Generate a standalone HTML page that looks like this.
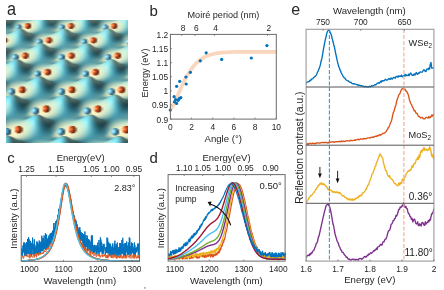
<!DOCTYPE html>
<html><head><meta charset="utf-8"><style>
html,body{margin:0;padding:0;background:#fff;width:444px;height:290px;overflow:hidden}
svg{display:block;position:absolute;left:0;top:0;will-change:transform;font-family:"Liberation Sans",sans-serif}
#ta{position:absolute;left:6px;top:20px;width:122px;height:123px;overflow:hidden}
#ta i{display:block;height:1px;width:122px}
</style></head><body><div id="ta"><i style="background:linear-gradient(90deg,#576f68,#5d746c,#5b726b,#526f6c,#507e81,#548b91,#659d9f,#75aaa8,#80b2ae,#88b8b2,#8cbcb5,#90c0b8,#99c8be,#b1ddce,#c1eddb,#baf1e4,#aaf2f0,#91e8f1,#72c6d1,#5da1a9,#528184,#53706c,#5a726a,#5c736b,#516c68,#4d797c,#4d868d,#5d979c,#6ea5a6,#7cb0ad,#85b7b1,#8bbbb4,#90bfb7,#97c6bc,#abd7c9,#c1ead7,#c0f0df,#b4f2ea,#a1f0f3,#84dae3,#6cb6be,#599197,#547877,#576f69,#5a726a,#516b66,#4b7476,#498189,#539098,#66a0a3,#76acab,#81b4b0,#89bab4,#8ebeb7,#95c4bb,#a5d2c5,#bde6d3,#c4efdc,#bcf1e4,#adf3f0,#95e8ef,#82d2da)"></i><i style="background:linear-gradient(90deg,#4c6662,#526b65,#546d67,#4f6965,#4c7375,#5f8e8e,#78a6a2,#8cb6ad,#9ac1b4,#a3c9b9,#aacfbe,#b3d7c4,#c0e2cc,#cdecd3,#cef1d9,#c3f2e1,#b1f3ed,#95e7ed,#6ec3d1,#579faa,#4c8086,#4b6d6d,#4f6864,#526b66,#4d6763,#476c6d,#528285,#6c9d9c,#83b1aa,#94beb2,#a0c6b8,#a8cdbd,#b0d5c3,#bcdfca,#cbead1,#d1f0d6,#caf2dd,#bcf3e7,#a6f0f0,#82d7e1,#65b3be,#539199,#4d7779,#4c6865,#506964,#4c6662,#446565,#46777c,#5f9396,#79a9a6,#8db9b0,#9cc4b7,#a5cbbc,#aed3c1,#b9dcc8,#c7e7cf,#d1eed4,#cff1d9,#c5f3e1,#b3f3ec,#96e7ec,#7bcfda)"></i><i style="background:linear-gradient(90deg,#416061,#44605e,#47625f,#466462,#4f7676,#709994,#8eb3a8,#a5c5b4,#b4d0bb,#bed8c0,#c6dec4,#cee5ca,#d6ecce,#dbf1d2,#d6f2d6,#c9f3df,#b5f2e9,#96e4e8,#6cc2cf,#519dab,#457f88,#426b6e,#42605f,#45605e,#435f5e,#44696b,#5f8a89,#80a9a1,#9bbeb0,#aecdb9,#bbd6be,#c3ddc3,#cbe3c8,#d4eacd,#daf0d0,#daf2d4,#d1f3da,#c1f3e4,#a8eeeb,#83d5de,#5fb1bf,#4d909b,#45757b,#426465,#425e5c,#405c5b,#3d5f61,#4e7a7d,#709c99,#8eb6ab,#a6c7b6,#b6d3bd,#c0dac2,#c9e1c7,#d1e8cc,#d9eecf,#dbf1d2,#d6f2d7,#caf3df,#b7f2e8,#98e4e7,#79ced8)"></i><i style="background:linear-gradient(90deg,#375e62,#395a5c,#3b5a5b,#3f6265,#5a817f,#81a59c,#a3c1af,#bcd3ba,#ccdec0,#d5e4c4,#ddab82,#ac3e16,#b4a98b,#e2f2d0,#dbf2d4,#ccf2dc,#b6efe5,#95e0e3,#6dc1cd,#4d9cac,#3f7f8b,#3a6971,#385c60,#38585a,#395b5e,#486f71,#6d9591,#92b5a8,#b1ccb6,#c5dabe,#d1e2c3,#d9e7c6,#d77041,#924829,#dfebc8,#dff2d2,#d5f2d8,#c3f1e1,#a9eae6,#83d3db,#5db0bf,#478f9d,#3d747e,#386267,#36585a,#365659,#3a6165,#598484,#80a79f,#a2c2b1,#bcd4bb,#cddfc1,#d6e5c5,#dfc49d,#bf4a1e,#ab9274,#e2f2d0,#dbf3d5,#cef2dc,#b8f0e4,#98e1e3,#7acdd6)"></i><i style="background:linear-gradient(90deg,#305d66,#30595f,#335a5f,#40696d,#658d8a,#8fb1a4,#7bb2c0,#91ada4,#dee7c3,#e5ecc6,#f9753d,#bf471a,#794930,#e6f3ce,#ddf2d3,#cdf1da,#b5ece1,#93dcde,#6cbfcb,#4c9dad,#3b7f8e,#336974,#305c63,#30585d,#355e63,#507a7c,#79a099,#96bdb6,#71a5b5,#bdcdb3,#e3eac5,#edc598,#f26028,#933513,#b0a384,#e3f2d0,#d7f2d6,#c3efdd,#a7e6e1,#82d0d7,#5db0bf,#438f9f,#387582,#31626b,#2f585e,#2f575e,#3e696e,#638e8c,#8db2a6,#90bfc2,#7ba2a7,#d9e3c0,#e6edc6,#f78f59,#d75220,#75341a,#e6f3ce,#def2d3,#cff1d9,#b8ece0,#97dede,#7acbd3)"></i><i style="background:linear-gradient(90deg,#2f636d,#2e5e67,#305f67,#467478,#6d9793,#8ac1c3,#68bde7,#38667e,#dbdfbb,#f1f2c7,#ff9559,#c25024,#5c210c,#e9f2cd,#def1d1,#cceed7,#b2e7dc,#8fd7d9,#6bbdc9,#4c9eaf,#3b8393,#346e7b,#30616b,#305e66,#38666e,#578486,#82a9a0,#83cfe5,#5ba5cc,#5d7b7f,#f0f1c6,#f7ae7b,#f89a62,#923513,#957b5f,#e4f2cf,#d7f0d4,#c1ecda,#a4e2dc,#7fcdd3,#5cb0be,#4391a2,#377987,#316772,#305f68,#336169,#447379,#6b9794,#92bbb3,#74cff7,#4b88a9,#a3b19d,#f1f2c7,#fd955a,#dc6d3c,#6c270e,#d5d8b5,#def1d1,#ceefd6,#b5e8dc,#94dada,#78c8d1)"></i><i style="background:linear-gradient(90deg,#3a707a,#396c75,#3a6d75,#4b7e83,#729f9b,#8ed6dd,#94d7ee,#396881,#afb8a1,#f8f5c8,#f7652d,#ae4119,#57200b,#e9f2cb,#ddf0cf,#c9ebd4,#ade2d8,#8ad2d4,#68bac6,#4d9faf,#428998,#3d7985,#3b7079,#3d6e75,#41747b,#5c8d8f,#8ab1a7,#a0eefd,#69b3d4,#34586a,#f7f4c7,#f8ad79,#e7622d,#832f11,#957b5f,#e4f1cd,#d5eed1,#bee8d6,#9fdcd7,#7bc8cf,#5baebd,#4694a5,#3e818f,#3b747e,#3d6f76,#417279,#4b7f84,#709e9b,#93c9c8,#a7f1fe,#4e8daf,#758983,#f7f5c8,#f8763e,#c84e21,#63240d,#d6d7b3,#def0cf,#ccecd4,#b1e4d7,#90d5d5,#75c5cd)"></i><i style="background:linear-gradient(90deg,#477e86,#477c83,#487e84,#50878e,#7eaaa4,#94dae3,#85cce7,#356178,#aab39d,#f9f6c8,#d96c3b,#903412,#70462e,#e7f0ca,#d9edcd,#c4e7d1,#a6dcd3,#84cccf,#64b5c2,#50a0b0,#49909d,#47848e,#497f86,#4c7f84,#50848a,#609597,#a1c0af,#96e9ff,#61a7c9,#2b4f62,#f9f5c8,#f1cc9d,#c24619,#6d280e,#b1a282,#e2efcc,#d1ebcf,#b8e3d2,#98d6d2,#76c3cb,#59acbb,#4a98a8,#468a96,#47818a,#4b7f85,#528488,#598d91,#7ca9a3,#9ed2d1,#9ae8fc,#4984a4,#687d7b,#f9f6c8,#e08251,#a63c15,#612d17,#e8f0ca,#dbedcd,#c7e8d1,#acdfd3,#8acfd0,#71c0c9)"></i><i style="background:linear-gradient(90deg,#538b91,#558b8f,#578d91,#609699,#9cbeae,#95cdd9,#65aecd,#4d7b85,#b2bba1,#f9f6c8,#dab58a,#68260d,#b7a886,#e3edc9,#d3e9cb,#bce1cd,#9dd5cd,#7cc4c8,#60b1be,#54a2b0,#4f96a1,#518f97,#568c91,#5b8e91,#609496,#7aa8a3,#bad0b6,#74c3e9,#5a9cb8,#4d7881,#d6dbb6,#f9f5c8,#a35d3a,#704129,#e4e8c2,#ddebca,#cae6cc,#b0dcce,#90cfcc,#6fbcc5,#58aab8,#4f9baa,#4e919c,#528d94,#598e91,#629394,#6d9e9d,#9abcad,#b5d6c9,#66b8e3,#4b829a,#769b97,#ced5b3,#e3c79b,#783015,#a48d6f,#e4eec9,#d6e9cb,#c0e2cd,#a3d7ce,#82c8ca,#6ab9c4)"></i><i style="background:linear-gradient(90deg,#5e9699,#619799,#659a9b,#82aea6,#b2cbb4,#aad7cb,#7ecdd4,#70acae,#61817b,#dadbb5,#f7f4c7,#f2f2c6,#e8edc6,#dae8c6,#c8e2c7,#afd8c8,#90cac6,#71bac1,#60adb8,#57a2ae,#559aa4,#5a979d,#60979a,#679a9b,#74a4a1,#9cbeae,#c9d9ba,#9acccb,#85d1d5,#79b6b8,#618682,#caceac,#f5f3c7,#eff0c6,#e2ebc6,#d4e6c7,#bfdec8,#a4d3c8,#84c4c5,#67b4be,#59a8b5,#539daa,#5597a1,#5c969b,#65999a,#6e9f9e,#89b1a8,#b3ccb4,#d7e1be,#6faec3,#89d2d5,#80bfc0,#638c89,#bfc6a6,#f3f2c7,#eaeec6,#dde9c6,#cce3c7,#b5dac8,#98cec7,#78bec3,#62b1bd)"></i><i style="background:linear-gradient(90deg,#659c9f,#699e9f,#74a5a2,#95b9ac,#a6cebe,#82dee9,#82d5dd,#72b3b6,#5b8483,#657b71,#e4e6bd,#eceec5,#dfe8c4,#cbdfc2,#b7d7c2,#9dcbc0,#80bdbd,#68b0b8,#5fa9b3,#59a1ac,#589ca6,#5f9ca1,#679ea0,#6fa2a1,#85afa7,#a7c5b1,#b9d6bf,#88dee6,#8adbe1,#7bbdc0,#628f8e,#617970,#dee1ba,#e8ecc4,#d8e5c3,#c4dcc2,#aed3c1,#92c6bf,#75b8bc,#60abb6,#5aa5b0,#559da9,#599ba4,#619ca0,#6ba0a0,#77a6a3,#97bbad,#b8cfb6,#c9ddc0,#90dfe2,#91dfe3,#84c7c8,#699a99,#5d7770,#d7dcb7,#e3eac4,#d1e2c3,#bdd9c2,#a4cec1,#88c1be,#6bb2ba,#5ba9b5)"></i><i style="background:linear-gradient(90deg,#679fa2,#6ba1a2,#73a5a3,#88b3aa,#8adce1,#84e6f3,#82d8e2,#70b4ba,#5c8a8b,#58726c,#7f9282,#d7e2c0,#c7dabe,#b3d0bb,#9ec6b9,#86bab6,#6daeb3,#61a7b0,#5da4ae,#589faa,#599da6,#609ea4,#68a0a2,#70a3a3,#7eaca6,#95bbae,#91dbdc,#8ae7f2,#8bdfe6,#7abfc3,#639596,#5a7570,#7b8e7f,#d3e0c0,#c0d7bd,#accdbb,#96c2b8,#7db6b5,#65aab1,#5ba4af,#58a1ac,#559da8,#599ca5,#629ea3,#6ba2a3,#75a6a4,#8ab3a9,#a2c2b0,#96dad9,#90e8ef,#93e4e8,#84c9cc,#6ba0a0,#5b7a75,#768a7d,#cadabc,#b9d3bc,#a5caba,#8dbeb7,#74b2b4,#5da6b0,#56a2ae)"></i><i style="background:linear-gradient(90deg,#64a0a4,#67a0a2,#699fa0,#86c4c4,#97eaee,#8cebf7,#81dae5,#6db4bb,#5a8d90,#57746f,#5e756d,#829b8e,#99bcae,#8db7ad,#7dafab,#6ba6a9,#5c9fa8,#5ba0a9,#5da1aa,#60a2aa,#62a2a8,#62a0a6,#65a0a4,#6aa1a3,#6da1a1,#89c5c2,#9beaec,#91edf6,#8be1ea,#77bfc5,#61979a,#597975,#5e756d,#819b8e,#96bbad,#89b4ac,#77acaa,#64a3a9,#579da7,#589ea9,#5ba0a9,#5fa1a9,#61a1a8,#62a0a6,#66a1a4,#6da2a3,#71a3a1,#8cc5c1,#9ee9e9,#96edf4,#93e6ed,#81c9ce,#69a2a5,#5b7f7c,#5d746c,#7d978b,#92b9ad,#83b2ab,#71a9aa,#5ea0a8,#529aa7,#539ca8)"></i><i style="background:linear-gradient(90deg,#75adad,#74acac,#8ac1bd,#aeeae1,#a5efed,#96eff7,#7ed9e6,#68b3bc,#568d93,#537472,#59716a,#5f756d,#5c7974,#5d8887,#5a9094,#53919a,#5697a0,#62a0a6,#6ba7aa,#71abad,#75aeae,#76aeae,#75adad,#76adac,#8cc2bd,#b0e9df,#a9efeb,#9bf0f6,#88e1ec,#72bec6,#5e989d,#557b79,#59716a,#5e756c,#5c7a75,#5b8889,#578f94,#4f909a,#5396a0,#5f9fa6,#69a6aa,#70abac,#74adae,#76aead,#76adad,#77aead,#8fc4be,#b2e9dd,#adefe8,#a0f1f4,#91e7ef,#7cc8cf,#66a3a8,#588181,#58716b,#5d746c,#5b7c78,#59898a,#548e95,#4c8f9a,#5095a0,#599ba4)"></i><i style="background:linear-gradient(90deg,#9ac8be,#a7d5c8,#bde9d7,#bdefe0,#b0f2eb,#9ef0f5,#7dd8e5,#62b1bc,#518d95,#4d7475,#516b66,#587069,#576f68,#4e6b67,#4c797c,#4f868d,#61999c,#72a7a7,#7fb1ad,#88b8b2,#8ebdb5,#92c1b8,#99c7bd,#a9d6c8,#bee8d6,#c0efdf,#b4f2e9,#a4f2f4,#87e0eb,#6cbcc6,#58979f,#507b7c,#516c68,#576f68,#556d67,#4b6967,#49787c,#4b858d,#5c979c,#6ea6a6,#7cb0ad,#87b8b2,#8dbdb5,#93c1b9,#9ac8be,#aad6c8,#bfe8d5,#c2efdd,#b9f2e6,#aaf3f2,#90e7ef,#76c6d0,#60a2a9,#538284,#516e6a,#556d67,#526b65,#476766,#45767c,#47838d,#58959c,#66a1a4)"></i><i style="background:linear-gradient(90deg,#bee0cb,#c8e9d1,#ceefd7,#c7f1de,#b8f3e9,#a3f0f2,#7ed6e2,#5daebd,#4c8c96,#467377,#476563,#4d6662,#4f6863,#496461,#466d6f,#578789,#71a19e,#87b3ab,#97bfb3,#a2c7b9,#a9cebd,#b1d5c2,#bbdec9,#c9e9d1,#cfefd6,#caf1dc,#bdf3e6,#aaf2f1,#89dfe8,#66b9c7,#5396a1,#497a7f,#486867,#4b6561,#4c6662,#45615f,#416a6d,#518387,#6c9e9d,#83b1aa,#94beb3,#a0c7b9,#a9cebd,#b1d5c3,#bcdeca,#c9e8d0,#d0efd5,#cdf1db,#c1f3e4,#b0f3ef,#93e5ec,#70c4d0,#5aa1ab,#4c8187,#486b6b,#496360,#496360,#415d5c,#3d676c,#4b8086,#669a9c,#78aaa7)"></i><i style="background:linear-gradient(90deg,#d5ebce,#d9efd1,#d8f2d5,#cef2dc,#bdf3e6,#a5eeed,#80d4de,#5aadbc,#468b98,#3f7279,#3d6163,#405c5b,#425e5c,#405e5d,#476e6f,#66908d,#85ada4,#9ec0b1,#afcdb9,#bbd6be,#c3dcc3,#cae3c8,#d2e9cd,#d9efd0,#d9f1d4,#d1f2da,#c2f3e4,#adf0ec,#8adde4,#63b8c6,#4d95a2,#427981,#3f6568,#3e5c5b,#3f5b5b,#3c5a5b,#41686c,#5e8b8a,#7ea8a2,#99beb0,#adccb9,#bad5be,#c2dcc3,#cae3c8,#d2e9cc,#d9efd0,#daf1d3,#d4f2d8,#c7f3e1,#b4f2eb,#95e3e8,#6dc2cf,#549fac,#468089,#40696d,#3d5b5c,#3c5959,#385658,#3b6468,#578587,#77a4a0,#8db6ac)"></i><i style="background:linear-gradient(90deg,#cfd5b5,#e2f1cf,#ddf2d3,#d2f2d9,#bff2e3,#a5eae8,#7fd2db,#59adbc,#428b9a,#39717c,#355f65,#355659,#365557,#395c5f,#507778,#759c95,#98b9aa,#b3cdb7,#c6dabe,#d1e1c2,#d7e6c6,#d0855b,#a17657,#e2f1cf,#dff2d2,#d5f3d8,#c5f2e1,#aeede8,#8adae0,#63b8c6,#4894a4,#3d7884,#37646a,#34575b,#345356,#34585b,#477073,#6c9591,#90b4a8,#aecab6,#c2d8be,#cfe1c2,#d7e6c6,#d9af88,#ae6b48,#d1d7b6,#e0f2d1,#d8f3d6,#caf3de,#b5f0e6,#95e1e3,#6ec2ce,#4f9eae,#40808c,#386870,#33585d,#315155,#305458,#406a6e,#628e8d,#87afa5,#a0c2b1)"></i><i style="background:linear-gradient(90deg,#5c2b17,#e3ecc7,#e1f2d1,#d4f2d7,#c0efe0,#a3e6e3,#7ecfd7,#5aadbc,#408c9c,#35727f,#2f6069,#2d565d,#2f555b,#396166,#598282,#82a79d,#9fc0b3,#98b7af,#d8e4c2,#e2eac5,#ecc498,#e85620,#893111,#beb796,#e3f3d0,#d8f2d6,#c6f0dd,#aceae3,#89d6dc,#64b7c5,#4795a6,#387987,#31646e,#2d575f,#2d545a,#335c62,#507b7c,#779f99,#9fbfae,#92b8b5,#cadabc,#e0e9c5,#e6e8c1,#f56027,#b14017,#94765a,#e4f3cf,#dbf2d4,#ccf1db,#b5ece2,#94dddf,#6ec1cc,#4e9faf,#3c8190,#336974,#2d5961,#2b5259,#2e575e,#477377,#6d9894,#96b9ab,#abc9b8)"></i><i style="background:linear-gradient(90deg,#541e0b,#c9c4a2,#e2f2d0,#d4f0d5,#beecdc,#a0e1de,#7bcbd3,#59adbc,#418e9f,#347584,#2d636f,#2a5a63,#2c5962,#3e6b71,#618c8b,#8cb0a4,#77c5e6,#4b87a8,#a0af9d,#eef0c6,#f8a772,#f38a53,#8c3312,#998265,#e4f2cf,#d8f1d4,#c5eeda,#a9e5de,#86d2d7,#63b6c4,#4797a8,#377c8b,#2f6774,#2b5b66,#2b5962,#37656c,#578485,#81a8a0,#8dc6d0,#5eaad3,#608087,#edf0c6,#f3d1a3,#ff9256,#b7441a,#71412a,#e6f2ce,#dcf1d2,#cbefd8,#b2e9de,#91d9da,#6dbfcb,#4ea0b1,#3a8394,#306c7a,#2b5d68,#2b5861,#326069,#4d7c80,#76a09b,#9bc1b6,#73caf3)"></i><i style="background:linear-gradient(90deg,#521e0b,#c4bd9b,#e2f1ce,#d2eed3,#bae8d8,#9bdcd9,#78c7cf,#58abbb,#4391a2,#3a7d8b,#346d79,#32656f,#33656f,#43757c,#679594,#8bbcb9,#8be5fe,#5091b4,#62797a,#f6f4c7,#fb9d67,#ec7743,#822f11,#907459,#e5f1cd,#d7efd2,#c2ead7,#a5e0d9,#83ced3,#61b4c2,#4798aa,#3b8291,#35717e,#336772,#35666f,#3d7078,#5c8c8e,#88afa6,#8de1f0,#6fbee1,#345e74,#e2e3bd,#f8ce9e,#fd8147,#ab3f18,#6a3a23,#e7f2cc,#dbf0d0,#c9ecd6,#afe4d9,#8dd5d6,#6bbdc8,#4ea1b2,#3d8898,#367583,#336974,#35676f,#3b6d75,#528488,#7ba7a1,#93d0d3,#96efff)"></i><i style="background:linear-gradient(90deg,#521e0b,#cdc9a6,#e0efcd,#ceebd1,#b4e3d4,#95d6d4,#73c1ca,#56a9b9,#4795a5,#418592,#3e7984,#3e747d,#40757d,#487f86,#6b9c9b,#93c9c8,#b7f6ff,#4f8eb0,#425e68,#f9f5c8,#f1aa78,#ca4a1b,#71290e,#a38e70,#e3f0cc,#d4ecd0,#bde6d4,#9fdbd5,#7dc9ce,#5eb1c0,#499aab,#418997,#3f7c88,#3f757e,#42767e,#477d84,#5f9395,#99bcad,#a4edfa,#80c5e0,#335c72,#c4c9ab,#f4d7a8,#de511d,#933513,#79533a,#e6f0cb,#d9eecf,#c5e8d3,#a9dfd5,#88cfd1,#68b9c5,#4ea1b2,#428d9d,#3e7e8b,#3e7680,#42767e,#497d83,#568c91,#88b1a7,#97dadf,#d7ffff)"></i><i style="background:linear-gradient(90deg,#8c6d51,#e8efc9,#dbeccb,#c8e6ce,#adddd0,#8dcece,#6dbbc5,#56a8b7,#4c98a7,#498c98,#49858e,#4b8289,#4d848a,#518b91,#7eaba4,#a8d0c8,#74ccf3,#467e9d,#4e676c,#f9f6c8,#f0daac,#a5401a,#612812,#d2cfab,#e0edca,#cfe8cd,#b6e0d0,#98d4cf,#77c2c9,#5baebc,#4d9cac,#488f9d,#498791,#4c838a,#51868b,#568c91,#6ea09e,#b2cbb4,#83d6f4,#5da6cc,#2e5468,#d2d5b2,#f9f6c8,#be6238,#71290e,#a89475,#e3eeca,#d5eacc,#bfe4cf,#a2d9d0,#82c9cc,#63b5c1,#4ea1b2,#4792a1,#468894,#4a838c,#50858b,#588d90,#669a9b,#a1c1af,#a0d6dc,#7cd7fb)"></i><i style="background:linear-gradient(90deg,#eaefc7,#e2ecc7,#d3e7c9,#bee0ca,#a2d5ca,#82c6c7,#66b4bf,#59a7b4,#519ba8,#51939e,#548f96,#578f94,#5b9195,#689c9d,#9abdad,#cadbbe,#66b0d2,#64a0ac,#6f928d,#e4e4bb,#f8f5c7,#ceba93,#c3b592,#e5edc7,#d9e9c8,#c6e2ca,#acd9cb,#8dcbc9,#6fbac3,#59aab8,#519eac,#4f95a1,#529098,#588f95,#5e9396,#679b9b,#8eb5aa,#c3d6b8,#8ec4d2,#5899b6,#61979d,#96b09f,#eeedc1,#e6dbb0,#ae9675,#e9eec7,#ddeac8,#cde5c9,#b6dccb,#98d0ca,#79c1c6,#5eafbc,#51a1b0,#4c96a4,#4f909a,#558f95,#5d9295,#679a9a,#85afa7,#b5cdb5,#bbd7c8,#60aed7)"></i><i style="background:linear-gradient(90deg,#e4ebc5,#d8e6c5,#c7dfc5,#afd6c5,#93c9c3,#76bbbf,#62aeb9,#5aa5b1,#549ca8,#5798a1,#5c979d,#61989b,#679c9d,#83afa7,#abc7b2,#cbddbf,#88d5d9,#7ec7cc,#6a9e9f,#688178,#e2e3bb,#f3f2c6,#eceec5,#dee8c5,#cde2c5,#b8d9c5,#9ecec4,#80c0c1,#65b1bb,#5aa7b4,#539eab,#5499a3,#59979e,#61989c,#689c9d,#7ca9a4,#a3c2b0,#c9d9b9,#bad6c1,#84d1d8,#83c8cb,#6c9e9e,#738a7e,#ebebc1,#eff0c6,#e3ebc5,#d3e4c5,#c1ddc5,#a8d3c4,#8bc6c3,#6eb7be,#59a9b7,#53a0ae,#5099a6,#55969f,#5d979c,#679c9d,#75a5a2,#9bbdae,#c0d4b7,#e0e6bf,#95b7b4)"></i><i style="background:linear-gradient(90deg,#d6e3c2,#c7dcc0,#b3d3bf,#9bc8bd,#81bbba,#69afb6,#60a9b2,#5aa3ad,#569ca8,#5a9ba3,#619ca1,#679ea0,#6fa2a2,#8bb3a9,#a7c5b1,#8cd8dc,#85e0ea,#7fcdd3,#6ca6a8,#577977,#798c7d,#e6e9c1,#e0e8c3,#cfe0c1,#bbd6bf,#a5cdbe,#8bc0bb,#70b3b8,#5fa9b3,#5aa4af,#549eaa,#569ba5,#5d9ba2,#659ea0,#6da1a1,#83afa7,#a2c2b0,#b8d1b8,#8cdce0,#8de1e7,#85ced2,#6fa7a8,#597a76,#879886,#e5eac3,#d7e3c2,#c2dac0,#aed1be,#95c5bc,#7ab8b9,#62abb5,#57a4b1,#549fac,#529aa6,#599aa2,#619ca0,#6ba0a1,#7ba9a5,#9bbdae,#b7ceb5,#c1dabf,#92dcdd)"></i><i style="background:linear-gradient(90deg,#b6d0ba,#a9cab8,#97c1b6,#82b7b3,#6cabb0,#60a5ae,#5da3ad,#59a0aa,#589da7,#5b9da5,#619ea3,#67a0a2,#6ca1a2,#76a7a4,#87c6c5,#86e6f1,#87e5f1,#7ecfd6,#6aa8ac,#58807f,#59716a,#90a390,#c1d6bb,#b1ceb9,#9fc5b7,#8bbbb4,#75b0b1,#60a5ae,#5aa2ad,#58a0ab,#569da8,#589ca6,#5e9da4,#659fa3,#6da2a2,#75a6a4,#84afa7,#8fd2d1,#8ae7f1,#8fe6ee,#84d0d5,#6faaad,#5a8180,#5a726b,#a0b49f,#b8d1ba,#a7c9b7,#94bfb5,#7eb4b2,#67a9af,#57a1ac,#559fab,#549da9,#559ba6,#599ca4,#619ea3,#6aa1a2,#73a5a3,#82aea7,#93b9ad,#90d9da,#8ee7ee)"></i><i style="background:linear-gradient(90deg,#87aea4,#82aca5,#76a8a6,#67a2a5,#5a9ca5,#5b9ea7,#5fa1a9,#63a4aa,#65a5aa,#66a4a8,#64a1a6,#65a0a4,#669ea1,#73acac,#9ae4e4,#94ecf3,#8ae9f6,#7ccfd8,#67a8af,#568385,#56706b,#5d746c,#7d9c91,#85ada4,#7baaa5,#6da4a5,#5d9da4,#559aa5,#589da7,#5ea1a9,#62a3aa,#65a4a9,#65a2a7,#65a1a5,#67a0a3,#699fa0,#82bcba,#9ee8e7,#95edf3,#90eaf3,#81d0d8,#6cabb0,#598586,#58716b,#5f766e,#82a59a,#80aba4,#73a6a5,#64a0a4,#5499a4,#5199a5,#579da7,#5da0a9,#62a2a9,#64a3a8,#64a1a6,#66a1a4,#69a0a2,#6da1a0,#90cbc7,#a0e9e8,#99edf1)"></i><i style="background:linear-gradient(90deg,#526f6b,#547b7b,#55888c,#518d95,#56959d,#639fa4,#6da7a9,#74acad,#78b0af,#7ab1b0,#7bb1b0,#7bb2b0,#86bcb8,#aae2d8,#acede7,#a0f0f3,#8fecf7,#77ced9,#62a8b0,#538588,#516f6c,#576f69,#5a716a,#52706d,#538082,#528990,#4d8d97,#56969f,#62a0a6,#6da8aa,#74adad,#78b0af,#7ab1b0,#7bb1b0,#7db3b1,#90c5bf,#b0e7dc,#adeee7,#a2f1f3,#91ecf6,#7dcfd9,#67abb2,#56878a,#53706d,#587069,#577069,#517473,#518488,#4d8a92,#4b8d99,#5697a1,#62a1a7,#6ca8ab,#74adae,#78b0af,#7ab1b0,#7cb2b0,#81b6b3,#9cd0c7,#b3e9dd,#afefe7,#a6f1f0)"></i><i style="background:linear-gradient(90deg,#526b65,#4c6864,#4a7477,#4e8489,#61979a,#72a6a5,#80b1ad,#89b9b2,#90beb5,#94c2b9,#9ac7bd,#a4d1c5,#b8e3d2,#c0eddc,#b8f1e5,#aaf3f1,#95ecf5,#73ccd9,#5ca6b1,#4d848b,#4b6e6e,#4e6863,#536c66,#506964,#486766,#47767b,#4e868d,#61999d,#72a8a7,#80b2ae,#8abab3,#91bfb6,#96c4ba,#9ccabf,#aad6c8,#bce6d4,#c1eedc,#b9f1e5,#acf3f1,#96ecf4,#77cdd9,#61a9b3,#51878d,#4c6f6f,#4f6864,#516a65,#4a6561,#44696a,#437880,#4d8991,#619b9f,#72a9a9,#80b3af,#8bbbb4,#91c0b7,#97c5bb,#a0cdc1,#b0dbcb,#c0e9d6,#c3efdd,#baf1e5,#b1f4ee)"></i><i style="background:linear-gradient(90deg,#4a6461,#46625f,#456b6d,#588687,#719f9c,#87b2aa,#97beb2,#a2c7b8,#a9cdbc,#b0d3c1,#b8dbc7,#c4e5cf,#cdedd5,#ccf1da,#c1f2e3,#b1f4ef,#99ebf1,#72cad8,#57a4b2,#48848d,#436c70,#44605f,#486360,#47625f,#425f5e,#426c70,#58898b,#71a19f,#87b3ab,#97bfb3,#a3c8b9,#abcfbe,#b2d5c3,#bbdec9,#c7e7d0,#cfeed5,#ccf1da,#c2f3e3,#b3f4ee,#9aebf0,#74ccd8,#5ba7b4,#4b868f,#456e71,#44605f,#46615f,#435e5d,#3c5d5e,#406f75,#578b8f,#71a3a1,#87b4ad,#98c0b5,#a3c9ba,#acd0bf,#b4d7c4,#bee0cb,#cae9d1,#d0efd5,#cdf1da,#c3f3e3,#b9f5eb)"></i><i style="background:linear-gradient(90deg,#3e5b5a,#3d5b5c,#476d6f,#668f8c,#84aba2,#9dbfb0,#aeccb8,#b9d4bd,#c1dbc2,#c8e1c6,#cfe7cb,#d6edcf,#d9f1d3,#d3f2d8,#c7f3e0,#b6f3eb,#9be9ed,#73c9d6,#52a3b2,#43838f,#3c6b72,#3a5b5e,#3b5858,#3c5959,#39595b,#466f72,#65918f,#84aca4,#9cc0b1,#aecdb9,#bad6be,#c3dcc3,#cae2c7,#d1e9cc,#d8eed0,#d9f1d3,#d4f2d8,#c8f3e0,#b7f4eb,#9ce9ec,#75cbd7,#56a6b5,#458691,#3e6d73,#3a5b5e,#3a5757,#385556,#35585b,#467175,#659392,#83ada6,#9cc1b2,#afceba,#bbd7bf,#c4ddc4,#cbe4c8,#d3eacd,#d8efd0,#daf1d3,#d4f2d8,#c9f4e0,#bef4e8)"></i><i style="background:linear-gradient(90deg,#345356,#375a5e,#517877,#759b94,#96b8a9,#b1ccb6,#c3d8bd,#cee0c2,#d5e5c5,#d3b691,#b49574,#e1f0ce,#e0f2d1,#d8f3d6,#cbf3de,#b7f1e8,#9ae6e8,#74c8d4,#51a3b3,#3e8391,#366b74,#325a60,#315255,#315154,#355a5e,#507979,#749c96,#95b8aa,#b1ccb7,#c3d9be,#cfe1c2,#d6e6c5,#d6c19d,#b99775,#ddeac8,#e0f2d1,#d9f3d6,#ccf3de,#b9f2e7,#9ce6e7,#76cad5,#54a6b5,#418694,#376c76,#325a60,#2f5054,#2f4f53,#345a5f,#4f7a7c,#729d98,#95b9ac,#b0ccb7,#c4d9be,#d0e1c3,#d7e7c6,#d8cca8,#b98d6a,#d9e4c2,#e0f2d1,#d9f3d6,#cdf3de,#c0f3e5)"></i><i style="background:linear-gradient(90deg,#2d545a,#3a6266,#5b8381,#82a69c,#a6c3b0,#c2d6bb,#d5e2c1,#dfe8c4,#e6deb7,#e75923,#963613,#ab9c7e,#e4f3cf,#dbf2d4,#cdf2dc,#b7efe4,#99e2e3,#73c6d1,#52a4b4,#3c8494,#326c78,#2c5a64,#2a5259,#2b5258,#396267,#598382,#80a69d,#a5c3b0,#c2d6bb,#d5e2c1,#dfe9c4,#e5e8c1,#ec642e,#a53c15,#a89678,#e4f3cf,#dcf2d4,#cef2db,#b9efe3,#9be2e3,#76c8d2,#54a7b7,#3e8797,#336d7a,#2c5b64,#295158,#2a5157,#386267,#588384,#7fa69e,#a4c3b1,#c1d6bc,#d5e2c2,#e0e9c5,#e5edc7,#ef652f,#b44117,#9a7d61,#e4f3cf,#dcf3d4,#cff2db,#c1f1e1)"></i><i style="background:linear-gradient(90deg,#2e5a62,#406c71,#638d8b,#8cafa3,#7bbad0,#4d829b,#c7d1b3,#ecefc6,#f4bf8e,#f87840,#9d3914,#836147,#e7f2ce,#dcf2d2,#ccf0d9,#b5ebdf,#96ddde,#72c4ce,#52a5b5,#3c8798,#306f7d,#295d69,#27555f,#2b5760,#3f6b71,#618c8b,#8aafa4,#8bc2cd,#4c8aab,#b0bfa8,#ecefc6,#f3c898,#fd7b40,#ae4017,#784e35,#e7f2ce,#ddf2d2,#cef0d9,#b7ebdf,#99dede,#75c6d0,#55a8b7,#3e899a,#31707f,#2a5e6a,#27555f,#2a5760,#3d6b71,#5f8c8c,#89afa4,#94c5c8,#559abf,#90a69c,#ecefc6,#f1d5a8,#ff7b3f,#c0471b,#76432a,#e7f3ce,#def2d2,#cff0d8,#c0eedd)"></i><i style="background:linear-gradient(90deg,#32646d,#45767b,#699593,#8dbbb5,#76d2f9,#4b89aa,#738882,#f5f3c7,#faab76,#f99860,#973714,#79533b,#e7f2cd,#dcf0d1,#cbedd6,#b2e7db,#92d8d9,#6fc1cb,#52a5b5,#3e8a9b,#347584,#2e6672,#2c5f69,#2f616b,#43757b,#679493,#90b7ac,#7bd8fc,#579dc3,#577479,#f5f3c7,#f9bc89,#fe9c62,#a93e17,#693a23,#e8f2cd,#ddf1d1,#cceed6,#b4e7db,#95dad9,#73c3cd,#54a8b8,#3f8c9e,#347685,#2e6673,#2d5f6a,#30616b,#42747b,#659493,#91b5a9,#84d8f1,#62b0d9,#3e6577,#eeeec4,#f8cf9e,#ff9c61,#bc481d,#5c210c,#e8f2cd,#def1d0,#ceeed6,#bdead9)"></i><i style="background:linear-gradient(90deg,#376e78,#497e85,#6d9c9a,#8ecacb,#b2f3fe,#4c8aab,#48636a,#f8f5c8,#f7b17e,#e15623,#863111,#7e5940,#e7f1cc,#daefcf,#c7ead4,#ade2d7,#8dd3d4,#6cbdc8,#51a4b5,#418e9f,#3a7d8b,#36717d,#366c76,#386e78,#477d84,#6b9b9a,#94c4bf,#b3f8ff,#5da3c8,#2c4f62,#f8f5c8,#f6bf8e,#e95924,#973713,#6b3f29,#e7f1cb,#dbefcf,#c9ebd3,#afe3d7,#90d5d4,#6fc0ca,#53a7b7,#418fa1,#397e8d,#36717e,#376c76,#3a6f78,#467c84,#689999,#9fc1b2,#a7f2ff,#76c0df,#335c72,#d7dab6,#f7d3a3,#ef5c25,#a73d16,#602d17,#e8f1cb,#dcefcf,#cbebd3,#b9e6d6)"></i><i style="background:linear-gradient(90deg,#417b84,#4b858d,#7aa8a2,#9dd2d0,#92e1f9,#47809f,#415c66,#f9f6c8,#f4dbad,#bd4418,#6f280e,#9f876a,#e4efca,#d6eccd,#c2e6d1,#a6dcd2,#86cccf,#67b8c4,#50a3b4,#4592a2,#418592,#407c87,#417982,#447c84,#4c858d,#77a6a1,#a4cfc7,#96e9fe,#5597bb,#2a4c5e,#f9f5c8,#f6e6b8,#c34719,#7b2d10,#917358,#e5efca,#d8eccd,#c4e6d0,#a9ddd2,#8acfd0,#6bbbc6,#51a5b6,#4493a4,#408594,#3f7c88,#427a83,#477e85,#4e878e,#74a4a0,#aecdbc,#91e8ff,#67b1d4,#30576c,#cbcfaf,#f8f0c2,#c94e1f,#883111,#87664c,#e6efca,#d9eccd,#c6e7d0,#b4e1d2)"></i><i style="background:linear-gradient(90deg,#4c8790,#579197,#95b9ac,#abd2cb,#64b5e0,#3d6f89,#627776,#faf6c8,#f9f5c8,#ba8761,#704129,#dbdbb6,#e0ecc9,#d0e7cb,#b9e0cd,#9dd4cd,#7ec5c9,#62b3bf,#51a2b2,#4a95a4,#498c98,#4a8790,#4d868d,#518990,#5a9397,#90b7aa,#c1d7bf,#69bdea,#4882a1,#3b5863,#faf6c8,#f9f5c8,#c4946d,#6f3c23,#d7d5b0,#e1ecc9,#d2e8cb,#bce1cd,#a1d6cd,#82c7ca,#65b5c1,#51a4b4,#4996a6,#478d9a,#498791,#4e878e,#548b91,#5e9598,#8db5a9,#c8d9ba,#72c4ed,#5294b8,#2b4e61,#ecebc1,#f9f5c8,#cca178,#6f371e,#d3cfaa,#e2edc8,#d4e8ca,#bfe2cd,#acdbce)"></i><i style="background:linear-gradient(90deg,#599398,#74a5a2,#a8c5b1,#d4e0be,#6db2c5,#68a4a9,#6f8d86,#efecc1,#f8f5c7,#f5f3c7,#f0f1c6,#e5ecc6,#d7e7c6,#c6e1c7,#aed7c8,#91cbc7,#74bcc2,#5dadba,#54a2b0,#4e98a6,#50939d,#549098,#589196,#5d9599,#76a6a2,#a5c3b0,#d4dfbc,#71aabe,#63a3b0,#74a5a3,#a3b39c,#f8f5c7,#f6f4c7,#f0f1c6,#e6edc6,#d9e7c6,#c8e2c7,#b1d9c8,#95cdc7,#78bec3,#5eaebb,#52a2b1,#4c98a7,#4e939e,#539098,#599297,#609699,#77a6a2,#a3c2b0,#d0ddbb,#97bfc2,#4d87a0,#669da3,#7da7a0,#c5ccac,#f6f4c7,#f1f1c6,#e8edc6,#dbe8c6,#cbe2c7,#b5dac8,#a1d2c8)"></i><i style="background:linear-gradient(90deg,#6da1a0,#88b2a8,#adc8b2,#a8d7ca,#7cd2dc,#74babf,#5e8c8d,#697f75,#ebebc0,#f1f1c6,#e9edc5,#dce7c4,#cadfc3,#b6d7c2,#9eccc1,#82bfbf,#68b1ba,#5ba8b4,#55a1ad,#529aa6,#5698a1,#5b979d,#61999d,#699e9f,#88b2a8,#abc7b2,#cbdbbb,#9cdad5,#83d2d8,#75b4b7,#5c8382,#94a28d,#f2f1c6,#ebeec5,#dee8c4,#cce0c3,#bad8c2,#a2cec1,#87c2bf,#6cb4bb,#59a8b5,#53a1ae,#4f9aa7,#5397a1,#59979e,#61999d,#6a9e9f,#87b1a8,#abc7b2,#cbdaba,#cedebf,#83cfd6,#87d0d3,#74aeae,#597b78,#c1c8a8,#eceec5,#e1e9c4,#cfe1c3,#bddac2,#a6d0c2,#92c7c0)"></i><i style="background:linear-gradient(90deg,#71a4a2,#84afa7,#93c3b9,#79ddec,#7fdae6,#74bec5,#609496,#52706c,#7b8e7f,#e3e9c3,#d9e4c1,#c9dcbf,#b5d2bd,#a1c9bb,#8abeb9,#71b2b5,#5fa8b2,#5aa4af,#559fab,#539aa6,#599aa3,#5f9ba1,#659da0,#6da1a1,#84b0a8,#9dbfae,#91d1ce,#84e1ec,#85d8e0,#76babe,#5f8e8e,#556f6a,#b0bca1,#dce5c2,#cddec0,#b8d4bd,#a5cbbb,#8ec0b9,#75b4b6,#5fa8b2,#57a2af,#549eab,#519aa7,#5699a3,#5d9ba1,#659da0,#6da2a2,#83afa7,#9ebfaf,#b2ccb5,#8cd9dd,#8de2e9,#89d6da,#77b5b7,#5e8786,#60776f,#ced8b7,#d0e0c0,#bcd6be,#a9cdbc,#93c2ba,#80b9b8)"></i><i style="background:linear-gradient(90deg,#669d9f,#6ba2a3,#84d9e0,#81e7f5,#80deeb,#71bfc8,#5e979b,#527472,#576f68,#8da392,#b2cdb7,#a6c7b5,#98bfb3,#86b7b1,#72adae,#60a3ac,#59a0ab,#589faa,#589ea9,#599da7,#5a9ca5,#5f9da3,#659ea2,#69a0a1,#6ea1a1,#7cb6b4,#87e2ec,#87e7f4,#86dce5,#74bbc1,#5f9395,#55736f,#5d746d,#a9c1ac,#a9c8b5,#9bc1b3,#8ab8b1,#76afaf,#63a5ac,#559eaa,#549eaa,#559da9,#579da7,#589ca5,#5d9ca3,#649ea2,#6ba1a2,#70a3a2,#79a8a3,#89cccc,#8ae6ef,#90e8f0,#89d9de,#75b7bb,#5e8d8e,#57726c,#748b7e,#accab6,#9ec3b4,#8ebab1,#7ab1af,#6ba9ad)"></i><i style="background:linear-gradient(90deg,#619a9e,#86c8c9,#97eaee,#8cecf8,#81e1f0,#6ebec9,#5b989e,#507778,#536c67,#5a716a,#719088,#78a19a,#73a29f,#689fa1,#5b9aa1,#5398a3,#589ca6,#5fa1a8,#64a4aa,#67a5aa,#68a5a9,#67a3a7,#65a1a5,#659ea1,#6da5a7,#97dedd,#97ebf0,#8dedf8,#85dee9,#71bbc3,#5c9499,#537674,#576f68,#607971,#779c95,#74a19d,#6a9fa0,#5d9ba1,#5196a1,#5198a4,#589da7,#5fa1a9,#64a4aa,#67a5aa,#67a4a8,#66a2a6,#66a0a3,#679ea0,#81bbb9,#9ee6e5,#97ecf2,#91edf6,#87dae2,#72b7bd,#5d9193,#547370,#587069,#6b8a82,#75a09b,#6c9f9f,#609ba0,#5697a0)"></i><i style="background:linear-gradient(90deg,#a0d8d1,#ace9e1,#a4efed,#98f1f8,#83e2f1,#69bdca,#5697a0,#4c787b,#4d6965,#546d67,#566e68,#4d6a67,#4f7a7b,#4f858b,#4d8b94,#56959d,#629fa4,#6da7aa,#75adad,#7ab1af,#7db3b1,#7eb4b1,#7fb5b2,#88bdb9,#a6ddd4,#aeece4,#a4f0ef,#97f1f9,#82deeb,#6cbac4,#58959b,#4f7778,#506a65,#566e68,#516a65,#4c7070,#4d8085,#4b8790,#4b8d98,#5898a0,#64a2a7,#6ea9ab,#76aeae,#7bb1b0,#7db3b1,#7eb4b1,#82b8b4,#96cbc4,#afe6db,#aeede6,#a4f1f1,#96f0f9,#84dae4,#6db7be,#599297,#507574,#526b65,#546c67,#4b6967,#4b787b,#4a838b,#478792)"></i><i style="background:linear-gradient(90deg,#bdebdb,#bbefe1,#aff1eb,#a1f3f7,#86e2ef,#65bbca,#5196a1,#47787e,#456565,#4b6561,#4f6964,#4c6662,#466564,#457479,#4d858b,#61989b,#72a7a6,#80b1ad,#8ab9b2,#91bfb6,#96c3b9,#9bc8bd,#a4d1c5,#b5e0d0,#bfecda,#baf0e2,#aff2ed,#9ff3f8,#82ddea,#66b8c4,#53949d,#49777b,#486563,#4d6662,#4d6763,#46615f,#42696c,#437880,#518b92,#639ca0,#74aaa9,#82b4af,#8cbbb4,#92c0b7,#98c5bb,#9fccc0,#abd8c9,#bbe6d4,#c0eedc,#baf1e4,#aef3ef,#9df1f7,#80d9e4,#67b5bf,#549199,#4b7577,#496562,#4b6562,#486260,#3f5f5f,#3f6f76,#3f7984)"></i><i style="background:linear-gradient(90deg,#cbf0d9,#c5f1df,#b8f3e9,#a7f4f5,#89e1ec,#62baca,#4c95a3,#417780,#3e6366,#405c5b,#45605e,#445f5d,#3f5d5d,#416b6f,#58888a,#70a09d,#85b1aa,#95beb2,#a1c7b8,#a9cdbc,#afd3c1,#b7dac7,#c1e3ce,#cbecd4,#ccf0d9,#c4f2e0,#b7f4eb,#a5f3f5,#84dce8,#61b6c5,#4e939f,#43767d,#406263,#415d5c,#435e5d,#3f5b5a,#3a5d60,#437378,#5c8f91,#74a5a2,#88b5ad,#98c1b5,#a3c9ba,#abcfbe,#b2d6c4,#bbdeca,#c6e7d0,#cdeed5,#ccf1da,#c3f2e2,#b6f5ed,#a2f1f4,#7fd7e3,#61b3c0,#4f919b,#44747a,#406061,#405c5b,#3f5b5a,#385657,#376167,#40747c)"></i><i style="background:linear-gradient(90deg,#d4f2d7,#ccf2dc,#bef4e7,#abf2f1,#8bdfe8,#63bac9,#4895a4,#3c7782,#376268,#365558,#395657,#395657,#38585a,#476f72,#65908e,#82aba3,#9abeb0,#abcbb8,#b7d3bd,#bfdac1,#c6e0c6,#cde6cb,#d4eccf,#d7f0d2,#d4f2d7,#cbf3de,#bdf4e9,#a8f1f1,#86dbe4,#60b5c5,#4992a1,#3e767f,#386065,#365557,#375556,#355355,#355a5e,#4b777a,#6a9795,#86afa7,#9dc1b3,#aecdba,#bad6bf,#c2dcc3,#c9e2c8,#d0e8cc,#d6edd0,#d8f1d3,#d4f2d8,#caf3df,#bbf5ea,#a5eff0,#81d6e0,#5eb2c1,#4a909d,#3e737c,#385e62,#355355,#345254,#305053,#365f65,#48777c)"></i><i style="background:linear-gradient(90deg,#d9f2d5,#d1f3da,#c1f3e4,#acf0ec,#8bdce4,#64bac8,#4795a5,#387885,#31616b,#2e5359,#2e4e51,#2f4f52,#365a5e,#517979,#739b95,#94b6a9,#adcab5,#c0d6bd,#cbdec1,#d3e4c4,#d6e3c2,#cbc4a3,#dff0ce,#dff2d1,#daf2d5,#cff3dc,#c0f3e6,#a9eeec,#87d9e1,#61b6c4,#4692a2,#397682,#326068,#2e5257,#2d4d50,#2d4e52,#385e63,#568081,#78a19b,#97bbad,#b1cdb8,#c2d9be,#cde0c2,#d4e5c6,#d8e4c3,#cbc4a3,#e0f0cf,#dff2d1,#d9f3d6,#cef3dd,#bef4e7,#a6edeb,#83d5dd,#5eb2c1,#46909f,#39747f,#315d65,#2c4f54,#2b4b4f,#2b4d53,#3b656a,#527f81)"></i><i style="background:linear-gradient(90deg,#ddf3d3,#d4f2d8,#c3f2e1,#abece8,#8ad9df,#65b9c7,#4797a7,#367988,#2e636e,#29545d,#284e54,#2a5056,#3b6367,#5b8482,#80a59c,#a3c1af,#bed4ba,#d1e0c0,#dce7c4,#e2ebc6,#e28758,#a83d15,#aa9678,#e5f2cf,#def3d3,#d2f3da,#c1f2e2,#a9ebe7,#86d6dd,#62b6c4,#4694a5,#367786,#2e616c,#29525b,#274c53,#2a5057,#3e686c,#5f8a88,#85aba1,#a7c5b2,#c2d7bc,#d3e2c1,#dde8c4,#e3ecc7,#e17848,#a63c15,#ad9d7f,#e4f3d0,#ddf3d4,#d1f3db,#bff2e3,#a6e9e6,#83d3da,#5fb3c1,#4492a2,#367583,#2d5f6a,#275058,#264b52,#2b5259,#426d72,#5b8787)"></i><i style="background:linear-gradient(90deg,#dff2d2,#d5f1d7,#c2efde,#a9e8e3,#87d5db,#64b8c5,#4898a9,#367c8c,#2c6673,#275762,#26515a,#2b565e,#416c71,#638d8b,#8bafa3,#9ec2b9,#86aaaa,#d4debc,#e9edc5,#edddb2,#fb6328,#b84318,#703c24,#e8f3cd,#e0f2d1,#d3f1d7,#c1efdf,#a6e7e2,#84d3d9,#62b6c3,#4796a7,#357a8a,#2c6471,#265661,#25505a,#2d5860,#457175,#689390,#90b3a7,#a1c5bb,#89aeae,#d6dfbd,#eaeec6,#efd9ad,#fb6328,#b84318,#794930,#e7f3ce,#dff2d2,#d2f1d8,#bfefdf,#a4e5e1,#82d0d7,#60b3c1,#4594a5,#347888,#2b626f,#25545f,#255059,#2f5b63,#48767a,#638f8e)"></i><i style="background:linear-gradient(90deg,#dff1d0,#d4f0d5,#c0ecdb,#a5e3de,#84d1d6,#63b6c4,#4999aa,#377f90,#2d6b7a,#285d6a,#265863,#2f5f68,#46767b,#6a9693,#91b6ab,#74c8ef,#4e8eb0,#80938b,#f3f2c7,#f7ce9e,#ffa065,#bc481d,#5d220c,#e0e5c0,#e1f2d0,#d3f0d5,#beecdb,#a3e2dd,#82cfd5,#61b4c2,#4798a9,#367e8e,#2d6978,#275c69,#275863,#31616a,#4a7a7e,#6e9a97,#96baae,#75c9f0,#5295b8,#81968e,#f3f2c7,#f7c08e,#ffa267,#bc471c,#5d220c,#e8f2cd,#dff1d1,#d1f0d6,#bdebdc,#a1e1dd,#7fcdd4,#5fb3c1,#4696a7,#357c8d,#2c6876,#275b67,#285863,#33646c,#4d7e82,#699695)"></i><i style="background:linear-gradient(90deg,#def0cf,#d2eed3,#bce9d8,#a0ded9,#80ccd2,#61b4c2,#489aab,#3a8394,#327281,#2e6773,#2d626e,#336873,#4a7e84,#6e9c9a,#90c3c1,#8de7fe,#5397bb,#44626c,#f7f5c7,#f9cf9e,#fb773e,#ae4018,#59200b,#dbdeb9,#e0f0cf,#d1eed3,#bbe8d8,#9eddd9,#7ecbd1,#5fb3c1,#4799aa,#398293,#327180,#2e6673,#2e636e,#356a74,#4d8186,#73a09d,#98c6c1,#8ee9ff,#589fc5,#395a69,#f7f5c7,#f9bb89,#fb783f,#af4018,#59200b,#e9f2cc,#dff0cf,#cfedd4,#b9e8d8,#9ddcd8,#7ccad1,#5eb2c0,#4698a9,#388192,#31707e,#2e6572,#2f646f,#376c76,#51858a,#6c9c9a)"></i><i style="background:linear-gradient(90deg,#dceece,#ceebd1,#b7e4d4,#9ad8d4,#7ac7cd,#5eb1bf,#489aac,#3e8899,#387a89,#36717e,#366e7a,#39727d,#4d858c,#76a4a0,#99d0cf,#bef9ff,#5395b8,#294b5d,#f9f5c8,#f7e1b3,#dc501d,#973713,#5e2c17,#e9f1ca,#deeecd,#cdead1,#b6e4d4,#99d8d4,#79c6cd,#5db0bf,#4799ab,#3d8798,#387988,#36717d,#386f7a,#3c757f,#4f878e,#7da9a3,#9dd2d0,#bffaff,#599fc3,#2b4f62,#f9f5c8,#f4d2a2,#dc501d,#983713,#673923,#e8f0ca,#ddeecd,#ccead1,#b5e3d4,#97d7d4,#78c5cd,#5cafbe,#4699ab,#3b8697,#377887,#36717d,#39707b,#3f7781,#528a90,#73a3a0)"></i><i style="background:linear-gradient(90deg,#d7ebcc,#c9e7ce,#b0ded0,#92d2cf,#74c1c8,#5aadbc,#4a9bac,#438d9d,#408290,#3f7c87,#407a85,#427e88,#508b93,#8cb4a9,#a6d4d0,#7ad3f7,#4a87a7,#2e4e5d,#f9f6c8,#f9f6c8,#bf6238,#762b0f,#957a5d,#e6efc9,#daeccb,#c8e6ce,#afded0,#92d1cf,#73c0c8,#59adbc,#489aac,#428c9c,#3f828f,#407c87,#427c86,#47818a,#558f95,#93b8ab,#a9d5d0,#7dd7fa,#4f8fb1,#294b5c,#f9f6c8,#f9f5c8,#ba572d,#762b0f,#957a5d,#e5efc9,#d9ebcc,#c7e6ce,#aeded0,#91d1cf,#73c0c8,#59acbc,#4799ab,#408b9c,#3e818f,#3f7c87,#447d86,#4a848c,#5a9397,#89b2a8)"></i><i style="background:linear-gradient(90deg,#cfe6c9,#c0e1cb,#a6d7cb,#89cac9,#6cb9c3,#57a9b8,#4c9cac,#4891a0,#488a96,#498690,#4b868f,#4d8992,#649a9c,#a2c2b0,#c2d9c3,#60afd9,#3f728d,#556c70,#faf6c7,#f9f5c8,#e7dbb0,#ab906f,#e6e8c1,#e1ebc8,#d3e7c9,#bfe1cb,#a6d7cb,#89cac9,#6cb9c3,#55a8b8,#4b9bac,#4791a0,#478a96,#4a8790,#4e8890,#528d93,#6c9f9f,#a6c4b1,#c8dcc2,#62b2dc,#437996,#4e676d,#faf6c7,#f9f5c8,#e3d5ab,#aa906f,#e5e8c1,#e0ebc8,#d2e7c9,#bfe0cb,#a5d7cb,#88c9c9,#6cb9c3,#55a8b8,#499aab,#45909f,#468996,#498790,#4f8990,#568f95,#74a4a1,#9cbeae)"></i><i style="background:linear-gradient(90deg,#c4dfc6,#b4d8c6,#99cdc5,#7dc0c2,#64b1bc,#56a6b4,#4f9cab,#4d95a2,#4f919b,#528f97,#559097,#5b959a,#7faca5,#adc8b2,#d9e2bd,#85b3b9,#609ca6,#668e8c,#cfd3af,#f8f5c7,#f5f3c7,#f0f1c6,#e6ecc5,#d8e6c5,#c9e1c6,#b3d8c6,#9acdc5,#7ec0c2,#64b1bc,#54a5b4,#4d9cab,#4c95a2,#4e919b,#539098,#589297,#60989b,#85b0a7,#b0cab3,#dae3bd,#83abb2,#538999,#74a5a4,#98af9c,#edecc1,#f5f3c7,#f0f1c6,#e6ecc5,#d8e6c5,#c8e0c6,#b3d8c6,#9acdc5,#7ec0c2,#64b1bc,#52a4b4,#4b9bab,#4994a2,#4d909b,#528f98,#599398,#649a9c,#8bb3a9,#aac7b2)"></i><i style="background:linear-gradient(90deg,#b4d5c1,#a3cdc0,#89c1be,#70b5ba,#5eaab5,#57a3b0,#519ca9,#5198a3,#55969f,#59969c,#5d979c,#689e9f,#89b3a9,#aac7b2,#bed8be,#81d2d9,#79c6cc,#68a0a2,#577672,#c6ccaa,#f0f0c5,#e9edc4,#dde7c3,#cbdfc2,#b9d7c1,#a3cdc0,#8ac2be,#70b5ba,#5ca9b5,#54a2b0,#4f9ba9,#5097a4,#54969f,#5a969d,#60999d,#6ca1a1,#8eb5aa,#aec9b3,#cddbba,#b1dccc,#84d3d9,#7bbfc2,#649393,#6f8579,#ebecc2,#e9edc4,#dee7c3,#cbdfc2,#b9d7c1,#a4cec0,#8bc2be,#71b5ba,#5ba9b5,#51a1b0,#4d9aa9,#4d96a4,#52959f,#59969d,#61999d,#6fa2a1,#92b8ab,#aac7b2)"></i><i style="background:linear-gradient(90deg,#9ec7ba,#8ebfb8,#77b4b5,#62a9b2,#5ba4af,#57a0ac,#529ba8,#5499a4,#5899a2,#5d9aa0,#629b9f,#699fa0,#7faca6,#93baad,#7ed5de,#7fddea,#7bccd4,#69a7ab,#557b7a,#576f69,#cbd4b4,#d7e3c0,#c9dbbe,#b6d2bc,#a4c9ba,#8fbfb8,#78b4b5,#62a9b2,#57a2af,#549fac,#509ba8,#5299a4,#5799a2,#5e9aa0,#649ca0,#6ca1a1,#83afa7,#99bcad,#9ccbc0,#82dde8,#87dce4,#7dc5ca,#679d9e,#547370,#829484,#d8e3c0,#cadcbf,#b7d2bc,#a5caba,#90c0b8,#79b5b5,#63a9b2,#54a1ae,#509dac,#4e9aa8,#4f98a4,#5598a2,#5c9aa0,#649da0,#6ea2a2,#85b0a8,#97bbad)"></i><i style="background:linear-gradient(90deg,#83b4af,#76aeae,#64a5ab,#59a0aa,#589faa,#589fa9,#599ea8,#599da6,#5a9ba4,#5e9ca2,#629ca0,#649c9f,#659c9e,#79c3c9,#80e4f2,#82e3f1,#7aced8,#67a9af,#558182,#526c67,#687f75,#a9c4b0,#a4c5b3,#98bfb2,#89b7b0,#77aeae,#64a5ab,#569ea9,#549da9,#559da9,#569da8,#589ca6,#599ba4,#5e9ca2,#639da1,#679ea0,#6a9fa0,#74aaa9,#83dbe4,#86e6f2,#89e1eb,#7bc7ce,#67a1a4,#557a78,#556e68,#8ea797,#a5c5b3,#99bfb2,#8ab7b0,#78afad,#65a5ab,#559da9,#509ba8,#519ba8,#539ba7,#559ba6,#589ba4,#5d9ca2,#639ea1,#69a0a1,#6ea2a1,#73a4a1)"></i><i style="background:linear-gradient(90deg,#669ea0,#5d9aa0,#5497a1,#579ba5,#5d9fa7,#62a3a9,#66a5aa,#67a5aa,#67a4a9,#64a1a6,#629ea3,#609b9f,#73b1b4,#94e5e9,#8debf5,#85e8f7,#78cfdb,#64a9b1,#538487,#4f6c69,#556d67,#637f77,#739a93,#729f9c,#6a9e9f,#5e9aa0,#5296a0,#5197a3,#579ca6,#5ea0a8,#63a3aa,#66a5aa,#66a4a9,#65a2a7,#64a0a4,#639da1,#67a0a2,#8fd4d4,#95e9ed,#8decf7,#89e5f0,#78c7d0,#64a2a8,#537e7e,#526c67,#58716a,#70938c,#729e9a,#6a9d9e,#5f9a9f,#5296a0,#4b94a1,#5198a4,#589da7,#5ea1a9,#63a3a9,#65a4a9,#65a3a7,#65a1a5,#659fa2,#669d9f,#70a7a8)"></i><i style="background:linear-gradient(90deg,#4f868c,#4d8a92,#53929b,#5f9ca2,#69a5a8,#71abac,#77afae,#7ab1b0,#7bb2b0,#7bb2b0,#7cb3b2,#8ac2bf,#a6e4dd,#a4edea,#99f0f6,#8becf9,#74cedc,#5fa8b3,#4f858b,#4a6c6b,#4e6863,#536c66,#4d6764,#4b7071,#4d8084,#4b878f,#4b8c97,#56969f,#62a0a5,#6ba7aa,#73acad,#78b0af,#7ab2b0,#7bb2b0,#7cb3b1,#83bab7,#9ed7cf,#aae9e2,#a3eeed,#98f1f8,#89e7f4,#74c7d1,#5fa2aa,#507f83,#4c6a67,#516a65,#506964,#496a69,#4b7a7e,#4a848c,#468894,#4d909c,#599aa3,#64a2a8,#6da9ac,#74aeae,#79b0b0,#7bb2b0,#7cb3b1,#80b6b3,#92c8c2,#a7dfd6)"></i><i style="background:linear-gradient(90deg,#45767b,#4b8188,#5c9498,#6da2a3,#7aadab,#84b5b0,#8bbbb4,#90bfb7,#94c3ba,#99c8be,#a3d3c7,#b4e4d5,#b8eddf,#b0f0e9,#a4f3f5,#92eef8,#72cddd,#5aa7b4,#4a858d,#446b6e,#46615f,#4b6561,#4a6561,#44605e,#426a6d,#437880,#4f8991,#619a9e,#70a7a7,#7db1ae,#87b8b2,#8dbdb6,#92c1b9,#97c6bd,#9fcec3,#aedcce,#bae9da,#b8eee2,#aef1ec,#a2f4f8,#8ce8f4,#6fc5d2,#5aa1ab,#4b8086,#466868,#48625f,#4a6461,#44605d,#3e6163,#3f7179,#437f89,#549198,#659fa3,#74abab,#80b4b0,#89bab4,#90bfb7,#95c4bb,#9bcac0,#a8d6c9,#b7e4d4,#bdebdb)"></i><i style="background:linear-gradient(90deg,#426e72,#538386,#6a9a99,#7eaca7,#8eb9af,#9ac2b5,#a2c8ba,#a8cebe,#aed4c3,#b6dbc9,#c0e5d1,#c7edd7,#c4f0de,#b9f2e7,#acf5f3,#97edf6,#72ccdb,#55a6b4,#45848f,#3e6b70,#3c5b5c,#405c5b,#425d5c,#3e5a59,#3a5e60,#427278,#598c90,#6fa1a0,#83b1ab,#92bdb2,#9dc5b8,#a4cbbc,#abd1c1,#b2d8c6,#bce1cd,#c6e9d4,#c8efd9,#c3f1e0,#b8f4ea,#aaf5f5,#90e7f1,#6bc4d2,#55a0ad,#467f88,#3f676a,#3d5a5a,#405c5b,#3d5959,#375658,#37646b,#487d84,#5f9598,#75a7a6,#87b6af,#95c0b5,#a0c8ba,#a7cebf,#afd5c4,#b7ddca,#c2e6d0,#c9ecd6,#caefd9)"></i><i style="background:linear-gradient(90deg,#4a7375,#608b89,#7ba59e,#92b8ac,#a3c5b5,#afceba,#b8d5bf,#bedac3,#c4e0c8,#cbe7cd,#d2edd1,#d3f0d6,#ccf2db,#c1f3e5,#b2f5f1,#9aecf2,#74ccda,#52a5b5,#418491,#396a72,#34585b,#355355,#375456,#355354,#35595d,#4a7679,#669493,#81aca5,#97bdb0,#a7c9b8,#b2d1bd,#bbd8c1,#c1dec6,#c8e4ca,#cfeacf,#d4efd3,#d2f1d7,#cbf2dd,#bff5e8,#aef5f2,#92e6ed,#6cc3d2,#509fae,#417f8b,#39666d,#345558,#355354,#335254,#305053,#386268,#518185,#6d9d9b,#86b2aa,#9bc1b4,#abccba,#b6d4bf,#bedbc4,#c5e1c8,#cce7cd,#d2ecd1,#d5f0d4,#d3f1d7)"></i><i style="background:linear-gradient(90deg,#557d7c,#6d9590,#8cb0a5,#a5c4b2,#b7d1ba,#c3d9bf,#cbdfc3,#d1e4c6,#d6e9ca,#daedcd,#dcf0d0,#daf2d4,#d2f3d9,#c6f4e2,#b5f4ed,#9be9ed,#75cbd7,#53a6b6,#3e8493,#346a75,#2e575e,#2c4d51,#2d4c50,#2d4d51,#385e62,#557f7f,#759e98,#92b7aa,#aac8b5,#bbd4bc,#c6dcc1,#cee1c4,#d3e6c8,#d8ebcb,#dcefce,#ddf1d1,#d9f2d5,#d0f3db,#c3f4e5,#b1f3ee,#94e4e9,#6dc3d1,#4e9faf,#3d808d,#346670,#2d5359,#2b4b4f,#2a4a4e,#2b4e53,#3e686c,#5c8989,#7ca6a0,#98bcaf,#afccb8,#bfd7be,#c9dec2,#d0e4c6,#d5e8ca,#daedcd,#ddf0cf,#dcf2d2,#d9f2d5)"></i><i style="background:linear-gradient(90deg,#608785,#7aa098,#9bbbab,#b6ceb7,#c8dbbe,#d4e2c2,#dbe7c5,#dcd6b1,#b6724d,#c3bd9c,#e3f2ce,#dff2d2,#d6f3d7,#c9f3e0,#b6f2e9,#9ae6e8,#75cad5,#54a7b7,#3d8696,#316c79,#2a5862,#274c53,#26494f,#2a4f55,#3f676a,#5f8887,#82a89f,#a2c1b0,#bbd2ba,#ccdec0,#d7e4c3,#dde9c6,#dccda8,#b1714d,#cfd1af,#e3f2cf,#def3d3,#d4f3d9,#c6f4e2,#b2f1ea,#93e1e5,#6fc3cf,#4fa1b1,#3b8190,#306874,#29555e,#254a51,#25484e,#2d535a,#467073,#67928f,#89b0a5,#a8c6b4,#c0d6bc,#d0e0c1,#d9e6c5,#deeac7,#dbc49d,#b07653,#dbe4c2,#e2f2d0,#def3d3)"></i><i style="background:linear-gradient(90deg,#6a918d,#86aa9f,#a8c4b1,#c4d7bb,#d7e3c1,#e2eac4,#e7edc6,#ee8753,#c24619,#74391f,#e3ecc7,#e2f3d0,#d8f2d6,#caf2de,#b5efe5,#99e2e4,#75c8d2,#55a8b7,#3e8899,#306e7d,#285b67,#244f59,#244c55,#2e565d,#467074,#68918e,#8eb1a5,#afcab4,#c9dbbd,#dbe5c2,#e4ebc5,#e8eec7,#ee733e,#ba4318,#7c4b31,#e7f3ce,#e0f3d2,#d6f3d7,#c7f2df,#b1ede5,#92dee1,#6fc2ce,#50a2b2,#3b8494,#2e6a78,#275863,#234d57,#244c55,#325c63,#4d797b,#709a96,#95b8aa,#b6cfb8,#cfdebf,#dee7c3,#e5ecc6,#e9eac2,#ed652e,#b24117,#8e6a4e,#e5f3cf,#e1f3d2)"></i><i style="background:linear-gradient(90deg,#719a95,#8fb2a5,#8cbdc4,#5a8b9f,#c8d1b3,#eef0c6,#f0edc2,#fe7438,#cf5121,#6c270e,#c4bd9c,#e4f2cf,#d9f2d4,#c9f0db,#b3ebe1,#96dedf,#74c5d0,#55a8b8,#3f8b9c,#307282,#285f6d,#245460,#25535d,#325f67,#4c797c,#709a95,#97b9aa,#8dc0c7,#6493a3,#d0d8b7,#eff0c6,#f2dfb2,#fe7236,#c74b1d,#66250d,#dbdfbb,#e2f2d0,#d7f1d5,#c6efdc,#afe9e1,#90dadd,#6ec1cc,#51a3b4,#3c8798,#2f6e7e,#275c6a,#23535e,#27545e,#36646c,#538183,#78a29c,#9fbfaf,#8bc0ca,#608ea0,#d8debb,#eff1c7,#f4c393,#fe7338,#bf461a,#6a3018,#e8f3cd,#e2f2d0)"></i><i style="background:linear-gradient(90deg,#77a19c,#91bab2,#72cbf5,#4e8fb1,#687f7f,#f5f3c7,#f8e1b3,#ff9a5e,#d15d2e,#6b270e,#b2a383,#e4f2ce,#d9f0d2,#c7edd8,#b0e7dd,#92d9da,#71c2cd,#55a8b8,#408d9f,#327787,#2a6674,#275c68,#295b66,#366871,#518185,#75a09c,#96c0ba,#70cbf7,#4f8fb1,#6f8582,#f5f4c7,#f8cf9e,#ffa468,#c95124,#65250d,#c4bd9c,#e2f1cf,#d6f0d3,#c4edd9,#abe5dd,#8dd6d8,#6dbfca,#51a4b4,#3d8a9b,#307384,#296371,#275b67,#2a5d68,#3a6d75,#57888a,#7da8a1,#9dc8c0,#70cbf7,#4f8fb2,#82958c,#f6f4c7,#f9b884,#ffaa6f,#c0491d,#61230c,#dadeba,#e3f2cf)"></i><i style="background:linear-gradient(90deg,#7ba7a1,#90c9c9,#9aecfe,#5294b7,#305162,#f8f5c8,#f9e7b8,#fa662d,#be481c,#63240d,#b2a282,#e4f1cd,#d7eed1,#c4ead5,#abe2d8,#8dd4d5,#6ebfca,#53a7b7,#408fa1,#357c8d,#2f6d7c,#2c6572,#2e6471,#39707a,#54888c,#7aa6a1,#93d0d3,#9aedfe,#5395b9,#375766,#f8f5c8,#f8ce9e,#f9682f,#b64419,#5f220c,#c9c3a1,#e2f0cd,#d4eed2,#c1e9d6,#a7e0d8,#89d1d4,#6abcc8,#50a4b4,#3e8c9e,#34798a,#2e6b7a,#2d6571,#2f6672,#3d747d,#5a8e91,#86afa6,#99d6d8,#9bedfe,#5397bb,#4b6870,#f8f5c8,#f9bb89,#f76931,#af4017,#5b210c,#dfe4bf,#e2f0cd)"></i><i style="background:linear-gradient(90deg,#8db4a9,#94d4d9,#baf7fe,#5090b2,#294b5d,#dfdfba,#f9f6c8,#de5f2c,#a43b15,#59200b,#cec9a6,#e2efcc,#d3eccf,#bfe6d2,#a5ddd4,#87ced1,#6abbc6,#51a5b6,#4191a3,#398192,#357684,#346f7c,#356f7b,#3c7782,#558d92,#8ab2a8,#9bd9db,#bbf7fe,#5192b4,#294b5d,#f9f5c8,#f8ebbd,#d84e1c,#9d3914,#5b2611,#e0e3be,#dfeecc,#d1ebd0,#bce5d3,#a1dbd4,#83ccd0,#67b8c5,#4fa3b4,#3f8fa1,#387f90,#347483,#346f7c,#37717d,#407b85,#5d9396,#99bcad,#98dbe2,#bdf7fe,#5294b7,#2a4c5e,#f9f6c8,#f1cc9d,#d64e1b,#973713,#683923,#e8f0ca,#e1efcc)"></i><i style="background:linear-gradient(90deg,#a5c3b1,#a3d4d5,#74cbf3,#4883a2,#274859,#f3f0c4,#f9f6c8,#d19469,#802e10,#744c34,#e8efc8,#deecca,#cee8cd,#b8e1cf,#9ed6cf,#80c8cb,#65b6c2,#4fa3b4,#4393a5,#3f8797,#3c7e8c,#3c7a86,#3e7a86,#42808b,#5e9699,#a0c1af,#a2d6da,#75cdf3,#4984a4,#2e4e5d,#f9f6c8,#f9f5c8,#c67d53,#792c0f,#87664b,#e7efc9,#dceccb,#cce7cd,#b5e0cf,#9ad5cf,#7dc6cb,#62b4c1,#4da1b3,#4191a3,#3d8595,#3b7d8b,#3d7a86,#417c87,#47838d,#699d9e,#acc8b2,#a3d8dd,#76cef4,#4a86a6,#3c5964,#f9f6c8,#f9f5c8,#b75f37,#73290f,#a89475,#e5eec9,#ddecca)"></i><i style="background:linear-gradient(90deg,#b6ceb5,#bfd8c4,#5eacd5,#3d6f89,#4e676c,#faf6c7,#f9f5c7,#f7f5c7,#cfbf98,#e3e3bb,#e3ecc7,#d7e8c8,#c6e3ca,#afdacb,#94cfca,#78c0c6,#5fb0bd,#4ea1b2,#4695a6,#448c9b,#448693,#45848e,#48858f,#4d8a93,#74a5a2,#b1cab3,#bcd8c7,#5facd5,#3d708a,#5b7273,#faf6c7,#f9f5c7,#f3eec1,#cdbe98,#e7e9c1,#e1ecc7,#d5e8c8,#c4e2ca,#add9cb,#91ceca,#76bfc5,#5dafbd,#4c9fb1,#4494a5,#438b9a,#438592,#46848f,#4b8790,#538f96,#7faca5,#b9cfb6,#bcd9ca,#5facd6,#3e718c,#697d7a,#faf6c7,#f9f5c7,#eae1b6,#ccbd98,#eaefc7,#e0ebc7,#d7e8c8)"></i><i style="background:linear-gradient(90deg,#bdd2b7,#dae3bd,#7aa7b1,#487987,#90a292,#f9f5c7,#f8f5c7,#f6f3c7,#f1f1c6,#e9edc5,#dbe8c5,#cde2c5,#bbdbc6,#a3d1c6,#89c5c4,#6eb8bf,#59aab8,#4f9faf,#4a97a6,#4a919e,#4b8d98,#4e8c96,#518e96,#5e979b,#87b2a8,#b7ceb5,#dee5be,#6d9baa,#3e6b7c,#85a197,#eae9bf,#f8f5c7,#f5f3c7,#f0f1c6,#e8edc5,#dae7c5,#cce2c5,#b9dac6,#a1d1c6,#86c4c3,#6cb7bf,#57a9b7,#4c9eaf,#4895a5,#48909e,#4b8d98,#4f8d96,#549097,#669c9e,#90b7ab,#bcd1b6,#dce4bf,#6d9baa,#31586c,#8daa9e,#c5d0b1,#f8f5c7,#f5f3c7,#f0f0c6,#e6ecc5,#d9e6c5,#cee2c5)"></i><i style="background:linear-gradient(90deg,#b5cdb4,#c3d9be,#81cace,#6db2b8,#5a8787,#8b9b88,#f4f2c6,#f0f0c5,#eaedc5,#e0e8c3,#d0e1c2,#bfd9c1,#abd1c0,#94c6bf,#7bbabc,#64aeb8,#56a4b2,#509eac,#4c98a6,#4e95a1,#52939d,#56939b,#59959b,#6ca1a0,#8eb6aa,#b0cab3,#d2debb,#afd9c8,#79c4cb,#6da8aa,#5f807c,#c5cbaa,#f0f0c5,#eaedc4,#e0e8c3,#cfe0c2,#bdd9c1,#aad0c0,#92c6bf,#79babc,#62adb8,#52a3b2,#4d9cac,#4a97a6,#4d94a0,#51939d,#57949b,#5c979c,#72a4a2,#95baac,#b4cdb4,#d4dfbc,#d4e1bf,#78bbbf,#7dc0c3,#689a9a,#7f9485,#ebecc2,#eaedc4,#dfe8c3,#cee0c2,#c1dac1)"></i><i style="background:linear-gradient(90deg,#95bfb3,#79d2dd,#77d4e1,#6fbbc3,#5d9295,#4d6b69,#8d9e8a,#e2e8c2,#dae4c1,#cedebf,#bcd5bd,#abcdbb,#97c4b9,#81b9b7,#6baeb4,#5aa5b0,#55a0ae,#519caa,#4e98a6,#5297a2,#5697a0,#5b989e,#5f999e,#6ba0a1,#83afa7,#99bcad,#97ccc4,#7dd8e4,#7ed1d9,#70b2b7,#5a8586,#59726b,#ccd5b4,#dae4c1,#cedebf,#bbd5bd,#aacdbb,#96c3b9,#80b9b7,#6baeb4,#58a4b0,#519fad,#4e9baa,#4c97a5,#5096a2,#5597a0,#5b989e,#619b9f,#6fa3a2,#88b2a9,#9ec0af,#b0ccb6,#8ad4d7,#87dbe2,#81cbd0,#6ea7a9,#557876,#889a88,#dae4c1,#cedebf,#bbd5bd,#aecebc)"></i><i style="background:linear-gradient(90deg,#76d6e5,#77e0f2,#79dae9,#6ebec8,#5c969c,#4d7170,#506964,#91a795,#b5ceb7,#acc9b6,#9fc3b4,#91bcb2,#80b4b0,#6eabae,#5ca2ab,#559eaa,#539daa,#539ca8,#549ba6,#559aa4,#589aa2,#5d9aa1,#609b9f,#629b9e,#679d9f,#72acad,#79dae8,#81e2ef,#7fd5df,#6fb5bc,#5b8c8f,#506d69,#667d74,#b1c9b3,#acc9b6,#9fc3b4,#91bcb2,#80b3b0,#6daaae,#5ba1ab,#519caa,#509ba9,#509aa8,#529aa6,#5399a4,#5799a2,#5d9ba1,#629ca0,#669d9f,#6ca0a0,#74a5a2,#7dc8cd,#83e1ed,#89e2ea,#81cfd5,#6eacb0,#588181,#526c66,#93ab9a,#accab6,#9fc3b4,#95beb3)"></i><i style="background:linear-gradient(90deg,#86e6f2,#80e8f8,#7bdeef,#6bbeca,#59989f,#4c7476,#4d6763,#536b66,#7a9a90,#83a9a0,#7da9a3,#73a5a3,#67a0a3,#5a9ba3,#5198a3,#549aa6,#589ea8,#5da0a9,#60a1a9,#61a1a8,#609fa6,#5f9da3,#5f9ba1,#5f999d,#619ca0,#84d3d9,#87e7f2,#84e8f7,#7ed8e4,#6cb6bf,#598f94,#4e6f6e,#516a65,#658079,#82a9a0,#7da8a2,#73a5a3,#67a0a3,#5a9ba3,#4e96a3,#4e97a4,#539ba7,#599ea8,#5da0a8,#5fa0a8,#5f9fa6,#5f9ea4,#609ca1,#629b9f,#61989b,#77b8bb,#8ce2e9,#89e9f4,#8be7f1,#7fd1d9,#6baeb4,#578688,#506c68,#556e68,#7ca097,#7da8a1,#76a5a2)"></i><i style="background:linear-gradient(90deg,#93ecf3,#8ceefa,#7ee2f3,#68becc,#5598a1,#49767a,#476462,#4e6863,#506964,#4e6d6a,#537d7e,#54888c,#508c93,#4c8d98,#51949e,#5b9ca4,#63a2a8,#6aa7ab,#6faaad,#72acad,#72acad,#71abac,#6ea8aa,#72acae,#90d2d0,#9ce8e8,#94edf4,#8bedfb,#7ddae8,#68b6c0,#559197,#4b7172,#4c6662,#506a65,#4e6a67,#507777,#538589,#4f8a91,#4a8b97,#4a8f9c,#5397a2,#5d9ea6,#65a4aa,#6ca8ac,#70abad,#71acad,#71abac,#70aaab,#71aaab,#85c0be,#9ee2df,#9cebec,#93eef7,#8cebf7,#7cd2dc,#67aeb6,#54898d,#4c6c6b,#4e6863,#4f6965,#4e7271,#517f81)"></i><i style="background:linear-gradient(90deg,#9ef0f3,#97f2fb,#82e3f3,#64bdcd,#5197a3,#44777d,#416262,#46615f,#4b6561,#496360,#436160,#446f73,#457c84,#4b8790,#59959c,#67a1a4,#72aaaa,#7bb1af,#82b6b2,#86b9b4,#88bcb6,#8bbfb9,#92c6bf,#a3d8cf,#aee8de,#aaeee9,#a0f1f4,#94f1fc,#7bdae9,#63b5c2,#51919a,#467276,#446160,#496360,#496460,#435f5d,#41686b,#42777f,#43818b,#4f8e97,#5d9ba1,#6aa5a8,#75adad,#7eb3b1,#84b7b3,#87bbb6,#8abeb8,#90c3bd,#9dd1c8,#ade2d7,#b0ebe2,#a9efec,#9ff3f7,#90edf9,#78d1de,#62adb8,#508990,#476d6e,#46615f,#486360,#435f5d,#3d5c5c)"></i><i style="background:linear-gradient(90deg,#a9f3f2,#9ff5fb,#86e4f2,#62bccd,#4d97a4,#407780,#3b6064,#3d5959,#425d5c,#425e5c,#3e5a5a,#3c6063,#407178,#52878d,#659b9c,#77a9a7,#85b4ae,#8fbcb3,#97c2b8,#9cc7bb,#a1ccc0,#a8d3c5,#b2dece,#bce8d7,#bdeede,#b5f1e7,#aaf4f3,#9cf3fb,#7ddae9,#5fb3c2,#4c909c,#417279,#3d5e5f,#3f5b5b,#415d5c,#3e5a5a,#38585a,#39686f,#447b84,#579096,#6aa1a2,#7baeab,#88b8b1,#92bfb6,#99c5ba,#9fcabe,#a5d1c3,#afd9ca,#bae4d3,#c0ecda,#bdefe1,#b4f2ea,#a9f6f6,#96eff8,#75d0de,#5dacb9,#4b8993,#416d71,#3d5b5b,#3f5b5a,#3d5959,#385556)"></i><i style="background:linear-gradient(90deg,#b1f5f1,#a5f5f8,#89e3ef,#63bccc,#4996a6,#3c7782,#356066,#345355,#375556,#395657,#375455,#35585c,#457175,#5d8d8e,#75a3a0,#89b4ab,#99c0b3,#a4c8b9,#accfbd,#b2d4c1,#b9dbc6,#c0e2cc,#c8e9d2,#cbeed7,#c8f1dc,#bef3e5,#b2f6f1,#a1f3f8,#80dae6,#5cb2c3,#48909d,#3c727b,#365c60,#355355,#375556,#355355,#315154,#366167,#4c7d82,#649697,#7baaa6,#8eb9af,#9dc4b6,#a7ccbb,#afd2c0,#b6d8c4,#bddfca,#c5e6cf,#cbecd4,#ccefd8,#c6f1de,#bcf4e8,#b0f7f4,#9aeef5,#76d0dd,#58abba,#478995,#3c6d74,#35575b,#355354,#345254,#315052)"></i><i style="background:linear-gradient(90deg,#b6f6ee,#a9f4f5,#8be1eb,#64bccb,#4796a7,#397885,#316069,#2c5055,#2e4d50,#2f4e51,#2e4d51,#35595d,#4e787a,#6b9693,#85aea5,#9bbfb1,#accbb8,#b8d4bd,#c0dac1,#c6dfc5,#cce4c9,#d1eace,#d5eed1,#d5f1d5,#cff2da,#c5f4e3,#b8f6ee,#a4f1f4,#82d9e4,#5db3c3,#45909f,#38737e,#315c63,#2d4d52,#2d4d50,#2d4c50,#2c4d52,#3b6469,#568485,#729f9b,#8cb4aa,#a1c4b4,#b0cfbb,#bbd7bf,#c3ddc3,#c9e2c8,#cfe7cc,#d4eccf,#d7f0d3,#d5f1d6,#cef3dc,#c3f5e6,#b5f6f1,#9dedf1,#78d0dc,#57abbb,#438a98,#376d77,#2f575d,#2b4b4f,#2b4b4f,#29494e)"></i><i style="background:linear-gradient(90deg,#baf5ec,#abf2f1,#8bdfe7,#66bccb,#4898a9,#377988,#2d616c,#285058,#26474d,#27474c,#294b50,#3c6165,#598181,#78a099,#95b8ab,#adcab6,#bed6bc,#caddc1,#d1e3c4,#d6e7c7,#daebca,#ddeecd,#def1d0,#dcf2d3,#d5f3d8,#caf4e0,#bbf5eb,#a5eff0,#83d7e1,#5fb4c3,#4491a1,#357481,#2d5d67,#274c53,#26464c,#26464c,#2b4f55,#436c6f,#618c8b,#80a8a1,#9cbfaf,#b3ceb9,#c2d9be,#cde0c2,#d3e5c6,#d8e9c9,#dceccc,#deefce,#def1d1,#dbf2d4,#d3f3da,#c7f5e3,#b7f5ed,#9eeaed,#7acfda,#58acbc,#418b9a,#346e7b,#2b5861,#25494f,#24454a,#23444a)"></i><i style="background:linear-gradient(90deg,#bbf3e8,#abefec,#8bdce3,#66bbc9,#4a9aaa,#367b8b,#2c6370,#25525c,#224850,#23464e,#2c5157,#436b6e,#638b88,#85aaa0,#a4c2b0,#bdd3ba,#cedec0,#d9e5c3,#dfe9c6,#e0ddb7,#ba744e,#beb191,#e4f2ce,#e0f3d1,#d9f3d6,#cdf4de,#bcf3e8,#a5eceb,#83d5dd,#60b4c3,#4593a4,#347685,#2a5f6b,#244f58,#22474e,#23474e,#30585d,#4a7477,#6b9591,#8db2a6,#abc8b4,#c2d7bc,#d2e1c1,#dbe7c4,#e0ebc7,#decea8,#b5734e,#cdcba9,#e4f2cf,#dff3d3,#d6f3d8,#caf4e1,#b8f3e9,#9ee7e8,#7bced8,#5aaebd,#418d9d,#32717f,#295a66,#234b54,#20454c,#22464e)"></i><i style="background:linear-gradient(90deg,#bbf1e5,#a9ebe7,#89d8df,#66bbc8,#4b9bac,#377e8f,#2b6775,#245662,#214c56,#234c55,#315a61,#4a7476,#6c9490,#90b3a6,#b1cab5,#cadbbd,#dce6c2,#e5ebc5,#e9eec6,#ee8653,#c74819,#722e14,#dadfbb,#e3f3d0,#dbf3d5,#cef2dc,#bcf1e4,#a3e8e6,#82d2da,#60b4c3,#4695a6,#357989,#2a6370,#23535e,#214b55,#254e57,#366066,#517d7f,#749d98,#98baab,#b8d0b8,#d0dfbf,#dfe8c3,#e7ecc6,#eaefc7,#ee733e,#bf4518,#7d462b,#e7f3ce,#e2f3d1,#d8f3d6,#cbf3de,#b8f0e5,#9de4e4,#7bccd6,#5baebd,#4390a1,#327484,#285e6b,#22505a,#214a54,#254e56)"></i><i style="background:linear-gradient(90deg,#b9eee1,#a6e7e3,#86d4da,#66b9c6,#4b9cad,#398192,#2c6b7a,#255b68,#22525e,#27545e,#35636a,#507d7f,#739c97,#99baab,#8ebdc1,#6e969e,#dce2be,#eff0c6,#f1f2c7,#fe6e33,#d65323,#762b0f,#b1a383,#e5f2cf,#dcf2d3,#cef1da,#bbeee0,#a0e4e1,#80cfd7,#60b4c2,#4797a8,#367d8d,#2b6776,#245865,#22515d,#295660,#3a686f,#578586,#7ca49d,#a1c1af,#90bec2,#759aa0,#e5e9c2,#f0f1c7,#f2daad,#fe6d31,#ce4d1e,#6e280e,#cdcba8,#e3f2d0,#d9f2d5,#cbf1db,#b6ece1,#9be0e0,#7acad3,#5bafbe,#4492a3,#347889,#296372,#235562,#23515c,#285660)"></i><i style="background:linear-gradient(90deg,#b6eadd,#a2e2de,#83d0d6,#64b7c5,#4b9dae,#3a8495,#2e7080,#27616f,#255966,#2a5c67,#396b73,#548487,#79a39d,#95c1bc,#6bc3f0,#4a87a7,#81938a,#f5f4c7,#f8e1b3,#ff985b,#db6837,#752a0f,#9f886b,#e6f2cd,#dbf1d2,#ccefd7,#b8eadc,#9ddfdd,#7dccd3,#5fb3c1,#4899aa,#388092,#2d6c7c,#265f6c,#255965,#2c5e69,#3e7077,#5c8c8d,#81aaa2,#9dc8c2,#6bc3f0,#4a86a7,#87998d,#f6f4c7,#f9cf9e,#ffa569,#d25829,#6e280e,#b6a989,#e4f2ce,#d9f0d3,#c9eed8,#b3e8dd,#97dcdb,#78c8d1,#5bafbe,#4594a6,#357d8e,#2b6978,#265c6a,#265965,#2c5e69)"></i><i style="background:linear-gradient(90deg,#b2e5d9,#9dddd9,#7fcbd2,#62b5c2,#4b9dae,#3b8798,#317585,#2b6877,#29616f,#2d6470,#3d727b,#588b8e,#7da8a2,#93d2d6,#87e0fb,#4f8fb1,#3c5b67,#f8f5c8,#f9e2b3,#fd6e34,#cb5123,#6d280e,#9f886a,#e5f1cc,#daefd0,#caecd5,#b4e6d9,#98dad8,#7ac8d0,#5eb1c0,#4899ab,#398495,#307282,#2b6675,#2a616f,#2f6672,#41777f,#5f9193,#89b1a7,#94d7df,#87e0fb,#4f8fb2,#4a666e,#f8f5c8,#f9cf9e,#fd7238,#c34a1e,#67250d,#b6a989,#e3f1cd,#d7efd1,#c6ebd6,#afe4d9,#93d8d7,#75c5ce,#5aaebd,#4596a8,#378192,#2e6f7f,#2a6573,#2a616e,#2f6571)"></i><i style="background:linear-gradient(90deg,#ace0d5,#97d7d4,#7ac6cd,#5fb2c0,#499cae,#3c899b,#347a8b,#306f7e,#2e6a78,#316c79,#3f7983,#599094,#8db4a9,#96dee4,#c1f4fd,#4e8daf,#294a5c,#f9f5c8,#f9f6c8,#e45723,#b24017,#61230c,#b6a888,#e4f0cb,#d7edcf,#c6e9d2,#afe1d5,#93d5d4,#76c4cc,#5bafbe,#479aac,#3a8799,#337889,#306e7d,#2f6b78,#336e7b,#437d87,#619698,#9cbeae,#96e2e9,#c2f3fd,#4f8fb1,#294b5c,#f9f5c8,#f7e1b3,#e2521d,#ab3e16,#5d220c,#cdc9a6,#e2efcc,#d5eccf,#c2e8d3,#abe0d5,#8fd3d3,#72c1ca,#58acbc,#4597a9,#388496,#327686,#2f6d7c,#306b78,#336e7a)"></i><i style="background:linear-gradient(90deg,#a5dbd1,#90d1cf,#74c1c9,#5baebd,#489bad,#3e8c9e,#398090,#367786,#357381,#377582,#407e8a,#62989b,#a2c2b0,#96d9e5,#84d8f6,#4883a3,#284859,#f9f6c8,#f9f6c8,#d2865a,#923513,#5f2c17,#e0e3bd,#e1edca,#d3eacd,#c0e4cf,#a8dcd1,#8ccfcf,#70bfc8,#58acbb,#4699ac,#3d8a9c,#387e8f,#367785,#367481,#397784,#44828d,#6fa19f,#aec9b3,#97dce8,#85d9f6,#4985a5,#2e4e5d,#f9f6c8,#f9f6c8,#c56439,#8b3212,#71462e,#e8efc9,#dfedcb,#d1e9cd,#bde3d0,#a4dad1,#89cdce,#6dbdc7,#56aaba,#4497aa,#3b889a,#377d8d,#357684,#377582,#3a7784)"></i><i style="background:linear-gradient(90deg,#9cd4cc,#88caca,#6dbac4,#56aab9,#479aac,#418fa0,#3e8695,#3c7f8d,#3c7c89,#3e7e8b,#458591,#77a7a3,#b3ccb4,#a8d4d5,#62b2dd,#3f738e,#415c65,#faf6c7,#f9f5c8,#f1e9bc,#ab8664,#c7bc98,#e6edc7,#dceac8,#cde6ca,#b9dfcc,#a0d5cc,#85c8ca,#6ab9c3,#54a8b8,#4699ab,#408d9f,#3d8494,#3d7f8d,#3e7e8a,#41808c,#4b8a93,#82aea6,#bcd1b7,#a4d4d9,#62b2dd,#407490,#4e676c,#faf6c8,#f9f5c8,#e9dcb1,#a37e5e,#cfc8a3,#e4edc7,#daeac9,#cae5cb,#b6decc,#9dd4cc,#81c7c9,#68b7c2,#52a7b7,#4497aa,#3e8c9d,#3c8393,#3c7e8c,#3f7e8a,#43818c)"></i><i style="background:linear-gradient(90deg,#92cbc7,#7ec1c4,#65b3be,#52a5b5,#499aab,#4591a1,#448b99,#438693,#448591,#468692,#559298,#87b1a8,#bcd1b6,#d3e0c1,#5697b8,#335c72,#909e8f,#faf5c7,#f9f5c7,#f7f4c7,#f3f2c6,#ecefc6,#e0eac6,#d4e5c6,#c4e0c7,#afd8c8,#96cdc7,#7bc0c4,#63b2bd,#50a4b4,#4799aa,#4390a1,#438a99,#448793,#468691,#4a8993,#5f979b,#90b7aa,#c2d5b8,#c9dbc2,#5193b7,#335c72,#9da996,#faf5c7,#f8f5c7,#f6f4c7,#f2f2c6,#eaeec6,#dee9c6,#d2e5c6,#c2dfc7,#acd7c8,#93ccc7,#79bfc3,#61b1bd,#4ea3b4,#4597aa,#428fa0,#418998,#438693,#488791,#4b8993)"></i><i style="background:linear-gradient(90deg,#85c1c0,#72b8bd,#5dabb8,#51a1b1,#4b9aaa,#4894a3,#49909d,#4a8d98,#4c8c96,#4e8e97,#679e9f,#8eb6aa,#b9cfb5,#dbe3be,#b2c4b0,#588288,#a8bba4,#edecc0,#f6f4c6,#f3f2c6,#eef0c5,#e6ebc4,#d8e5c3,#c8dfc3,#b7d8c3,#a1cec2,#89c3c1,#71b7bd,#5baab7,#4ea0b0,#4999a9,#4793a2,#488f9c,#4b8d98,#4e8e97,#539098,#6fa2a1,#95baac,#bdd2b6,#dee5be,#b5c4ae,#7f9a93,#b2cbb4,#c1cbac,#f6f4c6,#f3f2c6,#eeefc5,#e5ebc4,#d7e4c3,#c7dec3,#b5d7c3,#9fcec2,#87c2c0,#6fb6bd,#5aaab7,#4c9fb0,#4697a9,#4591a2,#478e9c,#4a8d98,#4f8e97,#539198)"></i><i style="background:linear-gradient(90deg,#76b6b9,#66aeb6,#57a4b1,#519fad,#4c99a8,#4c95a3,#4e939f,#50929c,#53929b,#56939b,#6ca1a1,#89b3a9,#a7c5b1,#bbd5bb,#80cace,#70bac1,#609597,#607b74,#dadeb8,#ebedc4,#e5eac3,#dae5c2,#caddc0,#b8d5bf,#a6cdbd,#91c3bc,#7ab8b9,#65adb6,#54a3b1,#4e9dad,#4a98a8,#4a95a3,#4d939f,#51929c,#55939b,#5a969c,#72a5a3,#8fb6ab,#abc7b2,#c9d9b9,#b8dac5,#7bc7ce,#73b4b8,#5d8988,#899a88,#ebedc4,#e4eac3,#dae5c2,#c9ddc0,#b7d4bf,#a5ccbd,#90c2bc,#79b7b9,#64acb6,#52a2b1,#4b9cac,#4897a8,#4893a3,#4b929f,#50929c,#56949b,#5a969c)"></i><i style="background:linear-gradient(90deg,#67aab1,#5aa3ae,#549fac,#519caa,#4e99a7,#4e97a4,#5196a1,#55969f,#58969d,#59969d,#619a9e,#73a5a3,#83b1aa,#77ced9,#78d6e4,#73c3cd,#629fa3,#4e7373,#5f766e,#c9d6b7,#ceddbe,#c2d7bc,#b2cfba,#a3c8b8,#92bfb6,#7eb6b4,#6bacb1,#59a3ae,#509eac,#4e9baa,#4c98a7,#4d96a4,#5096a1,#55969f,#59979e,#5d989e,#669d9f,#78a8a4,#8ab3a9,#8fc3bd,#7bd6e2,#80d5de,#75bdc3,#619597,#4e6d6a,#90a28f,#ceddbe,#c2d7bc,#b2cfba,#a3c7b8,#91bfb6,#7eb5b4,#6aabb1,#58a2ae,#4d9cab,#4b99a9,#4997a6,#4a95a3,#4f95a1,#54969f,#5a979e,#5e999e)"></i><i style="background:linear-gradient(90deg,#589ea8,#549ca8,#539ca8,#549ca8,#559ca7,#569ba6,#559aa3,#5799a1,#5a989f,#5b979d,#5a959b,#589399,#6cbfcb,#77dff1,#7added,#72c7d2,#61a2a9,#4f7a7c,#4c6663,#657e76,#a2c0af,#9ec0b0,#95bcaf,#89b6ae,#7aafac,#6aa7aa,#5b9fa9,#509aa7,#4f9aa8,#509aa8,#539ba7,#549ba6,#5599a4,#5799a2,#5b99a0,#5e999e,#5f999d,#5f979b,#64a1a6,#77d6e4,#80e2f0,#81dbe6,#74c1c9,#619b9f,#4f7372,#4f6964,#8da99a,#9ec0b0,#95bbaf,#89b5ae,#7aaeac,#6aa7aa,#5a9fa8,#4e99a7,#4b98a7,#4c98a7,#4f99a6,#5299a5,#5399a3,#5698a2,#5b99a0,#5f9a9f)"></i><i style="background:linear-gradient(90deg,#5096a2,#5399a4,#589da7,#5da0a8,#61a2a9,#63a3a9,#62a2a8,#60a0a6,#5e9ca3,#5b999f,#58949a,#6bb0b7,#86e1ec,#80e7f7,#7de3f4,#70c8d6,#5ea3ac,#4d7e82,#486664,#4e6763,#5f7c76,#719891,#719d99,#6b9d9d,#629b9e,#57979f,#4d94a0,#4d95a2,#539aa5,#599ea7,#5ea0a9,#61a2a9,#62a2a8,#61a0a6,#5f9ea4,#5e9ba1,#5c979c,#5e999e,#82d1d7,#87e5f0,#83e8f7,#82e0ec,#72c2cc,#5f9da4,#4e787a,#4c6663,#516b66,#6e928c,#719c98,#6b9c9c,#619a9d,#56969e,#4c939f,#4892a1,#4d96a4,#539ba6,#599ea8,#5ea0a8,#60a1a8,#61a0a7,#609ea4,#5f9da2)"></i><i style="background:linear-gradient(90deg,#53949e,#5a9aa2,#63a1a7,#6aa7aa,#6faaad,#73adae,#74adae,#73adae,#71abad,#70abad,#7dbcbd,#97e1e1,#95eaef,#8cedfa,#82e7f9,#6ec9d8,#5aa3ae,#4a7f86,#446566,#486260,#4c6662,#476360,#496d6e,#4d7d81,#4c858c,#488893,#498d99,#5295a0,#5c9da5,#65a3a9,#6ba8ac,#70abad,#73adae,#73adae,#73acad,#72acad,#77b2b3,#91d3d1,#9be6e7,#94ecf2,#8ceefb,#82e3f1,#6ec2ce,#5b9ea6,#4b7a7e,#466462,#4a6461,#496461,#466767,#4a787c,#4a8289,#478691,#448997,#4a909d,#5498a3,#5e9fa7,#66a5aa,#6ca9ac,#71acae,#73adae,#73adae,#73acad)"></i><i style="background:linear-gradient(90deg,#5c979c,#669fa3,#71a9a9,#7ab0ae,#81b5b1,#85b9b4,#88bbb6,#8abeb8,#8dc2bc,#97cdc7,#a6e0d8,#a9eae5,#a1efef,#98f2fb,#88ebfa,#6bc9d9,#56a3b0,#468089,#3f6568,#405c5b,#45605e,#45605e,#3f5b5b,#3e6366,#40737a,#427e88,#4d8b95,#5b989f,#68a3a6,#74acac,#7cb2b0,#83b7b3,#87bab5,#8abdb8,#8dc1bb,#94c8c1,#a2d8d0,#ace6de,#a9ece7,#a0f0f2,#97f3fd,#83e5f4,#6ac2d0,#569da8,#477b82,#416263,#425e5c,#445f5d,#405c5b,#3b5c5e,#3d6d73,#3d7883,#43838f,#50919a,#5e9ca3,#6ba6a9,#76aeae,#7eb4b1,#84b8b4,#88bcb7,#8cbfba,#8fc3bd)"></i><i style="background:linear-gradient(90deg,#689d9e,#75a7a5,#82b2ad,#8dbab2,#95c1b6,#9ac5ba,#9ecabe,#a3cfc3,#aad7c9,#b4e2d3,#baebdc,#b5efe4,#abf2ee,#a1f6fb,#8eecf9,#6bc8d9,#52a2b1,#42808b,#3a656b,#385658,#3b5858,#3d5959,#3a5758,#365658,#38656c,#437981,#568e93,#689ea0,#78aca9,#86b6b0,#90bdb5,#97c3b9,#9cc8bc,#a1cdc1,#a8d4c6,#b1ddce,#bae7d7,#bbedde,#b5f0e6,#abf3f1,#a0f6fc,#88e5f3,#67c1d1,#529daa,#437c85,#3b6266,#395657,#3b5858,#395757,#345254,#335c61,#386d77,#47828b,#5a949a,#6ca3a5,#7cafad,#88b9b2,#92c0b7,#99c6bb,#9fcbbf,#a5d1c4,#abd7c9)"></i><i style="background:linear-gradient(90deg,#78a6a1,#86b1a9,#95bdb1,#a1c6b7,#a9ccbb,#afd2bf,#b4d7c4,#baddc9,#c1e4cf,#c7ebd5,#c6efdb,#bff1e2,#b4f4ed,#a8f7f9,#92ecf6,#6dc8d8,#4fa1b2,#3f808d,#35666e,#315357,#325053,#345254,#325153,#2f4f53,#355f66,#4a7b80,#619495,#77a7a3,#8ab6ad,#98c1b4,#a3c9b9,#abcfbe,#b1d5c2,#b7dbc7,#bee1cc,#c5e8d2,#c9edd7,#c6f0dc,#bef2e4,#b4f6f0,#a6f7fa,#8be5f1,#66c0d1,#4e9cab,#3f7c88,#366269,#315154,#325053,#315052,#2e4d50,#2c5258,#3a6b72,#50858a,#669b9c,#7baca8,#8dbab1,#9cc4b7,#a6ccbc,#aed2c0,#b5d8c5,#bbdeca,#c1e3ce)"></i><i style="background:linear-gradient(90deg,#88b0a6,#98bcaf,#a8c8b6,#b4d1bc,#bcd7c0,#c2dcc3,#c7e1c8,#cce6cc,#d1ebd0,#d3efd4,#cff1d9,#c7f2e0,#bbf5eb,#adf7f6,#95eaf3,#6fc8d7,#4fa2b3,#3c8190,#326671,#2b5259,#29494e,#2b4b4f,#2b4a4e,#2a4c51,#3b6368,#548183,#6f9c99,#87b1a8,#9cc0b2,#abcbb9,#b6d3be,#bed9c2,#c4dfc6,#cae4ca,#cfe9ce,#d3edd2,#d3f0d5,#cef2da,#c5f3e2,#baf6ed,#abf6f7,#8ee4ed,#69c1d0,#4c9cad,#3c7d8a,#31636c,#2b4f54,#29494e,#29494e,#27474c,#2b5157,#406e73,#5a8b8d,#74a39f,#8cb6ac,#a0c4b5,#afcebb,#b9d6c0,#c1dcc4,#c7e1c8,#cce7cc,#d0eacf)"></i><i style="background:linear-gradient(90deg,#99bbac,#a9c7b4,#b9d2bb,#c5dabf,#cde0c3,#d2e4c6,#d6e8c9,#d9eccc,#dcefcf,#dbf1d2,#d6f2d7,#ccf3de,#c0f5e8,#b0f6f3,#96e8ef,#71c8d5,#51a4b4,#3b8292,#2f6874,#28535c,#24464d,#24454a,#24454b,#2c4f54,#436b6e,#5f8a89,#7ca59e,#97bbad,#adcbb7,#bdd5bd,#c8ddc1,#cfe2c4,#d4e6c7,#d8eaca,#dbeecd,#dcf0d0,#daf2d3,#d4f3d8,#cbf4e0,#bff6eb,#adf4f3,#8fe2ea,#6bc1cf,#4d9eaf,#3a7e8d,#2e6470,#275058,#23454b,#23444a,#23444b,#30565c,#487478,#659291,#82aca4,#9cc0b1,#b1ceb9,#c0d8bf,#cadfc3,#d1e4c6,#d5e8c9,#d9eccc,#dbeece)"></i><i style="background:linear-gradient(90deg,#a8c4b1,#b8d0b8,#c9dbbe,#d4e2c2,#dbe7c5,#deeac7,#d8dbb8,#dfe9c6,#e3f1ce,#e0f2d1,#daf3d5,#d0f3dc,#c3f5e6,#b1f3ef,#96e5ea,#72c7d4,#52a5b5,#3c8595,#2e6a78,#265661,#214851,#20424a,#22454c,#31575c,#4a7375,#6a938f,#8aafa4,#a6c4b2,#bdd4bb,#ccdec0,#d6e4c3,#dce8c6,#e0ebc8,#d6d6b3,#e3f0cc,#e3f2cf,#dff2d2,#d9f3d6,#cff4de,#c1f5e8,#aef2ee,#90e0e6,#6cc1cf,#4fa0b1,#3a8191,#2d6774,#25525d,#20464e,#1f4249,#24484f,#355e63,#507c7e,#709a96,#8fb5a9,#abc9b5,#c0d7bd,#cfe0c1,#d8e6c4,#deeac7,#e1edc9,#d6d7b4,#e3f0cd)"></i><i style="background:linear-gradient(90deg,#b5cdb6,#c6d8bc,#d6e3c1,#e0e9c4,#e6ecc6,#e6cca2,#bf4a1e,#804226,#e3ebc6,#e4f3cf,#ddf3d3,#d3f3da,#c4f4e3,#b1f0ea,#94e2e6,#72c6d2,#53a6b6,#3d8898,#2f6e7d,#265966,#204c57,#1f4750,#264d54,#376065,#527c7d,#739b96,#95b7a9,#b3ccb6,#cadbbe,#d9e5c2,#e2eac5,#e7edc6,#e5c298,#ba4318,#8a5438,#e7f2cd,#e3f3d0,#dcf3d5,#d1f3dc,#c2f4e5,#adefea,#8fdde2,#6dc1cd,#50a2b2,#3b8494,#2d6a79,#245663,#204a54,#1f464f,#285057,#3b666b,#588484,#79a29c,#9bbdad,#b8d0b9,#cedebf,#dce6c3,#e4ebc5,#e7eec7,#e2ae82,#b74217,#7f381b)"></i><i style="background:linear-gradient(90deg,#c0d4ba,#d3e0bf,#e3eac4,#ebeec6,#eef0c7,#f6854f,#d54e1c,#7f2e10,#ad9c7d,#e7f3ce,#dff2d2,#d4f2d8,#c4f1e0,#afede6,#92dee1,#71c4cf,#54a7b6,#3f8a9b,#307281,#265e6c,#21515d,#214d58,#29555d,#3c686d,#588485,#7ba39c,#9fbeae,#bed4ba,#d8e3c1,#e6ebc4,#ecefc6,#eef1c7,#f77740,#d34d1c,#7c2d10,#bfb796,#e5f3cf,#ddf3d3,#d2f2da,#c2f1e1,#acebe5,#8edadf,#6dc0cc,#51a3b3,#3d8798,#2f6f7e,#255b69,#21505b,#224e58,#2c5860,#406d73,#5e8b8b,#82a9a1,#a5c3b1,#c5d8bc,#dce5c2,#e7ecc5,#edefc6,#eff1c7,#f86930,#d14c1b,#933513)"></i><i style="background:linear-gradient(90deg,#579ec4,#4c798d,#d4dab8,#f3f2c7,#f5f3c7,#fe793c,#e36634,#843011,#826047,#e8f2cd,#e0f2d1,#d3f1d7,#c3efdd,#ace8e1,#8fdadd,#70c2cd,#54a7b7,#408d9e,#327686,#286372,#235764,#245560,#2d5c66,#407076,#5e8b8c,#82a9a1,#a5c4b3,#6fb1cd,#4e7c91,#d6dbb8,#f3f3c7,#f5eabd,#ff793b,#e0622f,#822f11,#957b5f,#e6f2ce,#def2d2,#d1f1d8,#c0eede,#a9e7e1,#8bd7db,#6cbfcb,#51a4b4,#3e8a9b,#317383,#27616f,#235663,#255560,#2f5f68,#44757a,#639191,#88afa5,#adcab6,#71b3cf,#508096,#d7dbb8,#f4f3c7,#f5d7a8,#ff7d40,#de5d2b,#9a3814)"></i><i style="background:linear-gradient(90deg,#62b3dd,#457d9b,#748882,#f7f4c7,#f8f5c8,#ff8a4d,#e37644,#802e10,#79533b,#e8f2cc,#dff1d0,#d2efd5,#c0ebda,#a8e4dd,#8bd5d8,#6dbfcb,#53a7b7,#408ea0,#33798a,#2a6978,#265e6c,#275c68,#30646e,#44777e,#619192,#87afa5,#94cdd4,#6bc3ef,#4883a3,#758983,#f7f4c7,#f9e2b3,#ff9356,#e16f3d,#7f2e10,#8c6d53,#e7f2cd,#ddf1d0,#d0efd5,#bdebda,#a5e2dc,#88d3d7,#6abdc9,#51a4b5,#3f8c9e,#327788,#2a6776,#265d6b,#285c69,#326671,#487b81,#679796,#8fb5a9,#9ad1d6,#6dc6f2,#4c8aab,#768a85,#f7f5c8,#f9cf9e,#ff9b5e,#df6836,#973713)"></i><i style="background:linear-gradient(90deg,#71c3eb,#4882a2,#3b5863,#f9f5c8,#f9f6c8,#fa6127,#cf5021,#762b0f,#7e5940,#e8f1cb,#deefce,#cfedd3,#bce8d7,#a3dfd8,#87d0d4,#6abcc8,#52a6b6,#4090a2,#357d8e,#2d6e7e,#2a6574,#2a6371,#336b77,#467d85,#649697,#93b8ab,#90dfeb,#8ee0f8,#4c8aab,#3c5a66,#f9f5c8,#f8e2b3,#fa6329,#cd4f20,#752a0f,#907458,#e6f1cc,#dcefcf,#cdecd3,#bae7d7,#a1ded8,#84cfd3,#68bac7,#51a4b5,#3f8ea0,#347b8d,#2d6d7d,#296473,#2b6471,#356d78,#4a8188,#6a9b9b,#9fbfaf,#91dfeb,#91e4fb,#5091b4,#3d5c69,#f9f5c8,#f8d3a3,#fa652b,#cc4d1f,#8b3212)"></i><i style="background:linear-gradient(90deg,#7ccdee,#46809e,#274758,#f9f5c8,#faf6c8,#e36f3d,#b54117,#67250d,#9f876a,#e6f0ca,#dbedcd,#ccead1,#b7e3d4,#9ddad4,#82cbd0,#67b9c5,#50a4b5,#4091a3,#368192,#317485,#2e6d7c,#2e6b79,#35717e,#47828b,#6a9d9d,#a6c4b1,#94e7f4,#b9ecfa,#4b88a8,#28495b,#f9f6c8,#f9f6c8,#e1602d,#b44117,#66250d,#ad9b7c,#e5efcb,#d9edcd,#cae9d1,#b5e3d4,#9bd9d4,#80cacf,#65b7c4,#4fa3b4,#3f90a2,#357f91,#307384,#2e6c7b,#2f6b79,#377380,#4b858d,#73a3a0,#b0cab4,#92e6f4,#c0f1fc,#4f90b2,#2a4c5e,#f9f6c8,#f7ebbd,#df5522,#b24117,#762b0f)"></i><i style="background:linear-gradient(90deg,#64b1da,#417693,#2d4c5b,#faf6c8,#f9f6c8,#dba77a,#943613,#5d2611,#d7d5b0,#e3eec9,#d7eacc,#c6e6ce,#b0ded0,#97d4d0,#7cc5cb,#62b4c1,#4ea2b4,#4091a4,#398496,#357a8b,#337483,#337381,#387885,#498690,#7ca9a4,#b7ceb5,#8edcf0,#7bcff0,#457e9d,#2e4d5c,#f9f6c8,#f9f6c8,#d5966a,#923513,#612d17,#dbdcb6,#e2edca,#d5eacc,#c5e5ce,#afded0,#95d3d0,#7ac5cb,#61b4c1,#4da2b3,#3f91a4,#388395,#347a8a,#337483,#357482,#3a7986,#4d8992,#85b0a7,#bed2b7,#8edbf0,#7fd4f4,#4a86a6,#2f4e5e,#f9f6c8,#f9f5c8,#cd8459,#903412,#5a200b)"></i><i style="background:linear-gradient(90deg,#569bc1,#396780,#4e676c,#faf6c7,#f9f5c8,#f8f5c7,#bba07b,#cdc29d,#e7eec7,#deebc8,#d1e7c9,#bfe1cb,#a8d8cc,#8fcdcb,#75bfc6,#5dafbd,#4ba0b1,#4192a5,#3c8899,#398090,#397c8a,#3a7b89,#3d7e8c,#528e96,#8eb5aa,#c2d5b8,#96cfde,#5fadd6,#3c6e88,#4e676c,#faf6c7,#f9f5c8,#f8f5c7,#b59975,#d1c9a3,#e6edc7,#ddeac8,#d0e6ca,#bee0cb,#a7d8cc,#8dcdcb,#74bfc6,#5dafbd,#4b9fb1,#4092a5,#3b8799,#398090,#397c8a,#3b7c89,#3f808d,#579298,#94b9ac,#c7d8b9,#97d0de,#62b1db,#407591,#4e676c,#faf6c7,#f9f5c7,#f4eec2,#b49875,#beaf8c)"></i><i style="background:linear-gradient(90deg,#4883a2,#2f5569,#9da996,#f9f5c7,#f9f5c7,#f7f4c7,#f3f2c6,#edefc6,#e2ebc6,#d6e6c6,#c8e1c7,#b5dac8,#9ed1c7,#85c5c5,#6db8c0,#58aab9,#499daf,#4393a5,#408c9c,#3f8695,#3f8391,#41838f,#448692,#639a9d,#98bcad,#c7d8b9,#c1d7c2,#5091b3,#31596e,#9da996,#f9f5c7,#f9f5c7,#f6f4c7,#f3f2c6,#ecefc6,#e1eac6,#d6e6c6,#c7e1c7,#b4dac8,#9dd0c7,#84c5c5,#6cb8c0,#57aab9,#489daf,#4193a5,#3f8b9c,#3e8695,#3f8391,#428490,#478893,#689e9f,#9cbeae,#cad9ba,#c2d7c2,#5193b7,#335d73,#9da996,#f9f5c7,#f8f5c7,#f6f4c7,#f2f2c6,#eef0c6)"></i><i style="background:linear-gradient(90deg,#94a99f,#95a393,#f8f4c6,#f8f4c6,#f6f4c6,#f4f2c6,#eff0c5,#e7ecc5,#dbe6c4,#cbe0c3,#bcdac3,#a8d1c3,#91c7c2,#7abcbf,#64b0ba,#52a4b4,#499bac,#4594a5,#448f9e,#448b99,#468996,#488995,#4e8e97,#70a3a2,#99bcad,#c2d5b8,#e0e6bf,#abbcab,#9ca997,#f8f4c6,#f8f4c6,#f6f4c6,#f3f2c6,#eff0c5,#e7ecc5,#dbe6c4,#cbe0c3,#bcd9c3,#a8d1c3,#91c7c2,#79bcbf,#64b0ba,#52a4b4,#489bad,#4393a5,#438e9e,#448b99,#468996,#498a95,#519098,#74a6a3,#9bbeae,#c4d6b8,#e1e6bf,#abbdab,#9ca997,#f8f4c6,#f8f4c6,#f6f4c6,#f3f2c6,#eff0c5,#e9edc5)"></i><i style="background:linear-gradient(90deg,#7eb9b8,#5d979b,#769186,#d6d9b4,#efefc5,#eceec4,#e6ebc3,#dde6c2,#cedfc1,#bdd7bf,#acd0be,#99c7bd,#83bdbb,#6db2b8,#5aa7b4,#4f9faf,#4a9aaa,#4795a5,#4892a0,#4a909c,#4c8f9a,#4e8f99,#56939b,#72a5a3,#90b7ab,#b1cbb3,#cddbba,#c8ddc0,#85bcb8,#659797,#91a491,#eaebc1,#eceec4,#e6ebc3,#dde6c2,#cfe0c1,#bdd7bf,#add0be,#99c7bd,#83bdbb,#6eb2b8,#5aa8b4,#4d9faf,#4899aa,#4594a5,#4691a0,#498f9c,#4c8f9a,#509099,#58959b,#75a6a3,#93b9ac,#b1cbb3,#cddbbb,#e0e6bf,#bcd8c1,#7db5b3,#6f9995,#aebaa0,#eceec4,#e7ebc3,#e0e8c3)"></i><i style="background:linear-gradient(90deg,#6cc1cd,#63a8b1,#517e80,#4f6965,#c2cdae,#d9e3c0,#d3e0bf,#c8dabe,#b8d3bb,#a9cbba,#99c3b8,#87bbb6,#73b1b3,#61a8b1,#52a0ae,#4e9cab,#4b99a8,#4995a5,#4b94a2,#4e939f,#51939d,#53939c,#56949b,#669d9f,#7aaaa5,#8fb6aa,#98c5ba,#76ccd7,#74c5ce,#67a6ab,#527a7a,#74887b,#d6e0bd,#d4e0bf,#c9dbbe,#bad3bc,#aacbba,#9ac4b8,#87bbb6,#74b1b3,#61a8b1,#529fae,#4b9bab,#4998a8,#4795a5,#4993a2,#4d939f,#51939d,#55949c,#59969c,#699fa0,#7eaca6,#91b7ab,#a8c6b1,#9bcec5,#7dcfd7,#79c4ca,#69a3a5,#517473,#94a591,#d4e1bf,#cdddbe)"></i><i style="background:linear-gradient(90deg,#6dc7d6,#63aeb8,#52868b,#456463,#546e69,#a7c0ab,#aec9b5,#a6c6b4,#9dc1b3,#91bbb1,#83b4af,#73adad,#63a5ab,#559ea9,#4f9ba9,#4e9aa8,#4e99a7,#4f98a5,#4f97a3,#5196a1,#54969f,#57969e,#58959c,#58949b,#5a959a,#619fa5,#70d0df,#79dae9,#76ccd8,#68adb4,#548386,#496563,#728b80,#aecab5,#a7c6b4,#9ec1b3,#92bcb1,#84b5af,#74adad,#64a5ab,#559ea9,#4b99a8,#4a98a8,#4b98a7,#4d97a5,#4e96a3,#5096a1,#5496a0,#58979e,#5b979d,#5c979c,#60989c,#659b9d,#6fb3b8,#7ad7e4,#81dbe6,#7bccd4,#6aabb0,#548081,#4b6663,#93ad9c,#aac8b4)"></i><i style="background:linear-gradient(90deg,#6dcbdb,#61b0bc,#508990,#446769,#47625f,#56716c,#81a59b,#83aaa1,#7ea9a3,#76a6a3,#6ba2a3,#5f9da3,#5498a3,#4d96a3,#4f98a5,#539ba7,#579da7,#599ea7,#5a9ea7,#5a9ca5,#589aa2,#5898a0,#58969d,#569299,#559198,#72cad6,#78e1f2,#7be1f2,#76d1de,#66afb9,#53888d,#476867,#4b6561,#6c8b83,#83a9a0,#7ea9a2,#76a6a3,#6ca2a3,#609da3,#5498a2,#4a94a2,#4a95a4,#4e98a5,#529aa7,#569ca7,#589da6,#599ca5,#599aa3,#5999a1,#5b989e,#5b959b,#599297,#62a3aa,#7ad7e4,#7ee2f1,#83e2ee,#7acfd9,#69aeb5,#548689,#4a6765,#516b67,#76978f)"></i><i style="background:linear-gradient(90deg,#6dcddf,#5eb1bf,#4d8b94,#426a6e,#425e5c,#486260,#4a6663,#507270,#588383,#588b8d,#548d93,#4e8e97,#498e9b,#4e939f,#559aa4,#5c9fa7,#62a3a9,#66a5ab,#68a6ab,#69a6ab,#67a5a9,#64a1a6,#609da3,#609ea4,#7bc5cb,#89e3eb,#84e8f7,#7fe7f9,#75d3e3,#62b0bc,#508b92,#456a6c,#46615e,#496460,#4d6c6a,#557c7c,#57888a,#538b91,#4d8c96,#478c99,#478f9d,#4e95a1,#559aa5,#5c9fa8,#62a3aa,#66a5ab,#68a6ab,#68a5aa,#66a3a8,#63a0a5,#619da2,#6baaaf,#89d7dc,#8be5ee,#86e9f7,#85e7f6,#79d2de,#66afb9,#52898f,#476969,#48625f,#496460)"></i><i style="background:linear-gradient(90deg,#6ccee1,#5bb0c0,#4a8b97,#3e6c72,#3c5a5b,#415d5c,#44605e,#425d5c,#3e5e5f,#436e73,#457a82,#44818c,#498a95,#54959d,#5f9ea4,#68a5a9,#70abac,#76afaf,#79b1b1,#7bb3b2,#7bb3b2,#7bb4b4,#7fbab9,#8fcfcd,#9be3e2,#98eaee,#90eef9,#87edfd,#74d5e6,#5fb0bd,#4d8b95,#416c70,#3f5c5b,#435f5d,#435f5d,#3e5b5b,#3f6669,#42757c,#427e88,#418491,#4a8d99,#5597a0,#609fa6,#69a6aa,#71acad,#76afb0,#79b2b1,#7bb3b2,#7cb4b3,#7eb7b6,#88c3c0,#99d9d6,#9ee6e5,#99ecef,#91effa,#88ecfb,#77d3e1,#62afbb,#4f8b93,#436b6e,#415d5c,#435e5d)"></i><i style="background:linear-gradient(90deg,#6dcfe2,#58b0c1,#468c99,#3b6d75,#36575a,#395657,#3d5a59,#3d5a59,#3a5757,#385c5f,#3b6b73,#417a83,#4f8a92,#5e999d,#6ca4a6,#78adac,#81b4b0,#88b9b4,#8cbeb7,#90c1ba,#93c5bd,#97cbc3,#a1d6cd,#abe3da,#abebe4,#a4efee,#9bf3fa,#90f1fe,#74d6e7,#5bafbf,#498c97,#3d6d74,#38585a,#3b5858,#3d5959,#3a5757,#355456,#376269,#39717b,#427f8a,#518f97,#5f9ca1,#6da6a8,#79afae,#82b6b2,#89bbb5,#8dbfb8,#91c3bc,#96c8c0,#9dd0c7,#a8dcd2,#aee7dd,#acece5,#a5f0ef,#9df4fb,#8feffd,#74d3e3,#5dafbc,#4b8b96,#3f6c72,#395859,#3a5758)"></i></div><svg width="444" height="290" viewBox="0 0 444 290" font-family='"Liberation Sans", sans-serif'><defs>
<radialGradient id="crm" cx="0.5" cy="0.5" r="0.5"><stop offset="0" stop-color="#fbf9d8"/><stop offset="0.55" stop-color="#f3f0c4" stop-opacity="0.95"/><stop offset="1" stop-color="#e8eec8" stop-opacity="0"/></radialGradient>
<radialGradient id="shd" cx="0.5" cy="0.5" r="0.5"><stop offset="0" stop-color="#1d5f78" stop-opacity="0.75"/><stop offset="1" stop-color="#1d5f78" stop-opacity="0"/></radialGradient>
<radialGradient id="bball" cx="0.4" cy="0.35" r="0.6"><stop offset="0" stop-color="#bfe9ff"/><stop offset="0.5" stop-color="#58b8ee"/><stop offset="1" stop-color="#2a7fb8"/></radialGradient>
<radialGradient id="oball" cx="0.4" cy="0.35" r="0.6"><stop offset="0" stop-color="#ff9a60"/><stop offset="0.5" stop-color="#e0521c"/><stop offset="1" stop-color="#a83408"/></radialGradient>
</defs><text transform="translate(7.0 14.8) scale(0.88 1)" font-size="18.5" fill="#262626">a</text>
<text x="149.50" y="15.80" font-size="15" text-anchor="start" fill="#262626">b</text>
<text x="7.30" y="162.60" font-size="15" text-anchor="start" fill="#262626">c</text>
<text x="149.50" y="162.60" font-size="15" text-anchor="start" fill="#262626">d</text>
<text x="291.30" y="14.80" font-size="16" text-anchor="start" fill="#262626">e</text>
<path d="M170.4,109.1 L170.9,108.7 L171.5,108.0 L172.0,107.3 L172.5,106.4 L173.0,105.4 L173.6,104.4 L174.1,103.3 L174.6,102.2 L175.2,101.1 L175.7,99.9 L176.2,98.7 L176.8,97.5 L177.3,96.3 L177.8,95.1 L178.3,93.9 L178.9,92.7 L179.4,91.5 L179.9,90.3 L180.5,89.1 L181.0,87.9 L181.5,86.8 L182.0,85.6 L182.6,84.5 L183.1,83.4 L183.6,82.3 L184.2,81.2 L184.7,80.2 L185.2,79.2 L185.8,78.2 L186.3,77.2 L186.8,76.2 L187.3,75.3 L187.9,74.4 L188.4,73.5 L188.9,72.7 L189.5,71.8 L190.0,71.0 L190.5,70.3 L191.1,69.5 L191.6,68.8 L192.1,68.1 L192.6,67.4 L193.2,66.7 L193.7,66.1 L194.2,65.4 L194.8,64.8 L195.3,64.3 L195.8,63.7 L196.3,63.2 L196.9,62.7 L197.4,62.2 L197.9,61.7 L198.5,61.2 L199.0,60.8 L199.5,60.4 L200.1,59.9 L200.6,59.6 L201.1,59.2 L201.6,58.8 L202.2,58.5 L202.7,58.2 L203.2,57.8 L203.8,57.5 L204.3,57.2 L204.8,57.0 L205.3,56.7 L205.9,56.5 L206.4,56.2 L206.9,56.0 L207.5,55.8 L208.0,55.6 L208.5,55.4 L209.1,55.2 L209.6,55.0 L210.1,54.8 L210.6,54.7 L211.2,54.5 L211.7,54.4 L212.2,54.2 L212.8,54.1 L213.3,54.0 L213.8,53.8 L214.3,53.7 L214.9,53.6 L215.4,53.5 L215.9,53.4 L216.5,53.3 L217.0,53.2 L217.5,53.1 L218.1,53.1 L218.6,53.0 L219.1,52.9 L219.6,52.9 L220.2,52.8 L220.7,52.7 L221.2,52.7 L221.8,52.6 L222.3,52.6 L222.8,52.5 L223.4,52.5 L223.9,52.4 L224.4,52.4 L224.9,52.4 L225.5,52.3 L226.0,52.3 L226.5,52.3 L227.1,52.2 L227.6,52.2 L228.1,52.2 L228.6,52.1 L229.2,52.1 L229.7,52.1 L230.2,52.1 L230.8,52.1 L231.3,52.0 L231.8,52.0 L232.4,52.0 L232.9,52.0 L233.4,52.0 L233.9,52.0 L234.5,52.0 L235.0,51.9 L235.5,51.9 L236.1,51.9 L236.6,51.9 L237.1,51.9 L237.6,51.9 L238.2,51.9 L238.7,51.9 L239.2,51.9 L239.8,51.9 L240.3,51.9 L240.8,51.8 L241.4,51.8 L241.9,51.8 L242.4,51.8 L242.9,51.8 L243.5,51.8 L244.0,51.8 L244.5,51.8 L245.1,51.8 L245.6,51.8 L246.1,51.8 L246.6,51.8 L247.2,51.8 L247.7,51.8 L248.2,51.8 L248.8,51.8 L249.3,51.8 L249.8,51.8 L250.4,51.8 L250.9,51.8 L251.4,51.8 L251.9,51.8 L252.5,51.8 L253.0,51.8 L253.5,51.8 L254.1,51.8 L254.6,51.8 L255.1,51.8 L255.6,51.8 L256.2,51.8 L256.7,51.8 L257.2,51.8 L257.8,51.8 L258.3,51.8 L258.8,51.8 L259.4,51.8 L259.9,51.8 L260.4,51.8 L260.9,51.8 L261.5,51.8 L262.0,51.8 L262.5,51.8 L263.1,51.8 L263.6,51.8 L264.1,51.8 L264.7,51.8 L265.2,51.8 L265.7,51.8 L266.2,51.8 L266.8,51.8 L267.3,51.8 L267.8,51.8 L268.4,51.8 L268.9,51.8 L269.4,51.8 L269.9,51.8 L270.5,51.8 L271.0,51.8 L271.5,51.8 L272.1,51.8 L272.6,51.8 L273.1,51.8 L273.7,51.8 L274.2,51.8 L274.7,51.8 L275.2,51.8 L275.8,51.8 L276.3,51.8" fill="none" stroke="#f9d6bd" stroke-width="3.7" stroke-linejoin="round" stroke-linecap="butt"/>
<circle cx="170.3" cy="110.1" r="1.6" fill="#0072BD"/>
<circle cx="174.1" cy="96.7" r="1.6" fill="#0072BD"/>
<circle cx="174.5" cy="101.8" r="1.6" fill="#0072BD"/>
<circle cx="176.6" cy="103.4" r="1.6" fill="#0072BD"/>
<circle cx="175.6" cy="99.5" r="1.6" fill="#0072BD"/>
<circle cx="178.1" cy="100.3" r="1.6" fill="#0072BD"/>
<circle cx="179.2" cy="98.7" r="1.6" fill="#0072BD"/>
<circle cx="180.8" cy="97.6" r="1.6" fill="#0072BD"/>
<circle cx="176.6" cy="86.3" r="1.6" fill="#0072BD"/>
<circle cx="179.7" cy="81.3" r="1.6" fill="#0072BD"/>
<circle cx="186.2" cy="84" r="1.6" fill="#0072BD"/>
<circle cx="185.9" cy="77" r="1.6" fill="#0072BD"/>
<circle cx="190.4" cy="72.3" r="1.6" fill="#0072BD"/>
<circle cx="200.3" cy="60.8" r="1.6" fill="#0072BD"/>
<circle cx="206.2" cy="52.8" r="1.6" fill="#0072BD"/>
<circle cx="221.7" cy="59.4" r="1.6" fill="#0072BD"/>
<circle cx="251.3" cy="58" r="1.6" fill="#0072BD"/>
<circle cx="266.9" cy="45.6" r="1.6" fill="#0072BD"/>
<rect x="170.40" y="34.40" width="105.90" height="84.70" fill="none" stroke="#6b6b6b" stroke-width="1"/>
<line x1="170.40" y1="119.10" x2="170.40" y2="117.60" stroke="#6b6b6b" stroke-width="0.8"/>
<text x="170.40" y="129.80" font-size="8.4" text-anchor="middle" fill="#1f1f1f">0</text>
<line x1="191.58" y1="119.10" x2="191.58" y2="117.60" stroke="#6b6b6b" stroke-width="0.8"/>
<text x="191.58" y="129.80" font-size="8.4" text-anchor="middle" fill="#1f1f1f">2</text>
<line x1="212.76" y1="119.10" x2="212.76" y2="117.60" stroke="#6b6b6b" stroke-width="0.8"/>
<text x="212.76" y="129.80" font-size="8.4" text-anchor="middle" fill="#1f1f1f">4</text>
<line x1="233.94" y1="119.10" x2="233.94" y2="117.60" stroke="#6b6b6b" stroke-width="0.8"/>
<text x="233.94" y="129.80" font-size="8.4" text-anchor="middle" fill="#1f1f1f">6</text>
<line x1="255.12" y1="119.10" x2="255.12" y2="117.60" stroke="#6b6b6b" stroke-width="0.8"/>
<text x="255.12" y="129.80" font-size="8.4" text-anchor="middle" fill="#1f1f1f">8</text>
<line x1="276.30" y1="119.10" x2="276.30" y2="117.60" stroke="#6b6b6b" stroke-width="0.8"/>
<text x="276.30" y="129.80" font-size="8.4" text-anchor="middle" fill="#1f1f1f">10</text>
<line x1="170.40" y1="34.40" x2="171.90" y2="34.40" stroke="#6b6b6b" stroke-width="0.8"/>
<text x="168.20" y="37.80" font-size="8.4" text-anchor="end" fill="#1f1f1f">1.2</text>
<line x1="170.40" y1="48.52" x2="171.90" y2="48.52" stroke="#6b6b6b" stroke-width="0.8"/>
<text x="168.20" y="51.92" font-size="8.4" text-anchor="end" fill="#1f1f1f">1.15</text>
<line x1="170.40" y1="62.63" x2="171.90" y2="62.63" stroke="#6b6b6b" stroke-width="0.8"/>
<text x="168.20" y="66.03" font-size="8.4" text-anchor="end" fill="#1f1f1f">1.1</text>
<line x1="170.40" y1="76.75" x2="171.90" y2="76.75" stroke="#6b6b6b" stroke-width="0.8"/>
<text x="168.20" y="80.15" font-size="8.4" text-anchor="end" fill="#1f1f1f">1.05</text>
<line x1="170.40" y1="90.87" x2="171.90" y2="90.87" stroke="#6b6b6b" stroke-width="0.8"/>
<text x="168.20" y="94.27" font-size="8.4" text-anchor="end" fill="#1f1f1f">1</text>
<line x1="170.40" y1="104.98" x2="171.90" y2="104.98" stroke="#6b6b6b" stroke-width="0.8"/>
<text x="168.20" y="108.38" font-size="8.4" text-anchor="end" fill="#1f1f1f">0.95</text>
<line x1="170.40" y1="119.10" x2="171.90" y2="119.10" stroke="#6b6b6b" stroke-width="0.8"/>
<text x="168.20" y="122.50" font-size="8.4" text-anchor="end" fill="#1f1f1f">0.9</text>
<line x1="181.70" y1="34.40" x2="181.70" y2="35.90" stroke="#6b6b6b" stroke-width="0.8"/>
<text x="183.00" y="30.80" font-size="8.4" text-anchor="middle" fill="#1f1f1f">8</text>
<line x1="195.00" y1="34.40" x2="195.00" y2="35.90" stroke="#6b6b6b" stroke-width="0.8"/>
<text x="196.30" y="30.80" font-size="8.4" text-anchor="middle" fill="#1f1f1f">6</text>
<line x1="214.40" y1="34.40" x2="214.40" y2="35.90" stroke="#6b6b6b" stroke-width="0.8"/>
<text x="215.70" y="30.80" font-size="8.4" text-anchor="middle" fill="#1f1f1f">4</text>
<line x1="267.50" y1="34.40" x2="267.50" y2="35.90" stroke="#6b6b6b" stroke-width="0.8"/>
<text x="268.80" y="30.80" font-size="8.4" text-anchor="middle" fill="#1f1f1f">2</text>
<text x="187.50" y="18.00" font-size="9.1" text-anchor="start" fill="#1f1f1f">Moiré period (nm)</text>
<text x="204.50" y="142.20" font-size="9.6" text-anchor="start" fill="#1f1f1f">Angle (°)</text>
<text x="148.20" y="73.00" font-size="9.2" text-anchor="middle" fill="#1f1f1f" transform="rotate(-90 148.2 73.0)">Energy (eV)</text>
<svg x="21.2" y="175.5" width="118.3" height="85.80000000000001" viewBox="21.2 175.5 118.3 85.80000000000001" overflow="hidden">
<path d="M21.2,254.8 L21.3,251.4 L21.4,251.6 L21.6,255.6 L21.7,248.8 L21.8,250.5 L21.9,248.8 L22.0,248.5 L22.2,255.1 L22.3,251.2 L22.4,249.1 L22.5,255.6 L22.6,248.5 L22.8,248.2 L22.9,245.5 L23.0,247.4 L23.1,250.0 L23.2,252.4 L23.4,251.7 L23.5,244.8 L23.6,246.1 L23.7,246.8 L23.8,242.8 L24.0,252.5 L24.1,242.2 L24.2,252.7 L24.3,252.0 L24.4,255.6 L24.6,253.9 L24.7,249.1 L24.8,243.4 L24.9,246.5 L25.0,248.2 L25.2,254.5 L25.3,251.7 L25.4,256.0 L25.5,251.0 L25.6,247.4 L25.8,252.5 L25.9,243.5 L26.0,252.5 L26.1,252.4 L26.2,254.6 L26.4,256.0 L26.5,252.8 L26.6,242.1 L26.7,252.9 L26.8,248.4 L27.0,251.7 L27.1,252.9 L27.2,251.2 L27.3,243.2 L27.4,252.7 L27.6,238.8 L27.7,252.7 L27.8,247.2 L27.9,254.0 L28.0,239.0 L28.2,244.9 L28.3,249.0 L28.4,253.4 L28.5,242.5 L28.6,237.2 L28.8,253.9 L28.9,254.1 L29.0,239.1 L29.1,244.1 L29.2,242.9 L29.4,247.6 L29.5,249.2 L29.6,244.8 L29.7,240.5 L29.8,254.5 L30.0,251.2 L30.1,241.4 L30.2,251.4 L30.3,241.4 L30.4,244.2 L30.6,250.5 L30.7,253.6 L30.8,252.0 L30.9,245.2 L31.0,242.9 L31.2,243.3 L31.3,252.5 L31.4,255.7 L31.5,251.5 L31.6,249.1 L31.8,244.1 L31.9,249.9 L32.0,247.1 L32.1,242.7 L32.2,247.1 L32.4,247.7 L32.5,247.2 L32.6,237.5 L32.7,242.3 L32.8,254.4 L33.0,253.3 L33.1,244.0 L33.2,249.1 L33.3,247.6 L33.4,247.0 L33.6,246.6 L33.7,251.6 L33.8,253.6 L33.9,252.2 L34.0,255.2 L34.2,246.8 L34.3,239.3 L34.4,252.9 L34.5,249.4 L34.6,247.2 L34.8,253.9 L34.9,244.6 L35.0,249.1 L35.1,246.9 L35.2,251.3 L35.4,247.5 L35.5,250.3 L35.6,253.9 L35.7,254.1 L35.8,253.2 L36.0,248.3 L36.1,250.1 L36.2,252.7 L36.3,246.0 L36.4,246.6 L36.6,247.3 L36.7,247.7 L36.8,241.3 L36.9,244.3 L37.0,251.7 L37.2,254.2 L37.3,253.2 L37.4,242.4 L37.5,252.5 L37.6,253.2 L37.8,246.2 L37.9,249.1 L38.0,251.3 L38.1,250.3 L38.2,250.0 L38.4,253.6 L38.5,254.2 L38.6,249.2 L38.7,244.4 L38.8,243.5 L39.0,246.6 L39.1,250.9 L39.2,240.5 L39.3,249.7 L39.4,242.3 L39.6,245.0 L39.7,243.7 L39.8,252.8 L39.9,246.7 L40.0,244.4 L40.2,253.9 L40.3,245.6 L40.4,250.2 L40.5,253.0 L40.6,248.6 L40.8,241.6 L40.9,247.7 L41.0,243.7 L41.1,251.3 L41.2,248.4 L41.4,251.1 L41.5,243.3 L41.6,245.5 L41.7,245.4 L41.8,235.7 L42.0,246.1 L42.1,250.6 L42.2,244.6 L42.3,248.5 L42.4,245.8 L42.6,238.3 L42.7,240.9 L42.8,248.4 L42.9,251.3 L43.0,245.2 L43.2,240.8 L43.3,238.1 L43.4,249.1 L43.5,239.3 L43.6,249.7 L43.8,244.9 L43.9,243.2 L44.0,247.1 L44.1,235.5 L44.2,239.7 L44.4,241.3 L44.5,244.2 L44.6,245.6 L44.7,244.3 L44.8,248.9 L45.0,242.6 L45.1,246.5 L45.2,249.6 L45.3,239.3 L45.4,233.3 L45.6,249.0 L45.7,249.8 L45.8,246.0 L45.9,243.5 L46.0,243.7 L46.2,248.2 L46.3,246.0 L46.4,241.9 L46.5,246.6 L46.6,234.5 L46.8,249.5 L46.9,238.6 L47.0,246.5 L47.1,238.4 L47.2,248.1 L47.4,239.8 L47.5,240.0 L47.6,244.1 L47.7,243.9 L47.8,242.7 L48.0,243.4 L48.1,247.7 L48.2,241.5 L48.3,245.1 L48.4,240.3 L48.6,236.8 L48.7,240.0 L48.8,247.1 L48.9,240.4 L49.0,235.4 L49.2,244.1 L49.3,242.4 L49.4,238.9 L49.5,237.9 L49.6,244.6 L49.8,238.6 L49.9,244.0 L50.0,233.9 L50.1,244.1 L50.2,244.4 L50.4,238.5 L50.5,233.4 L50.6,243.5 L50.7,241.7 L50.8,241.2 L51.0,243.7 L51.1,236.2 L51.2,236.2 L51.3,233.3 L51.4,239.4 L51.6,235.7 L51.7,237.2 L51.8,232.6 L51.9,241.9 L52.0,236.8 L52.2,240.0 L52.3,236.7 L52.4,238.4 L52.5,230.6 L52.6,235.1 L52.8,233.9 L52.9,237.9 L53.0,232.7 L53.1,231.1 L53.2,231.3 L53.4,236.4 L53.5,237.1 L53.6,236.8 L53.7,233.3 L53.8,223.1 L54.0,236.1 L54.1,230.3 L54.2,232.3 L54.3,227.2 L54.4,229.7 L54.6,230.3 L54.7,232.6 L54.8,228.8 L54.9,232.1 L55.0,230.1 L55.2,222.9 L55.3,228.1 L55.4,227.4 L55.5,231.3 L55.6,222.4 L55.8,222.7 L55.9,221.0 L56.0,223.1 L56.1,227.9 L56.2,225.8 L56.4,227.9 L56.5,224.4 L56.6,223.1 L56.7,226.0 L56.8,219.6 L57.0,221.9 L57.1,224.6 L57.2,221.4 L57.3,220.9 L57.4,223.0 L57.6,223.8 L57.7,218.2 L57.8,214.7 L57.9,218.9 L58.0,217.2 L58.2,216.7 L58.3,218.0 L58.4,217.3 L58.5,212.9 L58.6,208.8 L58.8,212.6 L58.9,210.8 L59.0,211.4 L59.1,212.4 L59.2,212.8 L59.4,209.2 L59.5,211.2 L59.6,210.7 L59.7,207.1 L59.8,207.6 L60.0,208.6 L60.1,206.7 L60.2,208.5 L60.3,207.7 L60.4,203.2 L60.6,204.4 L60.7,204.8 L60.8,204.0 L60.9,203.1 L61.0,202.1 L61.2,198.9 L61.3,198.1 L61.4,201.6 L61.5,200.0 L61.6,199.7 L61.8,199.1 L61.9,195.6 L62.0,196.5 L62.1,194.2 L62.2,193.0 L62.4,196.9 L62.5,191.5 L62.6,193.6 L62.7,194.2 L62.8,193.5 L63.0,191.9 L63.1,189.9 L63.2,189.3 L63.3,188.4 L63.4,191.2 L63.6,191.4 L63.7,187.6 L63.8,186.9 L63.9,187.9 L64.0,186.2 L64.2,184.9 L64.3,186.3 L64.4,187.1 L64.5,186.3 L64.6,184.9 L64.8,186.7 L64.9,185.2 L65.0,186.4 L65.1,186.3 L65.2,186.6 L65.4,183.1 L65.5,184.1 L65.6,183.0 L65.7,183.6 L65.8,185.5 L66.0,183.9 L66.1,183.4 L66.2,186.8 L66.3,187.2 L66.4,185.9 L66.6,185.1 L66.7,187.8 L66.8,187.7 L66.9,186.8 L67.0,186.1 L67.2,186.0 L67.3,186.8 L67.4,190.4 L67.5,190.4 L67.6,191.2 L67.8,189.9 L67.9,191.0 L68.0,189.5 L68.1,189.5 L68.2,189.3 L68.4,189.3 L68.5,191.2 L68.6,191.2 L68.7,193.5 L68.8,194.3 L69.0,195.4 L69.1,196.1 L69.2,191.7 L69.3,194.6 L69.4,195.9 L69.6,195.3 L69.7,199.5 L69.8,198.4 L69.9,198.6 L70.0,198.3 L70.2,199.8 L70.3,200.7 L70.4,200.2 L70.5,199.8 L70.6,203.1 L70.8,203.4 L70.9,199.5 L71.0,205.5 L71.1,204.6 L71.2,206.8 L71.4,207.8 L71.5,208.5 L71.6,207.3 L71.7,205.8 L71.8,210.3 L72.0,206.6 L72.1,212.0 L72.2,210.7 L72.3,211.3 L72.4,209.4 L72.6,211.9 L72.7,211.2 L72.8,214.4 L72.9,213.9 L73.0,211.7 L73.2,215.2 L73.3,216.4 L73.4,215.2 L73.5,219.3 L73.6,218.6 L73.8,219.5 L73.9,214.9 L74.0,217.2 L74.1,218.7 L74.2,218.9 L74.4,217.4 L74.5,220.1 L74.6,216.5 L74.7,217.9 L74.8,222.0 L75.0,220.0 L75.1,219.9 L75.2,222.1 L75.3,223.0 L75.4,223.6 L75.6,224.1 L75.7,219.5 L75.8,221.2 L75.9,222.7 L76.0,226.9 L76.2,221.1 L76.3,225.0 L76.4,224.8 L76.5,227.0 L76.6,227.3 L76.8,229.8 L76.9,231.5 L77.0,232.4 L77.1,228.5 L77.2,232.4 L77.4,224.5 L77.5,228.6 L77.6,230.1 L77.7,229.2 L77.8,228.8 L78.0,227.5 L78.1,234.0 L78.2,230.6 L78.3,229.5 L78.4,233.6 L78.6,232.1 L78.7,235.4 L78.8,233.7 L78.9,232.3 L79.0,233.3 L79.2,235.6 L79.3,235.9 L79.4,227.8 L79.5,238.1 L79.6,234.1 L79.8,227.1 L79.9,229.8 L80.0,230.8 L80.1,236.9 L80.2,232.2 L80.4,230.6 L80.5,240.5 L80.6,238.0 L80.7,238.4 L80.8,237.7 L81.0,238.5 L81.1,236.8 L81.2,237.3 L81.3,240.5 L81.4,232.3 L81.6,233.1 L81.7,238.6 L81.8,238.7 L81.9,240.6 L82.0,239.8 L82.2,240.6 L82.3,238.4 L82.4,239.8 L82.5,233.1 L82.6,242.6 L82.8,237.2 L82.9,240.3 L83.0,242.6 L83.1,244.8 L83.2,237.5 L83.4,234.3 L83.5,237.3 L83.6,242.1 L83.7,240.5 L83.8,246.8 L84.0,234.3 L84.1,237.0 L84.2,244.9 L84.3,244.1 L84.4,241.7 L84.6,247.0 L84.7,236.3 L84.8,245.0 L84.9,231.5 L85.0,247.5 L85.2,246.9 L85.3,242.8 L85.4,242.5 L85.5,248.7 L85.6,242.8 L85.8,242.9 L85.9,235.0 L86.0,239.5 L86.1,241.2 L86.2,246.4 L86.4,238.5 L86.5,243.6 L86.6,238.4 L86.7,245.1 L86.8,245.9 L87.0,244.8 L87.1,247.1 L87.2,235.5 L87.3,250.1 L87.4,239.3 L87.6,238.0 L87.7,244.7 L87.8,240.8 L87.9,239.1 L88.0,250.8 L88.2,246.2 L88.3,245.1 L88.4,239.6 L88.5,244.2 L88.6,239.1 L88.8,246.9 L88.9,245.3 L89.0,246.5 L89.1,249.8 L89.2,240.7 L89.4,245.1 L89.5,247.1 L89.6,239.9 L89.7,247.1 L89.8,246.1 L90.0,245.1 L90.1,252.0 L90.2,251.4 L90.3,247.9 L90.4,247.8 L90.6,244.1 L90.7,247.6 L90.8,245.4 L90.9,241.4 L91.0,252.3 L91.2,251.9 L91.3,240.8 L91.4,235.8 L91.5,245.8 L91.6,244.1 L91.8,240.2 L91.9,249.1 L92.0,235.0 L92.1,250.9 L92.2,236.3 L92.4,246.5 L92.5,240.0 L92.6,246.9 L92.7,247.4 L92.8,249.4 L93.0,252.4 L93.1,251.4 L93.2,250.6 L93.3,253.4 L93.4,245.7 L93.6,246.2 L93.7,245.8 L93.8,246.1 L93.9,245.9 L94.0,251.9 L94.2,245.1 L94.3,244.8 L94.4,251.7 L94.5,252.6 L94.6,246.1 L94.8,247.6 L94.9,249.0 L95.0,251.9 L95.1,245.6 L95.2,247.2 L95.4,247.8 L95.5,245.7 L95.6,247.7 L95.7,247.1 L95.8,250.7 L96.0,249.4 L96.1,247.8 L96.2,253.8 L96.3,246.3 L96.4,249.2 L96.6,245.4 L96.7,248.2 L96.8,251.2 L96.9,247.3 L97.0,254.6 L97.2,247.0 L97.3,247.4 L97.4,251.5 L97.5,250.2 L97.6,250.6 L97.8,242.6 L97.9,247.9 L98.0,247.2 L98.1,250.4 L98.2,251.8 L98.4,253.3 L98.5,247.7 L98.6,248.8 L98.7,249.7 L98.8,244.5 L99.0,240.0 L99.1,250.7 L99.2,254.0 L99.3,249.9 L99.4,250.1 L99.6,247.9 L99.7,251.5 L99.8,248.0 L99.9,248.6 L100.0,251.4 L100.2,242.4 L100.3,251.8 L100.4,237.4 L100.5,249.7 L100.6,251.6 L100.8,252.1 L100.9,239.5 L101.0,243.7 L101.1,249.0 L101.2,249.4 L101.4,242.4 L101.5,250.8 L101.6,245.8 L101.7,251.2 L101.8,242.9 L102.0,250.7 L102.1,254.3 L102.2,253.0 L102.3,250.7 L102.4,246.4 L102.6,249.2 L102.7,245.9 L102.8,253.4 L102.9,248.5 L103.0,252.5 L103.2,250.7 L103.3,246.8 L103.4,250.9 L103.5,244.0 L103.6,251.8 L103.8,253.7 L103.9,251.0 L104.0,249.7 L104.1,243.8 L104.2,244.7 L104.4,248.7 L104.5,248.2 L104.6,248.9 L104.7,247.2 L104.8,248.8 L105.0,248.7 L105.1,249.3 L105.2,250.8 L105.3,248.8 L105.4,251.8 L105.6,254.5 L105.7,251.9 L105.8,248.3 L105.9,247.3 L106.0,249.7 L106.2,247.5 L106.3,247.0 L106.4,247.3 L106.5,252.7 L106.6,247.4 L106.8,251.8 L106.9,250.9 L107.0,237.5 L107.1,250.4 L107.2,251.2 L107.4,253.1 L107.5,247.3 L107.6,241.1 L107.7,238.5 L107.8,253.4 L108.0,250.9 L108.1,246.4 L108.2,241.8 L108.3,248.9 L108.4,253.0 L108.6,246.6 L108.7,251.5 L108.8,250.2 L108.9,242.6 L109.0,254.6 L109.2,255.1 L109.3,244.0 L109.4,252.4 L109.5,249.5 L109.6,254.5 L109.8,247.9 L109.9,252.0 L110.0,248.1 L110.1,244.4 L110.2,255.7 L110.4,246.0 L110.5,249.8 L110.6,243.7 L110.7,252.6 L110.8,253.3 L111.0,249.0 L111.1,252.9 L111.2,246.4 L111.3,251.3 L111.4,255.5 L111.6,249.3 L111.7,253.6 L111.8,250.2 L111.9,249.8 L112.0,248.6 L112.2,248.6 L112.3,253.0 L112.4,247.5 L112.5,243.6 L112.6,255.0 L112.8,248.1 L112.9,253.9 L113.0,248.3 L113.1,247.2 L113.2,248.9 L113.4,249.8 L113.5,254.6 L113.6,250.2 L113.7,249.2 L113.8,255.6 L114.0,255.0 L114.1,252.6 L114.2,243.5 L114.3,253.7 L114.4,245.9 L114.6,250.3 L114.7,248.6 L114.8,251.2 L114.9,240.7 L115.0,255.8 L115.2,253.5 L115.3,253.4 L115.4,248.7 L115.5,250.4 L115.6,249.4 L115.8,244.7 L115.9,248.5 L116.0,254.0 L116.1,250.9 L116.2,252.3 L116.4,249.5 L116.5,255.4 L116.6,247.9 L116.7,244.1 L116.8,255.7 L117.0,251.6 L117.1,249.4 L117.2,244.4 L117.3,242.6 L117.4,250.5 L117.6,252.5 L117.7,255.0 L117.8,250.6 L117.9,248.3 L118.0,253.5 L118.2,251.2 L118.3,247.2 L118.4,250.2 L118.5,249.4 L118.6,253.6 L118.8,255.7 L118.9,249.9 L119.0,253.3 L119.1,254.7 L119.2,247.3 L119.4,249.8 L119.5,252.1 L119.6,254.5 L119.7,248.0 L119.8,243.0 L120.0,254.0 L120.1,249.3 L120.2,254.6 L120.3,243.1 L120.4,244.1 L120.6,254.6 L120.7,252.9 L120.8,248.8 L120.9,251.2 L121.0,245.5 L121.2,243.8 L121.3,253.6 L121.4,250.1 L121.5,247.5 L121.6,252.3 L121.8,253.2 L121.9,240.0 L122.0,250.3 L122.1,253.2 L122.2,244.2 L122.4,253.6 L122.5,249.4 L122.6,253.4 L122.7,238.5 L122.8,237.8 L123.0,252.6 L123.1,250.0 L123.2,244.0 L123.3,253.2 L123.4,254.6 L123.6,255.5 L123.7,251.1 L123.8,247.1 L123.9,254.7 L124.0,252.0 L124.2,255.4 L124.3,251.9 L124.4,251.1 L124.5,246.8 L124.6,255.6 L124.8,243.1 L124.9,252.0 L125.0,252.2 L125.1,254.7 L125.2,244.8 L125.4,252.7 L125.5,256.1 L125.6,253.6 L125.7,248.3 L125.8,243.0 L126.0,248.1 L126.1,249.4 L126.2,251.9 L126.3,242.9 L126.4,250.9 L126.6,244.5 L126.7,241.5 L126.8,252.3 L126.9,252.0 L127.0,249.1 L127.2,250.1 L127.3,255.0 L127.4,245.7 L127.5,250.1 L127.6,251.8 L127.8,252.9 L127.9,245.8 L128.0,254.9 L128.1,248.4 L128.2,253.3 L128.4,242.6 L128.5,253.0 L128.6,249.0 L128.7,251.1 L128.8,252.2 L129.0,255.0 L129.1,253.8 L129.2,251.2 L129.3,237.4 L129.4,244.8 L129.6,246.3 L129.7,253.8 L129.8,238.1 L129.9,249.4 L130.0,246.3 L130.2,248.8 L130.3,253.4 L130.4,253.0 L130.5,253.2 L130.6,248.5 L130.8,251.2 L130.9,255.7 L131.0,249.8 L131.1,245.9 L131.2,252.4 L131.4,242.4 L131.5,248.6 L131.6,251.9 L131.7,254.0 L131.8,253.9 L132.0,252.7 L132.1,243.8 L132.2,249.7 L132.3,252.4 L132.4,245.9 L132.6,251.5 L132.7,243.1 L132.8,249.6 L132.9,250.2 L133.0,252.6 L133.2,249.6 L133.3,250.5 L133.4,248.0 L133.5,249.6 L133.6,249.7 L133.8,255.0 L133.9,249.0 L134.0,246.8 L134.1,246.7 L134.2,250.5 L134.4,244.8 L134.5,242.5 L134.6,251.6 L134.7,256.2 L134.8,244.8 L135.0,247.3 L135.1,256.0 L135.2,251.8 L135.3,247.8 L135.4,254.7 L135.6,248.2 L135.7,250.6 L135.8,250.6 L135.9,248.2 L136.0,248.9 L136.2,250.5 L136.3,249.5 L136.4,248.0 L136.5,250.8 L136.6,252.4 L136.8,249.5 L136.9,247.3 L137.0,251.6 L137.1,246.8 L137.2,250.2 L137.4,248.3 L137.5,246.7 L137.6,243.6 L137.7,245.6 L137.8,247.9 L138.0,246.4 L138.1,247.5 L138.2,248.3 L138.3,254.8 L138.4,253.2 L138.6,243.6 L138.7,254.2 L138.8,252.9 L138.9,252.4 L139.0,247.4 L139.2,248.7 L139.3,252.4 L139.4,251.7 L139.5,252.1 L139.6,248.0 L139.8,247.6 L139.9,250.3" fill="none" stroke="#0072BD" stroke-width="1.0" stroke-linejoin="round"/>
<path d="M21.2,257.5 L21.6,258.4 L21.9,258.5 L22.3,256.4 L22.6,256.8 L23.0,256.1 L23.3,257.0 L23.7,258.6 L24.0,255.5 L24.4,255.7 L24.7,256.2 L25.1,256.1 L25.4,255.5 L25.8,254.1 L26.1,254.6 L26.5,255.3 L26.8,256.7 L27.2,257.1 L27.5,256.6 L27.9,254.1 L28.2,256.7 L28.6,256.7 L28.9,256.5 L29.3,257.7 L29.6,253.9 L30.0,258.3 L30.3,255.5 L30.7,254.1 L31.0,257.1 L31.4,255.4 L31.7,256.4 L32.1,257.0 L32.4,257.2 L32.8,257.5 L33.1,254.2 L33.5,254.4 L33.8,253.8 L34.2,257.6 L34.5,254.7 L34.9,256.2 L35.2,254.7 L35.6,255.1 L35.9,256.1 L36.3,253.1 L36.6,257.3 L37.0,253.9 L37.3,253.4 L37.7,254.8 L38.0,254.3 L38.4,252.5 L38.7,255.7 L39.1,253.9 L39.4,253.3 L39.8,254.7 L40.1,253.1 L40.5,254.4 L40.8,253.7 L41.2,253.2 L41.5,252.7 L41.9,254.1 L42.2,252.6 L42.6,252.8 L42.9,253.9 L43.3,252.1 L43.6,253.3 L44.0,250.4 L44.3,252.0 L44.7,250.7 L45.0,251.3 L45.4,251.2 L45.7,251.9 L46.1,252.0 L46.4,248.4 L46.8,249.7 L47.1,249.4 L47.5,249.0 L47.8,247.4 L48.2,249.3 L48.5,249.1 L48.9,246.1 L49.2,247.0 L49.6,245.8 L49.9,244.5 L50.3,243.7 L50.6,243.2 L51.0,245.6 L51.3,243.7 L51.7,241.3 L52.0,240.6 L52.4,242.3 L52.7,241.3 L53.1,240.1 L53.4,239.6 L53.8,237.8 L54.1,235.3 L54.5,235.1 L54.8,234.1 L55.2,234.0 L55.5,231.8 L55.9,228.7 L56.2,228.2 L56.6,227.3 L56.9,225.7 L57.3,223.3 L57.6,221.7 L58.0,221.3 L58.3,218.3 L58.7,217.0 L59.0,214.7 L59.4,213.2 L59.7,210.8 L60.1,208.7 L60.4,206.5 L60.8,204.7 L61.1,202.3 L61.5,199.7 L61.8,198.0 L62.2,195.8 L62.5,193.5 L62.9,191.9 L63.2,190.2 L63.6,188.7 L63.9,187.2 L64.3,186.2 L64.6,185.3 L65.0,184.7 L65.3,184.4 L65.7,184.4 L66.0,184.6 L66.4,185.1 L66.7,185.7 L67.1,186.6 L67.4,187.6 L67.8,188.9 L68.1,190.1 L68.5,191.8 L68.8,193.4 L69.2,195.0 L69.5,196.7 L69.9,198.9 L70.2,200.8 L70.6,202.5 L70.9,204.0 L71.3,206.9 L71.6,207.7 L72.0,210.0 L72.3,212.4 L72.7,213.8 L73.0,216.2 L73.4,218.5 L73.7,218.7 L74.1,221.2 L74.4,222.4 L74.8,224.0 L75.1,224.5 L75.4,226.2 L75.8,229.5 L76.1,229.3 L76.5,230.9 L76.8,232.1 L77.2,232.1 L77.5,234.4 L77.9,235.3 L78.2,234.9 L78.6,237.3 L78.9,238.1 L79.3,238.8 L79.6,238.6 L80.0,239.9 L80.3,240.4 L80.7,242.3 L81.0,244.3 L81.4,242.6 L81.7,243.6 L82.1,243.4 L82.4,244.0 L82.8,247.0 L83.1,247.1 L83.5,248.1 L83.8,245.7 L84.2,249.0 L84.5,249.4 L84.9,247.2 L85.2,248.3 L85.6,250.7 L85.9,248.6 L86.3,248.8 L86.6,250.0 L87.0,252.1 L87.3,249.7 L87.7,251.1 L88.0,250.7 L88.4,249.2 L88.7,250.2 L89.1,250.2 L89.4,253.5 L89.8,252.9 L90.1,252.3 L90.5,254.7 L90.8,250.7 L91.2,253.9 L91.5,254.1 L91.9,254.1 L92.2,254.5 L92.6,252.0 L92.9,253.5 L93.3,253.8 L93.6,254.3 L94.0,256.0 L94.3,255.1 L94.7,252.7 L95.0,253.1 L95.4,253.0 L95.7,255.7 L96.1,256.0 L96.4,256.8 L96.8,254.7 L97.1,255.5 L97.5,255.2 L97.8,255.1 L98.2,254.8 L98.5,255.8 L98.9,254.0 L99.2,256.7 L99.6,253.6 L99.9,255.2 L100.3,257.5 L100.6,256.4 L101.0,255.5 L101.3,256.1 L101.7,255.4 L102.0,256.5 L102.4,256.8 L102.7,254.5 L103.1,256.8 L103.4,255.0 L103.8,254.6 L104.1,255.6 L104.5,256.2 L104.8,254.1 L105.2,256.3 L105.5,254.4 L105.9,258.1 L106.2,256.4 L106.6,255.5 L106.9,258.2 L107.3,254.6 L107.6,258.1 L108.0,255.8 L108.3,257.7 L108.7,254.4 L109.0,256.0 L109.4,254.9 L109.7,256.3 L110.1,255.5 L110.4,255.5 L110.8,257.3 L111.1,257.6 L111.5,254.8 L111.8,258.0 L112.2,254.5 L112.5,257.7 L112.9,258.2 L113.2,258.2 L113.6,255.1 L113.9,254.4 L114.3,256.8 L114.6,255.7 L115.0,257.5 L115.3,254.6 L115.7,255.6 L116.0,258.0 L116.4,258.5 L116.7,255.6 L117.1,258.5 L117.4,255.0 L117.8,257.4 L118.1,257.7 L118.5,256.1 L118.8,257.3 L119.2,256.2 L119.5,258.1 L119.9,254.7 L120.2,257.3 L120.6,255.0 L120.9,258.1 L121.3,255.2 L121.6,254.4 L122.0,257.0 L122.3,258.6 L122.7,257.1 L123.0,255.9 L123.4,257.8 L123.7,256.3 L124.1,258.4 L124.4,256.7 L124.8,255.5 L125.1,256.8 L125.5,255.7 L125.8,258.3 L126.2,255.1 L126.5,258.2 L126.9,254.6 L127.2,254.3 L127.6,254.6 L127.9,256.4 L128.3,257.5 L128.6,257.2 L129.0,255.4 L129.3,256.6 L129.7,254.6 L130.0,258.4 L130.4,256.6 L130.7,254.9 L131.1,256.1 L131.4,256.4 L131.8,258.4 L132.1,258.2 L132.5,257.6 L132.8,254.8 L133.2,255.0 L133.5,257.8 L133.9,254.6 L134.2,258.7 L134.6,256.1 L134.9,254.4 L135.3,257.2 L135.6,254.5 L136.0,255.8 L136.3,258.6 L136.7,257.3 L137.0,256.8 L137.4,257.7 L137.7,255.5 L138.1,258.0 L138.4,255.3 L138.8,257.5 L139.1,258.5 L139.5,256.3 L139.8,258.4" fill="none" stroke="#D95319" stroke-width="0.8" stroke-linejoin="round"/>
<path d="M21.2,260.7 L21.7,260.7 L22.2,260.7 L22.7,260.7 L23.2,260.6 L23.7,260.6 L24.2,260.6 L24.7,260.6 L25.2,260.6 L25.7,260.6 L26.2,260.5 L26.7,260.5 L27.2,260.5 L27.7,260.5 L28.2,260.4 L28.7,260.4 L29.2,260.4 L29.7,260.3 L30.2,260.3 L30.7,260.2 L31.2,260.2 L31.7,260.1 L32.2,260.1 L32.7,260.0 L33.2,259.9 L33.7,259.9 L34.2,259.8 L34.7,259.7 L35.2,259.6 L35.7,259.5 L36.2,259.4 L36.7,259.3 L37.2,259.2 L37.7,259.0 L38.2,258.9 L38.7,258.7 L39.2,258.6 L39.7,258.4 L40.2,258.2 L40.7,258.0 L41.2,257.8 L41.7,257.5 L42.2,257.3 L42.7,257.0 L43.2,256.7 L43.7,256.4 L44.2,256.1 L44.7,255.7 L45.2,255.3 L45.7,254.9 L46.2,254.4 L46.7,253.9 L47.2,253.4 L47.7,252.8 L48.2,252.2 L48.7,251.5 L49.2,250.8 L49.7,250.0 L50.2,249.2 L50.7,248.3 L51.2,247.3 L51.7,246.3 L52.2,245.1 L52.7,243.9 L53.2,242.6 L53.7,241.2 L54.2,239.7 L54.7,238.0 L55.2,236.2 L55.7,234.3 L56.2,232.3 L56.7,230.1 L57.2,227.7 L57.7,225.2 L58.2,222.5 L58.7,219.7 L59.2,216.8 L59.7,213.7 L60.2,210.5 L60.7,207.2 L61.2,203.9 L61.7,200.6 L62.2,197.4 L62.7,194.3 L63.2,191.5 L63.7,188.9 L64.2,186.8 L64.7,185.1 L65.2,184.0 L65.7,183.4 L66.2,183.5 L66.7,184.0 L67.2,184.9 L67.7,186.2 L68.2,187.9 L68.7,190.0 L69.2,192.2 L69.7,194.7 L70.2,197.4 L70.7,200.2 L71.2,203.0 L71.7,205.9 L72.2,208.7 L72.7,211.5 L73.2,214.3 L73.7,217.0 L74.2,219.5 L74.7,222.0 L75.2,224.3 L75.7,226.6 L76.2,228.7 L76.7,230.7 L77.2,232.6 L77.7,234.3 L78.2,236.0 L78.7,237.6 L79.2,239.1 L79.7,240.4 L80.2,241.7 L80.7,243.0 L81.2,244.1 L81.7,245.2 L82.2,246.2 L82.7,247.1 L83.2,248.0 L83.7,248.8 L84.2,249.5 L84.7,250.3 L85.2,250.9 L85.7,251.6 L86.2,252.2 L86.7,252.7 L87.2,253.2 L87.7,253.7 L88.2,254.2 L88.7,254.6 L89.2,255.0 L89.7,255.4 L90.2,255.7 L90.7,256.0 L91.2,256.3 L91.7,256.6 L92.2,256.9 L92.7,257.1 L93.2,257.4 L93.7,257.6 L94.2,257.8 L94.7,258.0 L95.2,258.2 L95.7,258.4 L96.2,258.5 L96.7,258.7 L97.2,258.8 L97.7,259.0 L98.2,259.1 L98.7,259.2 L99.2,259.3 L99.7,259.4 L100.2,259.5 L100.7,259.6 L101.2,259.7 L101.7,259.7 L102.2,259.8 L102.7,259.9 L103.2,260.0 L103.7,260.0 L104.2,260.1 L104.7,260.1 L105.2,260.2 L105.7,260.2 L106.2,260.3 L106.7,260.3 L107.2,260.3 L107.7,260.4 L108.2,260.4 L108.7,260.4 L109.2,260.5 L109.7,260.5 L110.2,260.5 L110.7,260.5 L111.2,260.5 L111.7,260.6 L112.2,260.6 L112.7,260.6 L113.2,260.6 L113.7,260.6 L114.2,260.6 L114.7,260.7 L115.2,260.7 L115.7,260.7 L116.2,260.7 L116.7,260.7 L117.2,260.7 L117.7,260.7 L118.2,260.7 L118.7,260.7 L119.2,260.7 L119.7,260.7 L120.2,260.7 L120.7,260.7 L121.2,260.8 L121.7,260.8 L122.2,260.8 L122.7,260.8 L123.2,260.8 L123.7,260.8 L124.2,260.8 L124.7,260.8 L125.2,260.8 L125.7,260.8 L126.2,260.8 L126.7,260.8 L127.2,260.8 L127.7,260.8 L128.2,260.8 L128.7,260.8 L129.2,260.8 L129.7,260.8 L130.2,260.8 L130.7,260.8 L131.2,260.8 L131.7,260.8 L132.2,260.8 L132.7,260.8 L133.2,260.8 L133.7,260.8 L134.2,260.8 L134.7,260.8 L135.2,260.8 L135.7,260.8 L136.2,260.8 L136.7,260.8 L137.2,260.8 L137.7,260.8 L138.2,260.8 L138.7,260.8 L139.2,260.8 L139.7,260.8" fill="none" stroke="#7E2F8E" stroke-width="1.2" stroke-linejoin="round"/>
<path d="M21.2,260.7 L21.7,260.7 L22.2,260.7 L22.7,260.6 L23.2,260.6 L23.7,260.6 L24.2,260.6 L24.7,260.6 L25.2,260.6 L25.7,260.5 L26.2,260.5 L26.7,260.5 L27.2,260.5 L27.7,260.4 L28.2,260.4 L28.7,260.4 L29.2,260.3 L29.7,260.3 L30.2,260.2 L30.7,260.2 L31.2,260.1 L31.7,260.1 L32.2,260.0 L32.7,259.9 L33.2,259.9 L33.7,259.8 L34.2,259.7 L34.7,259.6 L35.2,259.5 L35.7,259.4 L36.2,259.3 L36.7,259.2 L37.2,259.0 L37.7,258.9 L38.2,258.8 L38.7,258.6 L39.2,258.4 L39.7,258.2 L40.2,258.0 L40.7,257.8 L41.2,257.6 L41.7,257.3 L42.2,257.0 L42.7,256.7 L43.2,256.4 L43.7,256.1 L44.2,255.7 L44.7,255.3 L45.2,254.9 L45.7,254.4 L46.2,253.9 L46.7,253.4 L47.2,252.8 L47.7,252.2 L48.2,251.6 L48.7,250.8 L49.2,250.1 L49.7,249.2 L50.2,248.3 L50.7,247.4 L51.2,246.3 L51.7,245.2 L52.2,244.0 L52.7,242.6 L53.2,241.2 L53.7,239.7 L54.2,238.0 L54.7,236.2 L55.2,234.3 L55.7,232.2 L56.2,230.0 L56.7,227.6 L57.2,225.1 L57.7,222.4 L58.2,219.6 L58.7,216.6 L59.2,213.4 L59.7,210.2 L60.2,206.9 L60.7,203.6 L61.2,200.2 L61.7,197.0 L62.2,193.9 L62.7,191.1 L63.2,188.6 L63.7,186.5 L64.2,184.9 L64.7,183.8 L65.2,183.4 L65.7,183.6 L66.2,184.2 L66.7,185.3 L67.2,186.8 L67.7,188.7 L68.2,190.9 L68.7,193.4 L69.2,196.0 L69.7,198.9 L70.2,201.8 L70.7,204.7 L71.2,207.7 L71.7,210.6 L72.2,213.5 L72.7,216.2 L73.2,218.9 L73.7,221.5 L74.2,223.9 L74.7,226.2 L75.2,228.4 L75.7,230.5 L76.2,232.4 L76.7,234.3 L77.2,236.0 L77.7,237.6 L78.2,239.1 L78.7,240.5 L79.2,241.8 L79.7,243.0 L80.2,244.2 L80.7,245.3 L81.2,246.3 L81.7,247.2 L82.2,248.1 L82.7,248.9 L83.2,249.7 L83.7,250.4 L84.2,251.1 L84.7,251.7 L85.2,252.3 L85.7,252.8 L86.2,253.3 L86.7,253.8 L87.2,254.3 L87.7,254.7 L88.2,255.1 L88.7,255.5 L89.2,255.8 L89.7,256.1 L90.2,256.4 L90.7,256.7 L91.2,257.0 L91.7,257.2 L92.2,257.5 L92.7,257.7 L93.2,257.9 L93.7,258.1 L94.2,258.2 L94.7,258.4 L95.2,258.6 L95.7,258.7 L96.2,258.9 L96.7,259.0 L97.2,259.1 L97.7,259.2 L98.2,259.3 L98.7,259.4 L99.2,259.5 L99.7,259.6 L100.2,259.7 L100.7,259.8 L101.2,259.8 L101.7,259.9 L102.2,260.0 L102.7,260.0 L103.2,260.1 L103.7,260.1 L104.2,260.2 L104.7,260.2 L105.2,260.3 L105.7,260.3 L106.2,260.3 L106.7,260.4 L107.2,260.4 L107.7,260.4 L108.2,260.5 L108.7,260.5 L109.2,260.5 L109.7,260.5 L110.2,260.6 L110.7,260.6 L111.2,260.6 L111.7,260.6 L112.2,260.6 L112.7,260.6 L113.2,260.6 L113.7,260.7 L114.2,260.7 L114.7,260.7 L115.2,260.7 L115.7,260.7 L116.2,260.7 L116.7,260.7 L117.2,260.7 L117.7,260.7 L118.2,260.7 L118.7,260.7 L119.2,260.7 L119.7,260.7 L120.2,260.8 L120.7,260.8 L121.2,260.8 L121.7,260.8 L122.2,260.8 L122.7,260.8 L123.2,260.8 L123.7,260.8 L124.2,260.8 L124.7,260.8 L125.2,260.8 L125.7,260.8 L126.2,260.8 L126.7,260.8 L127.2,260.8 L127.7,260.8 L128.2,260.8 L128.7,260.8 L129.2,260.8 L129.7,260.8 L130.2,260.8 L130.7,260.8 L131.2,260.8 L131.7,260.8 L132.2,260.8 L132.7,260.8 L133.2,260.8 L133.7,260.8 L134.2,260.8 L134.7,260.8 L135.2,260.8 L135.7,260.8 L136.2,260.8 L136.7,260.8 L137.2,260.8 L137.7,260.8 L138.2,260.8 L138.7,260.8 L139.2,260.8 L139.7,260.8" fill="none" stroke="#77AC30" stroke-width="1.2" stroke-linejoin="round"/>
<path d="M21.2,260.7 L21.7,260.7 L22.2,260.7 L22.7,260.7 L23.2,260.6 L23.7,260.6 L24.2,260.6 L24.7,260.6 L25.2,260.6 L25.7,260.5 L26.2,260.5 L26.7,260.5 L27.2,260.5 L27.7,260.4 L28.2,260.4 L28.7,260.4 L29.2,260.3 L29.7,260.3 L30.2,260.3 L30.7,260.2 L31.2,260.2 L31.7,260.1 L32.2,260.0 L32.7,260.0 L33.2,259.9 L33.7,259.8 L34.2,259.7 L34.7,259.7 L35.2,259.6 L35.7,259.5 L36.2,259.3 L36.7,259.2 L37.2,259.1 L37.7,259.0 L38.2,258.8 L38.7,258.7 L39.2,258.5 L39.7,258.3 L40.2,258.1 L40.7,257.9 L41.2,257.7 L41.7,257.4 L42.2,257.2 L42.7,256.9 L43.2,256.6 L43.7,256.2 L44.2,255.9 L44.7,255.5 L45.2,255.1 L45.7,254.6 L46.2,254.2 L46.7,253.7 L47.2,253.1 L47.7,252.5 L48.2,251.9 L48.7,251.2 L49.2,250.5 L49.7,249.7 L50.2,248.8 L50.7,247.9 L51.2,246.9 L51.7,245.8 L52.2,244.6 L52.7,243.4 L53.2,242.0 L53.7,240.6 L54.2,239.0 L54.7,237.3 L55.2,235.5 L55.7,233.5 L56.2,231.4 L56.7,229.2 L57.2,226.8 L57.7,224.3 L58.2,221.6 L58.7,218.7 L59.2,215.8 L59.7,212.7 L60.2,209.5 L60.7,206.2 L61.2,202.9 L61.7,199.7 L62.2,196.5 L62.7,193.5 L63.2,190.8 L63.7,188.4 L64.2,186.4 L64.7,184.8 L65.2,183.8 L65.7,183.4 L66.2,183.5 L66.7,184.2 L67.2,185.2 L67.7,186.7 L68.2,188.5 L68.7,190.6 L69.2,193.0 L69.7,195.6 L70.2,198.4 L70.7,201.2 L71.2,204.2 L71.7,207.1 L72.2,209.9 L72.7,212.8 L73.2,215.5 L73.7,218.2 L74.2,220.7 L74.7,223.2 L75.2,225.5 L75.7,227.7 L76.2,229.8 L76.7,231.7 L77.2,233.6 L77.7,235.3 L78.2,237.0 L78.7,238.5 L79.2,239.9 L79.7,241.3 L80.2,242.5 L80.7,243.7 L81.2,244.8 L81.7,245.8 L82.2,246.8 L82.7,247.7 L83.2,248.5 L83.7,249.3 L84.2,250.0 L84.7,250.7 L85.2,251.4 L85.7,252.0 L86.2,252.5 L86.7,253.1 L87.2,253.6 L87.7,254.0 L88.2,254.5 L88.7,254.9 L89.2,255.3 L89.7,255.6 L90.2,255.9 L90.7,256.3 L91.2,256.6 L91.7,256.8 L92.2,257.1 L92.7,257.3 L93.2,257.6 L93.7,257.8 L94.2,258.0 L94.7,258.1 L95.2,258.3 L95.7,258.5 L96.2,258.6 L96.7,258.8 L97.2,258.9 L97.7,259.0 L98.2,259.2 L98.7,259.3 L99.2,259.4 L99.7,259.5 L100.2,259.6 L100.7,259.6 L101.2,259.7 L101.7,259.8 L102.2,259.9 L102.7,259.9 L103.2,260.0 L103.7,260.1 L104.2,260.1 L104.7,260.2 L105.2,260.2 L105.7,260.2 L106.2,260.3 L106.7,260.3 L107.2,260.4 L107.7,260.4 L108.2,260.4 L108.7,260.4 L109.2,260.5 L109.7,260.5 L110.2,260.5 L110.7,260.5 L111.2,260.6 L111.7,260.6 L112.2,260.6 L112.7,260.6 L113.2,260.6 L113.7,260.6 L114.2,260.7 L114.7,260.7 L115.2,260.7 L115.7,260.7 L116.2,260.7 L116.7,260.7 L117.2,260.7 L117.7,260.7 L118.2,260.7 L118.7,260.7 L119.2,260.7 L119.7,260.7 L120.2,260.7 L120.7,260.8 L121.2,260.8 L121.7,260.8 L122.2,260.8 L122.7,260.8 L123.2,260.8 L123.7,260.8 L124.2,260.8 L124.7,260.8 L125.2,260.8 L125.7,260.8 L126.2,260.8 L126.7,260.8 L127.2,260.8 L127.7,260.8 L128.2,260.8 L128.7,260.8 L129.2,260.8 L129.7,260.8 L130.2,260.8 L130.7,260.8 L131.2,260.8 L131.7,260.8 L132.2,260.8 L132.7,260.8 L133.2,260.8 L133.7,260.8 L134.2,260.8 L134.7,260.8 L135.2,260.8 L135.7,260.8 L136.2,260.8 L136.7,260.8 L137.2,260.8 L137.7,260.8 L138.2,260.8 L138.7,260.8 L139.2,260.8 L139.7,260.8" fill="none" stroke="#EDB120" stroke-width="1.2" stroke-linejoin="round"/>
<path d="M21.2,260.7 L21.7,260.7 L22.2,260.7 L22.7,260.7 L23.2,260.6 L23.7,260.6 L24.2,260.6 L24.7,260.6 L25.2,260.6 L25.7,260.6 L26.2,260.5 L26.7,260.5 L27.2,260.5 L27.7,260.5 L28.2,260.4 L28.7,260.4 L29.2,260.4 L29.7,260.3 L30.2,260.3 L30.7,260.2 L31.2,260.2 L31.7,260.1 L32.2,260.1 L32.7,260.0 L33.2,260.0 L33.7,259.9 L34.2,259.8 L34.7,259.7 L35.2,259.6 L35.7,259.5 L36.2,259.4 L36.7,259.3 L37.2,259.2 L37.7,259.1 L38.2,258.9 L38.7,258.8 L39.2,258.6 L39.7,258.5 L40.2,258.3 L40.7,258.1 L41.2,257.9 L41.7,257.6 L42.2,257.4 L42.7,257.1 L43.2,256.8 L43.7,256.5 L44.2,256.2 L44.7,255.8 L45.2,255.4 L45.7,255.0 L46.2,254.6 L46.7,254.1 L47.2,253.6 L47.7,253.0 L48.2,252.4 L48.7,251.8 L49.2,251.1 L49.7,250.3 L50.2,249.5 L50.7,248.7 L51.2,247.7 L51.7,246.7 L52.2,245.6 L52.7,244.4 L53.2,243.1 L53.7,241.8 L54.2,240.3 L54.7,238.7 L55.2,237.0 L55.7,235.1 L56.2,233.1 L56.7,231.0 L57.2,228.7 L57.7,226.2 L58.2,223.6 L58.7,220.9 L59.2,218.0 L59.7,214.9 L60.2,211.8 L60.7,208.5 L61.2,205.2 L61.7,201.9 L62.2,198.7 L62.7,195.5 L63.2,192.6 L63.7,189.9 L64.2,187.6 L64.7,185.7 L65.2,184.4 L65.7,183.6 L66.2,183.4 L66.7,183.7 L67.2,184.5 L67.7,185.6 L68.2,187.1 L68.7,189.0 L69.2,191.2 L69.7,193.6 L70.2,196.1 L70.7,198.8 L71.2,201.6 L71.7,204.5 L72.2,207.3 L72.7,210.1 L73.2,212.9 L73.7,215.6 L74.2,218.2 L74.7,220.7 L75.2,223.1 L75.7,225.3 L76.2,227.5 L76.7,229.6 L77.2,231.5 L77.7,233.3 L78.2,235.1 L78.7,236.7 L79.2,238.2 L79.7,239.6 L80.2,241.0 L80.7,242.2 L81.2,243.4 L81.7,244.5 L82.2,245.5 L82.7,246.5 L83.2,247.4 L83.7,248.3 L84.2,249.1 L84.7,249.8 L85.2,250.5 L85.7,251.2 L86.2,251.8 L86.7,252.3 L87.2,252.9 L87.7,253.4 L88.2,253.9 L88.7,254.3 L89.2,254.7 L89.7,255.1 L90.2,255.5 L90.7,255.8 L91.2,256.1 L91.7,256.4 L92.2,256.7 L92.7,257.0 L93.2,257.2 L93.7,257.5 L94.2,257.7 L94.7,257.9 L95.2,258.1 L95.7,258.3 L96.2,258.4 L96.7,258.6 L97.2,258.7 L97.7,258.9 L98.2,259.0 L98.7,259.1 L99.2,259.2 L99.7,259.3 L100.2,259.4 L100.7,259.5 L101.2,259.6 L101.7,259.7 L102.2,259.8 L102.7,259.8 L103.2,259.9 L103.7,260.0 L104.2,260.0 L104.7,260.1 L105.2,260.1 L105.7,260.2 L106.2,260.2 L106.7,260.3 L107.2,260.3 L107.7,260.3 L108.2,260.4 L108.7,260.4 L109.2,260.4 L109.7,260.5 L110.2,260.5 L110.7,260.5 L111.2,260.5 L111.7,260.6 L112.2,260.6 L112.7,260.6 L113.2,260.6 L113.7,260.6 L114.2,260.6 L114.7,260.6 L115.2,260.7 L115.7,260.7 L116.2,260.7 L116.7,260.7 L117.2,260.7 L117.7,260.7 L118.2,260.7 L118.7,260.7 L119.2,260.7 L119.7,260.7 L120.2,260.7 L120.7,260.7 L121.2,260.7 L121.7,260.8 L122.2,260.8 L122.7,260.8 L123.2,260.8 L123.7,260.8 L124.2,260.8 L124.7,260.8 L125.2,260.8 L125.7,260.8 L126.2,260.8 L126.7,260.8 L127.2,260.8 L127.7,260.8 L128.2,260.8 L128.7,260.8 L129.2,260.8 L129.7,260.8 L130.2,260.8 L130.7,260.8 L131.2,260.8 L131.7,260.8 L132.2,260.8 L132.7,260.8 L133.2,260.8 L133.7,260.8 L134.2,260.8 L134.7,260.8 L135.2,260.8 L135.7,260.8 L136.2,260.8 L136.7,260.8 L137.2,260.8 L137.7,260.8 L138.2,260.8 L138.7,260.8 L139.2,260.8 L139.7,260.8" fill="none" stroke="#D95319" stroke-width="1.2" stroke-linejoin="round"/>
<path d="M21.2,260.7 L21.7,260.7 L22.2,260.6 L22.7,260.6 L23.2,260.6 L23.7,260.6 L24.2,260.6 L24.7,260.6 L25.2,260.5 L25.7,260.5 L26.2,260.5 L26.7,260.5 L27.2,260.4 L27.7,260.4 L28.2,260.4 L28.7,260.3 L29.2,260.3 L29.7,260.2 L30.2,260.2 L30.7,260.1 L31.2,260.1 L31.7,260.0 L32.2,260.0 L32.7,259.9 L33.2,259.8 L33.7,259.7 L34.2,259.6 L34.7,259.5 L35.2,259.4 L35.7,259.3 L36.2,259.2 L36.7,259.1 L37.2,258.9 L37.7,258.8 L38.2,258.6 L38.7,258.5 L39.2,258.3 L39.7,258.1 L40.2,257.9 L40.7,257.6 L41.2,257.4 L41.7,257.1 L42.2,256.8 L42.7,256.5 L43.2,256.2 L43.7,255.8 L44.2,255.4 L44.7,255.0 L45.2,254.6 L45.7,254.1 L46.2,253.6 L46.7,253.0 L47.2,252.4 L47.7,251.8 L48.2,251.1 L48.7,250.3 L49.2,249.5 L49.7,248.7 L50.2,247.7 L50.7,246.7 L51.2,245.6 L51.7,244.4 L52.2,243.1 L52.7,241.8 L53.2,240.3 L53.7,238.7 L54.2,237.0 L54.7,235.1 L55.2,233.1 L55.7,231.0 L56.2,228.7 L56.7,226.2 L57.2,223.6 L57.7,220.9 L58.2,218.0 L58.7,214.9 L59.2,211.8 L59.7,208.5 L60.2,205.2 L60.7,201.9 L61.2,198.7 L61.7,195.5 L62.2,192.6 L62.7,189.9 L63.2,187.6 L63.7,185.7 L64.2,184.4 L64.7,183.6 L65.2,183.4 L65.7,183.7 L66.2,184.6 L66.7,185.8 L67.2,187.5 L67.7,189.5 L68.2,191.8 L68.7,194.4 L69.2,197.2 L69.7,200.0 L70.2,203.0 L70.7,205.9 L71.2,208.9 L71.7,211.8 L72.2,214.6 L72.7,217.3 L73.2,219.9 L73.7,222.5 L74.2,224.9 L74.7,227.1 L75.2,229.3 L75.7,231.3 L76.2,233.2 L76.7,235.0 L77.2,236.6 L77.7,238.2 L78.2,239.7 L78.7,241.0 L79.2,242.3 L79.7,243.5 L80.2,244.6 L80.7,245.7 L81.2,246.7 L81.7,247.6 L82.2,248.4 L82.7,249.2 L83.2,250.0 L83.7,250.7 L84.2,251.3 L84.7,251.9 L85.2,252.5 L85.7,253.0 L86.2,253.5 L86.7,254.0 L87.2,254.4 L87.7,254.8 L88.2,255.2 L88.7,255.6 L89.2,255.9 L89.7,256.2 L90.2,256.5 L90.7,256.8 L91.2,257.1 L91.7,257.3 L92.2,257.5 L92.7,257.8 L93.2,258.0 L93.7,258.1 L94.2,258.3 L94.7,258.5 L95.2,258.6 L95.7,258.8 L96.2,258.9 L96.7,259.0 L97.2,259.2 L97.7,259.3 L98.2,259.4 L98.7,259.5 L99.2,259.6 L99.7,259.6 L100.2,259.7 L100.7,259.8 L101.2,259.9 L101.7,259.9 L102.2,260.0 L102.7,260.0 L103.2,260.1 L103.7,260.2 L104.2,260.2 L104.7,260.2 L105.2,260.3 L105.7,260.3 L106.2,260.4 L106.7,260.4 L107.2,260.4 L107.7,260.4 L108.2,260.5 L108.7,260.5 L109.2,260.5 L109.7,260.5 L110.2,260.6 L110.7,260.6 L111.2,260.6 L111.7,260.6 L112.2,260.6 L112.7,260.6 L113.2,260.7 L113.7,260.7 L114.2,260.7 L114.7,260.7 L115.2,260.7 L115.7,260.7 L116.2,260.7 L116.7,260.7 L117.2,260.7 L117.7,260.7 L118.2,260.7 L118.7,260.7 L119.2,260.7 L119.7,260.8 L120.2,260.8 L120.7,260.8 L121.2,260.8 L121.7,260.8 L122.2,260.8 L122.7,260.8 L123.2,260.8 L123.7,260.8 L124.2,260.8 L124.7,260.8 L125.2,260.8 L125.7,260.8 L126.2,260.8 L126.7,260.8 L127.2,260.8 L127.7,260.8 L128.2,260.8 L128.7,260.8 L129.2,260.8 L129.7,260.8 L130.2,260.8 L130.7,260.8 L131.2,260.8 L131.7,260.8 L132.2,260.8 L132.7,260.8 L133.2,260.8 L133.7,260.8 L134.2,260.8 L134.7,260.8 L135.2,260.8 L135.7,260.8 L136.2,260.8 L136.7,260.8 L137.2,260.8 L137.7,260.8 L138.2,260.8 L138.7,260.8 L139.2,260.8 L139.7,260.8" fill="none" stroke="#4DBEEE" stroke-width="1.2" stroke-linejoin="round"/>
</svg>
<rect x="21.20" y="175.50" width="118.30" height="85.80" fill="none" stroke="#6b6b6b" stroke-width="1"/>
<line x1="29.25" y1="261.30" x2="29.25" y2="259.80" stroke="#6b6b6b" stroke-width="0.8"/>
<text x="29.25" y="272.40" font-size="8.4" text-anchor="middle" fill="#1f1f1f">1000</text>
<line x1="63.55" y1="261.30" x2="63.55" y2="259.80" stroke="#6b6b6b" stroke-width="0.8"/>
<text x="63.55" y="272.40" font-size="8.4" text-anchor="middle" fill="#1f1f1f">1100</text>
<line x1="97.85" y1="261.30" x2="97.85" y2="259.80" stroke="#6b6b6b" stroke-width="0.8"/>
<text x="97.85" y="272.40" font-size="8.4" text-anchor="middle" fill="#1f1f1f">1200</text>
<line x1="132.15" y1="261.30" x2="132.15" y2="259.80" stroke="#6b6b6b" stroke-width="0.8"/>
<text x="132.15" y="272.40" font-size="8.4" text-anchor="middle" fill="#1f1f1f">1300</text>
<line x1="26.46" y1="175.50" x2="26.46" y2="177.00" stroke="#6b6b6b" stroke-width="0.8"/>
<text x="26.46" y="171.70" font-size="8.4" text-anchor="middle" fill="#1f1f1f">1.25</text>
<line x1="56.05" y1="175.50" x2="56.05" y2="177.00" stroke="#6b6b6b" stroke-width="0.8"/>
<text x="56.05" y="171.70" font-size="8.4" text-anchor="middle" fill="#1f1f1f">1.15</text>
<line x1="91.26" y1="175.50" x2="91.26" y2="177.00" stroke="#6b6b6b" stroke-width="0.8"/>
<text x="91.26" y="171.70" font-size="8.4" text-anchor="middle" fill="#1f1f1f">1.05</text>
<line x1="111.52" y1="175.50" x2="111.52" y2="177.00" stroke="#6b6b6b" stroke-width="0.8"/>
<text x="111.52" y="171.70" font-size="8.4" text-anchor="middle" fill="#1f1f1f">1.00</text>
<line x1="133.90" y1="175.50" x2="133.90" y2="177.00" stroke="#6b6b6b" stroke-width="0.8"/>
<text x="133.90" y="171.70" font-size="8.4" text-anchor="middle" fill="#1f1f1f">0.95</text>
<text x="56.70" y="160.80" font-size="9.5" text-anchor="start" fill="#1f1f1f">Energy(eV)</text>
<text x="43.40" y="284.20" font-size="9.6" text-anchor="start" fill="#1f1f1f">Wavelength (nm)</text>
<text x="16.60" y="218.60" font-size="9.5" text-anchor="middle" fill="#1f1f1f" transform="rotate(-90 16.6 218.6)">Intensity (a.u.)</text>
<text x="114.20" y="190.80" font-size="9.0" text-anchor="start" fill="#222">2.83°</text>
<svg x="168.1" y="174.6" width="117.00000000000003" height="86.50000000000003" viewBox="168.1 174.6 117.00000000000003 86.50000000000003" overflow="hidden">
<path d="M167.6,257.6 L167.9,256.7 L168.2,257.4 L168.5,257.9 L168.8,259.4 L169.1,257.7 L169.4,259.1 L169.7,257.2 L170.0,259.0 L170.3,257.4 L170.6,258.2 L170.9,258.1 L171.2,257.1 L171.5,258.9 L171.8,258.8 L172.1,256.1 L172.4,258.3 L172.7,256.5 L173.0,256.4 L173.3,257.7 L173.6,258.9 L173.9,259.1 L174.2,256.3 L174.5,259.0 L174.8,257.7 L175.1,257.5 L175.4,259.0 L175.7,257.7 L176.0,258.8 L176.3,257.5 L176.6,257.6 L176.9,258.1 L177.2,258.6 L177.5,257.9 L177.8,258.6 L178.1,258.9 L178.4,258.5 L178.7,256.3 L179.0,257.5 L179.3,256.2 L179.6,259.2 L179.9,256.0 L180.2,257.5 L180.5,256.5 L180.8,257.2 L181.1,256.8 L181.4,258.4 L181.7,256.6 L182.0,258.7 L182.3,258.3 L182.6,259.1 L182.9,257.8 L183.2,257.3 L183.5,258.1 L183.8,256.0 L184.1,258.8 L184.4,257.1 L184.7,258.3 L185.0,257.0 L185.3,256.3 L185.6,256.6 L185.9,258.8 L186.2,258.2 L186.5,256.9 L186.8,255.6 L187.1,258.8 L187.4,256.8 L187.7,256.6 L188.0,256.1 L188.3,257.7 L188.6,256.1 L188.9,257.3 L189.2,255.7 L189.5,258.8 L189.8,255.6 L190.1,257.4 L190.4,257.4 L190.7,258.5 L191.0,257.9 L191.3,256.2 L191.6,256.4 L191.9,258.2 L192.2,257.5 L192.5,258.2 L192.8,258.0 L193.1,257.9 L193.4,257.5 L193.7,255.3 L194.0,255.2 L194.3,255.9 L194.6,256.9 L194.9,256.9 L195.2,255.9 L195.5,255.4 L195.8,255.9 L196.1,256.3 L196.4,257.8 L196.7,256.3 L197.0,255.5 L197.3,255.7 L197.6,258.1 L197.9,255.9 L198.2,257.2 L198.5,257.8 L198.8,255.0 L199.1,256.0 L199.4,255.7 L199.7,257.8 L200.0,255.4 L200.3,255.0 L200.6,255.1 L200.9,255.6 L201.2,255.3 L201.5,255.4 L201.8,256.1 L202.1,256.6 L202.4,255.2 L202.7,255.4 L203.0,255.0 L203.3,257.0 L203.6,254.7 L203.9,256.1 L204.2,254.7 L204.5,257.5 L204.8,254.6 L205.1,255.2 L205.4,257.0 L205.7,254.9 L206.0,257.0 L206.3,257.1 L206.6,256.2 L206.9,256.9 L207.2,256.0 L207.5,254.6 L207.8,255.3 L208.1,255.2 L208.4,256.3 L208.7,254.9 L209.0,254.8 L209.3,255.2 L209.6,254.3 L209.9,254.6 L210.2,256.0 L210.5,257.1 L210.8,255.1 L211.1,254.5 L211.4,256.1 L211.7,255.2 L212.0,254.3 L212.3,254.4 L212.6,257.0 L212.9,255.3 L213.2,256.9 L213.5,256.5 L213.8,254.0 L214.1,255.3 L214.4,254.5 L214.7,254.9 L215.0,255.2 L215.3,255.5 L215.6,254.9 L215.9,253.1 L216.2,253.7 L216.5,254.6 L216.8,255.0 L217.1,254.2 L217.4,252.5 L217.7,253.1 L218.0,252.1 L218.3,251.3 L218.6,253.2 L218.9,251.1 L219.2,252.7 L219.5,249.8 L219.8,251.4 L220.1,250.6 L220.4,248.0 L220.7,249.3 L221.0,249.1 L221.3,246.5 L221.6,246.7 L221.9,245.1 L222.2,245.9 L222.5,244.8 L222.8,242.7 L223.1,243.1 L223.4,240.8 L223.7,242.1 L224.0,239.4 L224.3,240.1 L224.6,238.1 L224.9,238.3 L225.2,236.6 L225.5,233.5 L225.8,233.5 L226.1,231.4 L226.4,231.3 L226.7,229.7 L227.0,228.8 L227.3,226.4 L227.6,224.3 L227.9,223.5 L228.2,222.2 L228.5,219.7 L228.8,218.2 L229.1,217.0 L229.4,216.3 L229.7,213.9 L230.0,212.5 L230.3,210.2 L230.6,209.4 L230.9,207.4 L231.2,205.9 L231.5,204.6 L231.8,202.9 L232.1,201.2 L232.4,199.5 L232.7,198.4 L233.0,197.1 L233.3,195.3 L233.6,194.5 L233.9,192.9 L234.2,191.8 L234.5,190.7 L234.8,189.7 L235.1,188.6 L235.4,187.7 L235.7,186.9 L236.0,186.2 L236.3,185.6 L236.6,185.1 L236.9,184.6 L237.2,184.2 L237.5,184.0 L237.8,183.8 L238.1,183.8 L238.4,183.8 L238.7,184.0 L239.0,184.2 L239.3,184.4 L239.6,184.8 L239.9,185.2 L240.2,185.7 L240.5,186.3 L240.8,186.9 L241.1,187.7 L241.4,188.3 L241.7,189.2 L242.0,190.1 L242.3,191.1 L242.6,192.2 L242.9,193.0 L243.2,194.2 L243.5,195.4 L243.8,196.8 L244.1,198.1 L244.4,199.1 L244.7,200.2 L245.0,201.6 L245.3,203.3 L245.6,204.9 L245.9,205.9 L246.2,206.9 L246.5,209.2 L246.8,209.9 L247.1,212.1 L247.4,213.3 L247.7,215.1 L248.0,216.2 L248.3,217.5 L248.6,218.0 L248.9,219.4 L249.2,222.1 L249.5,223.3 L249.8,223.4 L250.1,226.2 L250.4,227.2 L250.7,228.3 L251.0,230.3 L251.3,231.2 L251.6,232.1 L251.9,233.3 L252.2,233.1 L252.5,235.8 L252.8,237.1 L253.1,236.4 L253.4,238.5 L253.7,238.5 L254.0,240.0 L254.3,240.5 L254.6,242.6 L254.9,243.9 L255.2,243.0 L255.5,244.6 L255.8,245.1 L256.1,245.5 L256.4,245.9 L256.7,248.0 L257.0,248.4 L257.3,247.3 L257.6,249.0 L257.9,250.3 L258.2,249.8 L258.5,251.4 L258.8,250.2 L259.1,253.0 L259.4,250.9 L259.7,252.1 L260.0,253.2 L260.3,251.6 L260.6,254.1 L260.9,254.5 L261.2,255.3 L261.5,254.0 L261.8,253.6 L262.1,254.1 L262.4,255.2 L262.7,254.0 L263.0,256.6 L263.3,256.1 L263.6,255.1 L263.9,254.2 L264.2,255.4 L264.5,255.4 L264.8,255.2 L265.1,256.6 L265.4,254.8 L265.7,255.6 L266.0,257.1 L266.3,257.0 L266.6,255.6 L266.9,257.3 L267.2,257.9 L267.5,255.6 L267.8,256.8 L268.1,256.9 L268.4,256.5 L268.7,255.7 L269.0,258.4 L269.3,257.7 L269.6,258.7 L269.9,257.5 L270.2,257.2 L270.5,256.1 L270.8,256.7 L271.1,257.1 L271.4,257.7 L271.7,257.1 L272.0,258.2 L272.3,256.2 L272.6,256.4 L272.9,256.2 L273.2,258.7 L273.5,256.9 L273.8,256.6 L274.1,257.5 L274.4,256.1 L274.7,256.1 L275.0,256.7 L275.3,256.4 L275.6,257.0 L275.9,256.2 L276.2,258.8 L276.5,256.8 L276.8,256.8 L277.1,257.2 L277.4,258.3 L277.7,259.1 L278.0,257.2 L278.3,256.4 L278.6,258.4 L278.9,258.6 L279.2,258.5 L279.5,259.0 L279.8,257.0 L280.1,255.9 L280.4,256.5 L280.7,258.1 L281.0,256.9 L281.3,259.1 L281.6,256.4 L281.9,258.2 L282.2,259.3 L282.5,257.2 L282.8,258.9 L283.1,258.4 L283.4,259.2 L283.7,257.8 L284.0,257.4 L284.3,256.6 L284.6,259.2 L284.9,256.5 L285.2,259.0 L285.5,258.6" fill="none" stroke="#D95319" stroke-width="1.2" stroke-linejoin="round"/>
<path d="M167.6,257.2 L167.9,258.2 L168.2,258.2 L168.5,257.4 L168.8,258.6 L169.1,256.6 L169.4,258.6 L169.7,256.4 L170.0,256.5 L170.3,257.5 L170.6,259.2 L170.9,256.6 L171.2,259.2 L171.5,257.5 L171.8,257.8 L172.1,259.0 L172.4,257.1 L172.7,256.7 L173.0,257.2 L173.3,257.8 L173.6,257.4 L173.9,257.1 L174.2,258.4 L174.5,256.1 L174.8,255.7 L175.1,256.3 L175.4,255.8 L175.7,257.9 L176.0,255.6 L176.3,258.8 L176.6,257.4 L176.9,258.5 L177.2,257.4 L177.5,256.6 L177.8,256.5 L178.1,257.4 L178.4,257.7 L178.7,258.2 L179.0,257.5 L179.3,257.9 L179.6,258.1 L179.9,256.2 L180.2,257.0 L180.5,257.2 L180.8,258.0 L181.1,256.2 L181.4,258.0 L181.7,257.7 L182.0,256.7 L182.3,256.1 L182.6,255.2 L182.9,255.9 L183.2,255.2 L183.5,255.3 L183.8,255.9 L184.1,255.9 L184.4,258.1 L184.7,257.6 L185.0,258.2 L185.3,255.3 L185.6,255.7 L185.9,256.0 L186.2,257.2 L186.5,256.9 L186.8,257.5 L187.1,255.8 L187.4,254.6 L187.7,256.9 L188.0,257.7 L188.3,257.3 L188.6,256.6 L188.9,254.7 L189.2,255.0 L189.5,256.1 L189.8,257.3 L190.1,257.3 L190.4,257.0 L190.7,254.9 L191.0,255.9 L191.3,254.1 L191.6,254.3 L191.9,254.7 L192.2,255.7 L192.5,254.5 L192.8,256.8 L193.1,256.8 L193.4,255.2 L193.7,255.4 L194.0,256.3 L194.3,256.2 L194.6,256.9 L194.9,253.8 L195.2,254.5 L195.5,253.6 L195.8,253.5 L196.1,255.3 L196.4,254.2 L196.7,255.3 L197.0,253.8 L197.3,253.7 L197.6,256.0 L197.9,256.4 L198.2,255.6 L198.5,254.4 L198.8,255.0 L199.1,256.2 L199.4,253.4 L199.7,253.5 L200.0,254.5 L200.3,255.8 L200.6,253.0 L200.9,254.1 L201.2,255.6 L201.5,254.7 L201.8,253.6 L202.1,252.7 L202.4,254.0 L202.7,253.4 L203.0,254.8 L203.3,254.6 L203.6,252.3 L203.9,254.0 L204.2,254.9 L204.5,253.2 L204.8,254.7 L205.1,254.4 L205.4,253.5 L205.7,253.0 L206.0,252.8 L206.3,252.5 L206.6,253.3 L206.9,254.5 L207.2,252.3 L207.5,254.4 L207.8,253.0 L208.1,253.2 L208.4,252.2 L208.7,252.0 L209.0,253.5 L209.3,252.1 L209.6,252.0 L209.9,252.6 L210.2,253.6 L210.5,251.1 L210.8,252.1 L211.1,253.7 L211.4,253.1 L211.7,250.6 L212.0,253.0 L212.3,252.4 L212.6,251.1 L212.9,250.9 L213.2,251.4 L213.5,251.0 L213.8,253.1 L214.1,252.8 L214.4,249.9 L214.7,250.3 L215.0,252.6 L215.3,252.4 L215.6,251.6 L215.9,249.2 L216.2,251.2 L216.5,249.6 L216.8,248.5 L217.1,249.2 L217.4,248.0 L217.7,249.7 L218.0,249.7 L218.3,249.7 L218.6,247.1 L218.9,248.6 L219.2,245.5 L219.5,245.8 L219.8,246.8 L220.1,244.4 L220.4,245.7 L220.7,244.0 L221.0,244.5 L221.3,241.8 L221.6,240.8 L221.9,239.9 L222.2,241.5 L222.5,238.4 L222.8,238.2 L223.1,236.5 L223.4,236.3 L223.7,234.9 L224.0,233.9 L224.3,232.3 L224.6,232.7 L224.9,231.5 L225.2,229.2 L225.5,228.4 L225.8,226.8 L226.1,226.2 L226.4,223.3 L226.7,223.2 L227.0,220.3 L227.3,218.9 L227.6,218.0 L227.9,217.0 L228.2,214.6 L228.5,213.7 L228.8,211.8 L229.1,210.7 L229.4,208.1 L229.7,207.1 L230.0,205.7 L230.3,204.4 L230.6,202.3 L230.9,200.8 L231.2,199.4 L231.5,198.5 L231.8,196.9 L232.1,195.7 L232.4,194.1 L232.7,193.2 L233.0,191.8 L233.3,190.6 L233.6,189.7 L233.9,188.9 L234.2,188.0 L234.5,187.2 L234.8,186.3 L235.1,185.7 L235.4,185.2 L235.7,184.7 L236.0,184.3 L236.3,184.1 L236.6,183.9 L236.9,183.8 L237.2,183.8 L237.5,183.9 L237.8,184.0 L238.1,184.3 L238.4,184.6 L238.7,185.0 L239.0,185.4 L239.3,185.9 L239.6,186.5 L239.9,187.1 L240.2,187.9 L240.5,188.5 L240.8,189.5 L241.1,190.3 L241.4,191.4 L241.7,192.4 L242.0,193.4 L242.3,194.5 L242.6,195.8 L242.9,196.7 L243.2,197.6 L243.5,199.0 L243.8,200.1 L244.1,201.5 L244.4,202.7 L244.7,203.9 L245.0,205.4 L245.3,207.3 L245.6,208.7 L245.9,209.9 L246.2,211.8 L246.5,213.0 L246.8,213.4 L247.1,214.7 L247.4,217.0 L247.7,217.7 L248.0,219.0 L248.3,220.2 L248.6,221.6 L248.9,223.4 L249.2,225.6 L249.5,225.4 L249.8,227.7 L250.1,228.3 L250.4,230.1 L250.7,230.9 L251.0,231.1 L251.3,234.1 L251.6,234.3 L251.9,235.1 L252.2,236.4 L252.5,236.4 L252.8,238.7 L253.1,238.3 L253.4,239.8 L253.7,240.0 L254.0,243.2 L254.3,243.7 L254.6,244.3 L254.9,243.3 L255.2,246.6 L255.5,246.6 L255.8,245.9 L256.1,245.7 L256.4,248.8 L256.7,248.6 L257.0,248.4 L257.3,248.9 L257.6,249.2 L257.9,249.6 L258.2,251.7 L258.5,252.1 L258.8,253.2 L259.1,251.5 L259.4,253.4 L259.7,253.6 L260.0,251.6 L260.3,253.0 L260.6,253.4 L260.9,253.5 L261.2,253.9 L261.5,253.8 L261.8,255.4 L262.1,256.4 L262.4,256.6 L262.7,256.9 L263.0,255.9 L263.3,256.8 L263.6,257.1 L263.9,255.9 L264.2,254.4 L264.5,255.5 L264.8,257.0 L265.1,255.4 L265.4,257.5 L265.7,257.9 L266.0,257.3 L266.3,257.0 L266.6,256.1 L266.9,257.0 L267.2,256.1 L267.5,258.3 L267.8,255.5 L268.1,257.6 L268.4,255.9 L268.7,258.7 L269.0,256.0 L269.3,258.1 L269.6,256.0 L269.9,256.2 L270.2,256.7 L270.5,258.1 L270.8,259.0 L271.1,258.4 L271.4,255.9 L271.7,258.6 L272.0,256.8 L272.3,257.1 L272.6,256.9 L272.9,258.5 L273.2,258.7 L273.5,258.9 L273.8,255.8 L274.1,257.9 L274.4,257.0 L274.7,257.2 L275.0,258.5 L275.3,259.0 L275.6,259.2 L275.9,256.3 L276.2,258.8 L276.5,255.9 L276.8,258.0 L277.1,256.8 L277.4,258.8 L277.7,256.6 L278.0,258.4 L278.3,258.0 L278.6,257.5 L278.9,258.9 L279.2,258.5 L279.5,256.6 L279.8,258.3 L280.1,258.0 L280.4,256.7 L280.7,258.6 L281.0,258.7 L281.3,258.6 L281.6,258.0 L281.9,258.1 L282.2,257.1 L282.5,257.7 L282.8,256.3 L283.1,259.2 L283.4,257.1 L283.7,256.5 L284.0,258.6 L284.3,259.3 L284.6,257.9 L284.9,259.0 L285.2,257.8 L285.5,256.9" fill="none" stroke="#EDB120" stroke-width="1.2" stroke-linejoin="round"/>
<path d="M167.6,259.2 L168.1,259.2 L168.6,259.1 L169.1,259.1 L169.6,259.1 L170.1,259.0 L170.6,259.0 L171.1,258.9 L171.6,258.9 L172.1,258.8 L172.6,258.8 L173.1,258.7 L173.6,258.6 L174.1,258.6 L174.6,258.5 L175.1,258.4 L175.6,258.4 L176.1,258.3 L176.6,258.2 L177.1,258.1 L177.6,258.0 L178.1,257.9 L178.6,257.8 L179.1,257.7 L179.6,257.6 L180.1,257.5 L180.6,257.3 L181.1,257.2 L181.6,257.1 L182.1,256.9 L182.6,256.8 L183.1,256.7 L183.6,256.5 L184.1,256.4 L184.6,256.2 L185.1,256.0 L185.6,255.9 L186.1,255.7 L186.6,255.5 L187.1,255.4 L187.6,255.2 L188.1,255.0 L188.6,254.8 L189.1,254.7 L189.6,254.5 L190.1,254.3 L190.6,254.1 L191.1,253.9 L191.6,253.7 L192.1,253.5 L192.6,253.3 L193.1,253.1 L193.6,252.9 L194.1,252.7 L194.6,252.5 L195.1,252.3 L195.6,252.1 L196.1,251.9 L196.6,251.6 L197.1,251.4 L197.6,251.2 L198.1,250.9 L198.6,250.7 L199.1,250.4 L199.6,250.2 L200.1,249.9 L200.6,249.7 L201.1,249.4 L201.6,249.1 L202.1,248.9 L202.6,248.6 L203.1,248.3 L203.6,248.1 L204.1,247.8 L204.6,247.5 L205.1,247.3 L205.6,247.0 L206.1,246.8 L206.6,246.6 L207.1,246.4 L207.6,246.2 L208.1,246.0 L208.6,245.8 L209.1,245.6 L209.6,245.5 L210.1,245.3 L210.6,245.2 L211.1,245.1 L211.6,245.0 L212.1,244.9 L212.6,244.7 L213.1,244.6 L213.6,244.5 L214.1,244.3 L214.6,244.2 L215.1,243.9 L215.6,243.7 L216.1,243.4 L216.6,243.0 L217.1,242.6 L217.6,242.1 L218.1,241.5 L218.6,240.9 L219.1,240.1 L219.6,239.2 L220.1,238.2 L220.6,237.1 L221.1,235.9 L221.6,234.6 L222.1,233.1 L222.6,231.5 L223.1,229.8 L223.6,228.0 L224.1,226.1 L224.6,224.0 L225.1,221.9 L225.6,219.6 L226.1,217.3 L226.6,214.9 L227.1,212.5 L227.6,210.0 L228.1,207.6 L228.6,205.1 L229.1,202.7 L229.6,200.3 L230.1,198.0 L230.6,195.7 L231.1,193.6 L231.6,191.6 L232.1,189.8 L232.6,188.2 L233.1,186.7 L233.6,185.4 L234.1,184.4 L234.6,183.6 L235.1,183.1 L235.6,182.8 L236.1,182.8 L236.6,183.0 L237.1,183.4 L237.6,184.0 L238.1,184.7 L238.6,185.7 L239.1,186.8 L239.6,188.1 L240.1,189.6 L240.6,191.2 L241.1,192.9 L241.6,194.8 L242.1,196.7 L242.6,198.8 L243.1,200.9 L243.6,203.1 L244.1,205.4 L244.6,207.7 L245.1,210.0 L245.6,212.3 L246.1,214.7 L246.6,217.0 L247.1,219.3 L247.6,221.6 L248.1,223.8 L248.6,226.0 L249.1,228.1 L249.6,230.1 L250.1,232.1 L250.6,234.0 L251.1,235.9 L251.6,237.6 L252.1,239.3 L252.6,240.9 L253.1,242.4 L253.6,243.8 L254.1,245.1 L254.6,246.4 L255.1,247.6 L255.6,248.6 L256.1,249.6 L256.6,250.6 L257.1,251.4 L257.6,252.2 L258.1,252.9 L258.6,253.6 L259.1,254.2 L259.6,254.7 L260.1,255.2 L260.6,255.7 L261.1,256.1 L261.6,256.5 L262.1,256.8 L262.6,257.1 L263.1,257.3 L263.6,257.6 L264.1,257.8 L264.6,258.0 L265.1,258.1 L265.6,258.3 L266.1,258.4 L266.6,258.5 L267.1,258.6 L267.6,258.7 L268.1,258.8 L268.6,258.8 L269.1,258.9 L269.6,259.0 L270.1,259.0 L270.6,259.0 L271.1,259.1 L271.6,259.1 L272.1,259.1 L272.6,259.2 L273.1,259.2 L273.6,259.2 L274.1,259.2 L274.6,259.2 L275.1,259.2 L275.6,259.3 L276.1,259.3 L276.6,259.3 L277.1,259.3 L277.6,259.3 L278.1,259.3 L278.6,259.3 L279.1,259.3 L279.6,259.3 L280.1,259.3 L280.6,259.3 L281.1,259.3 L281.6,259.3 L282.1,259.4 L282.6,259.4 L283.1,259.4 L283.6,259.4 L284.1,259.4 L284.6,259.4 L285.1,259.4 L285.6,259.4" fill="none" stroke="#7E2F8E" stroke-width="1.4" stroke-linejoin="round"/>
<path d="M167.6,259.1 L168.1,259.1 L168.6,259.0 L169.1,259.0 L169.6,259.0 L170.1,258.9 L170.6,258.9 L171.1,258.8 L171.6,258.7 L172.1,258.7 L172.6,258.6 L173.1,258.5 L173.6,258.5 L174.1,258.4 L174.6,258.3 L175.1,258.2 L175.6,258.1 L176.1,258.0 L176.6,257.9 L177.1,257.8 L177.6,257.7 L178.1,257.6 L178.6,257.4 L179.1,257.3 L179.6,257.2 L180.1,257.0 L180.6,256.9 L181.1,256.7 L181.6,256.6 L182.1,256.4 L182.6,256.2 L183.1,256.0 L183.6,255.9 L184.1,255.7 L184.6,255.5 L185.1,255.3 L185.6,255.1 L186.1,254.9 L186.6,254.7 L187.1,254.5 L187.6,254.3 L188.1,254.1 L188.6,253.9 L189.1,253.6 L189.6,253.4 L190.1,253.2 L190.6,253.0 L191.1,252.7 L191.6,252.5 L192.1,252.3 L192.6,252.0 L193.1,251.8 L193.6,251.5 L194.1,251.3 L194.6,251.0 L195.1,250.8 L195.6,250.5 L196.1,250.3 L196.6,250.0 L197.1,249.7 L197.6,249.4 L198.1,249.1 L198.6,248.8 L199.1,248.5 L199.6,248.2 L200.1,247.9 L200.6,247.6 L201.1,247.3 L201.6,247.0 L202.1,246.6 L202.6,246.3 L203.1,246.0 L203.6,245.6 L204.1,245.3 L204.6,245.0 L205.1,244.7 L205.6,244.3 L206.1,244.0 L206.6,243.7 L207.1,243.5 L207.6,243.2 L208.1,242.9 L208.6,242.7 L209.1,242.4 L209.6,242.2 L210.1,242.0 L210.6,241.8 L211.1,241.6 L211.6,241.4 L212.1,241.2 L212.6,241.0 L213.1,240.8 L213.6,240.5 L214.1,240.3 L214.6,240.0 L215.1,239.6 L215.6,239.2 L216.1,238.8 L216.6,238.3 L217.1,237.7 L217.6,237.1 L218.1,236.3 L218.6,235.5 L219.1,234.5 L219.6,233.5 L220.1,232.3 L220.6,231.0 L221.1,229.7 L221.6,228.1 L222.1,226.5 L222.6,224.8 L223.1,223.0 L223.6,221.0 L224.1,219.0 L224.6,216.9 L225.1,214.7 L225.6,212.5 L226.1,210.2 L226.6,207.9 L227.1,205.6 L227.6,203.3 L228.1,201.0 L228.6,198.7 L229.1,196.6 L229.6,194.5 L230.1,192.5 L230.6,190.7 L231.1,189.0 L231.6,187.5 L232.1,186.2 L232.6,185.1 L233.1,184.1 L233.6,183.5 L234.1,183.0 L234.6,182.8 L235.1,182.8 L235.6,183.1 L236.1,183.5 L236.6,184.1 L237.1,184.8 L237.6,185.8 L238.1,186.9 L238.6,188.1 L239.1,189.6 L239.6,191.1 L240.1,192.8 L240.6,194.6 L241.1,196.5 L241.6,198.4 L242.1,200.5 L242.6,202.6 L243.1,204.8 L243.6,207.0 L244.1,209.3 L244.6,211.5 L245.1,213.8 L245.6,216.1 L246.1,218.3 L246.6,220.5 L247.1,222.7 L247.6,224.9 L248.1,226.9 L248.6,229.0 L249.1,231.0 L249.6,232.9 L250.1,234.7 L250.6,236.5 L251.1,238.1 L251.6,239.7 L252.1,241.3 L252.6,242.7 L253.1,244.1 L253.6,245.3 L254.1,246.5 L254.6,247.7 L255.1,248.7 L255.6,249.7 L256.1,250.6 L256.6,251.4 L257.1,252.2 L257.6,252.9 L258.1,253.5 L258.6,254.1 L259.1,254.7 L259.6,255.2 L260.1,255.6 L260.6,256.0 L261.1,256.4 L261.6,256.7 L262.1,257.0 L262.6,257.3 L263.1,257.5 L263.6,257.7 L264.1,257.9 L264.6,258.1 L265.1,258.2 L265.6,258.3 L266.1,258.5 L266.6,258.6 L267.1,258.7 L267.6,258.7 L268.1,258.8 L268.6,258.9 L269.1,258.9 L269.6,259.0 L270.1,259.0 L270.6,259.0 L271.1,259.1 L271.6,259.1 L272.1,259.1 L272.6,259.2 L273.1,259.2 L273.6,259.2 L274.1,259.2 L274.6,259.2 L275.1,259.2 L275.6,259.3 L276.1,259.3 L276.6,259.3 L277.1,259.3 L277.6,259.3 L278.1,259.3 L278.6,259.3 L279.1,259.3 L279.6,259.3 L280.1,259.3 L280.6,259.3 L281.1,259.3 L281.6,259.3 L282.1,259.4 L282.6,259.4 L283.1,259.4 L283.6,259.4 L284.1,259.4 L284.6,259.4 L285.1,259.4 L285.6,259.4" fill="none" stroke="#77AC30" stroke-width="1.4" stroke-linejoin="round"/>
<path d="M167.6,258.9 L168.1,258.9 L168.6,258.8 L169.1,258.8 L169.6,258.7 L170.1,258.6 L170.6,258.6 L171.1,258.5 L171.6,258.4 L172.1,258.3 L172.6,258.2 L173.1,258.1 L173.6,258.0 L174.1,257.9 L174.6,257.7 L175.1,257.6 L175.6,257.5 L176.1,257.3 L176.6,257.2 L177.1,257.0 L177.6,256.8 L178.1,256.6 L178.6,256.5 L179.1,256.3 L179.6,256.1 L180.1,255.9 L180.6,255.6 L181.1,255.4 L181.6,255.2 L182.1,255.0 L182.6,254.7 L183.1,254.4 L183.6,254.2 L184.1,253.9 L184.6,253.6 L185.1,253.4 L185.6,253.1 L186.1,252.8 L186.6,252.5 L187.1,252.2 L187.6,251.9 L188.1,251.6 L188.6,251.3 L189.1,250.9 L189.6,250.6 L190.1,250.3 L190.6,249.9 L191.1,249.6 L191.6,249.3 L192.1,248.9 L192.6,248.6 L193.1,248.2 L193.6,247.9 L194.1,247.5 L194.6,247.1 L195.1,246.8 L195.6,246.4 L196.1,246.0 L196.6,245.6 L197.1,245.2 L197.6,244.8 L198.1,244.4 L198.6,243.9 L199.1,243.5 L199.6,243.0 L200.1,242.6 L200.6,242.1 L201.1,241.6 L201.6,241.2 L202.1,240.7 L202.6,240.2 L203.1,239.7 L203.6,239.2 L204.1,238.7 L204.6,238.2 L205.1,237.7 L205.6,237.3 L206.1,236.8 L206.6,236.4 L207.1,235.9 L207.6,235.5 L208.1,235.1 L208.6,234.8 L209.1,234.4 L209.6,234.1 L210.1,233.8 L210.6,233.5 L211.1,233.2 L211.6,232.9 L212.1,232.7 L212.6,232.4 L213.1,232.1 L213.6,231.8 L214.1,231.5 L214.6,231.2 L215.1,230.8 L215.6,230.4 L216.1,229.9 L216.6,229.4 L217.1,228.8 L217.6,228.1 L218.1,227.4 L218.6,226.5 L219.1,225.6 L219.6,224.5 L220.1,223.4 L220.6,222.1 L221.1,220.7 L221.6,219.3 L222.1,217.7 L222.6,216.0 L223.1,214.3 L223.6,212.4 L224.1,210.5 L224.6,208.6 L225.1,206.6 L225.6,204.6 L226.1,202.5 L226.6,200.5 L227.1,198.5 L227.6,196.5 L228.1,194.6 L228.6,192.8 L229.1,191.0 L229.6,189.4 L230.1,188.0 L230.6,186.6 L231.1,185.5 L231.6,184.5 L232.1,183.8 L232.6,183.2 L233.1,182.9 L233.6,182.8 L234.1,182.9 L234.6,183.2 L235.1,183.7 L235.6,184.3 L236.1,185.1 L236.6,186.0 L237.1,187.1 L237.6,188.4 L238.1,189.7 L238.6,191.2 L239.1,192.9 L239.6,194.6 L240.1,196.4 L240.6,198.3 L241.1,200.3 L241.6,202.4 L242.1,204.5 L242.6,206.6 L243.1,208.8 L243.6,211.0 L244.1,213.2 L244.6,215.4 L245.1,217.6 L245.6,219.7 L246.1,221.9 L246.6,223.9 L247.1,226.0 L247.6,228.0 L248.1,230.0 L248.6,231.8 L249.1,233.7 L249.6,235.4 L250.1,237.1 L250.6,238.7 L251.1,240.2 L251.6,241.7 L252.1,243.1 L252.6,244.4 L253.1,245.6 L253.6,246.8 L254.1,247.8 L254.6,248.8 L255.1,249.8 L255.6,250.6 L256.1,251.5 L256.6,252.2 L257.1,252.9 L257.6,253.5 L258.1,254.1 L258.6,254.6 L259.1,255.1 L259.6,255.5 L260.1,255.9 L260.6,256.3 L261.1,256.6 L261.6,256.9 L262.1,257.2 L262.6,257.4 L263.1,257.6 L263.6,257.8 L264.1,258.0 L264.6,258.2 L265.1,258.3 L265.6,258.4 L266.1,258.5 L266.6,258.6 L267.1,258.7 L267.6,258.8 L268.1,258.8 L268.6,258.9 L269.1,258.9 L269.6,259.0 L270.1,259.0 L270.6,259.1 L271.1,259.1 L271.6,259.1 L272.1,259.1 L272.6,259.2 L273.1,259.2 L273.6,259.2 L274.1,259.2 L274.6,259.2 L275.1,259.2 L275.6,259.3 L276.1,259.3 L276.6,259.3 L277.1,259.3 L277.6,259.3 L278.1,259.3 L278.6,259.3 L279.1,259.3 L279.6,259.3 L280.1,259.3 L280.6,259.3 L281.1,259.3 L281.6,259.3 L282.1,259.4 L282.6,259.4 L283.1,259.4 L283.6,259.4 L284.1,259.4 L284.6,259.4 L285.1,259.4 L285.6,259.4" fill="none" stroke="#4DBEEE" stroke-width="1.4" stroke-linejoin="round"/>
<path d="M167.6,258.7 L168.1,258.7 L168.6,258.6 L169.1,258.5 L169.6,258.4 L170.1,258.3 L170.6,258.2 L171.1,258.1 L171.6,258.0 L172.1,257.9 L172.6,257.7 L173.1,257.6 L173.6,257.4 L174.1,257.3 L174.6,257.1 L175.1,256.9 L175.6,256.7 L176.1,256.5 L176.6,256.3 L177.1,256.1 L177.6,255.9 L178.1,255.6 L178.6,255.4 L179.1,255.1 L179.6,254.8 L180.1,254.6 L180.6,254.3 L181.1,254.0 L181.6,253.6 L182.1,253.3 L182.6,253.0 L183.1,252.6 L183.6,252.3 L184.1,251.9 L184.6,251.6 L185.1,251.2 L185.6,250.8 L186.1,250.4 L186.6,250.0 L187.1,249.6 L187.6,249.2 L188.1,248.7 L188.6,248.3 L189.1,247.9 L189.6,247.4 L190.1,247.0 L190.6,246.5 L191.1,246.1 L191.6,245.6 L192.1,245.2 L192.6,244.7 L193.1,244.2 L193.6,243.7 L194.1,243.2 L194.6,242.7 L195.1,242.2 L195.6,241.7 L196.1,241.2 L196.6,240.6 L197.1,240.1 L197.6,239.5 L198.1,238.9 L198.6,238.3 L199.1,237.7 L199.6,237.1 L200.1,236.5 L200.6,235.9 L201.1,235.2 L201.6,234.5 L202.1,233.9 L202.6,233.2 L203.1,232.5 L203.6,231.8 L204.1,231.2 L204.6,230.5 L205.1,229.8 L205.6,229.2 L206.1,228.5 L206.6,227.9 L207.1,227.3 L207.6,226.7 L208.1,226.2 L208.6,225.7 L209.1,225.2 L209.6,224.7 L210.1,224.3 L210.6,223.9 L211.1,223.5 L211.6,223.1 L212.1,222.8 L212.6,222.4 L213.1,222.1 L213.6,221.8 L214.1,221.4 L214.6,221.1 L215.1,220.7 L215.6,220.2 L216.1,219.8 L216.6,219.3 L217.1,218.7 L217.6,218.0 L218.1,217.3 L218.6,216.5 L219.1,215.6 L219.6,214.7 L220.1,213.6 L220.6,212.4 L221.1,211.2 L221.6,209.9 L222.1,208.5 L222.6,207.0 L223.1,205.4 L223.6,203.8 L224.1,202.2 L224.6,200.5 L225.1,198.8 L225.6,197.1 L226.1,195.4 L226.6,193.8 L227.1,192.2 L227.6,190.7 L228.1,189.2 L228.6,187.9 L229.1,186.7 L229.6,185.6 L230.1,184.7 L230.6,183.9 L231.1,183.4 L231.6,183.0 L232.1,182.8 L232.6,182.8 L233.1,183.0 L233.6,183.4 L234.1,183.9 L234.6,184.6 L235.1,185.4 L235.6,186.4 L236.1,187.5 L236.6,188.7 L237.1,190.1 L237.6,191.5 L238.1,193.1 L238.6,194.8 L239.1,196.6 L239.6,198.4 L240.1,200.3 L240.6,202.3 L241.1,204.3 L241.6,206.4 L242.1,208.5 L242.6,210.6 L243.1,212.8 L243.6,214.9 L244.1,217.0 L244.6,219.1 L245.1,221.2 L245.6,223.2 L246.1,225.2 L246.6,227.2 L247.1,229.1 L247.6,231.0 L248.1,232.8 L248.6,234.5 L249.1,236.2 L249.6,237.8 L250.1,239.3 L250.6,240.8 L251.1,242.2 L251.6,243.5 L252.1,244.7 L252.6,245.9 L253.1,247.0 L253.6,248.0 L254.1,249.0 L254.6,249.9 L255.1,250.7 L255.6,251.5 L256.1,252.2 L256.6,252.9 L257.1,253.5 L257.6,254.1 L258.1,254.6 L258.6,255.1 L259.1,255.5 L259.6,255.9 L260.1,256.3 L260.6,256.6 L261.1,256.9 L261.6,257.1 L262.1,257.4 L262.6,257.6 L263.1,257.8 L263.6,257.9 L264.1,258.1 L264.6,258.2 L265.1,258.4 L265.6,258.5 L266.1,258.6 L266.6,258.7 L267.1,258.7 L267.6,258.8 L268.1,258.9 L268.6,258.9 L269.1,259.0 L269.6,259.0 L270.1,259.0 L270.6,259.1 L271.1,259.1 L271.6,259.1 L272.1,259.2 L272.6,259.2 L273.1,259.2 L273.6,259.2 L274.1,259.2 L274.6,259.2 L275.1,259.2 L275.6,259.3 L276.1,259.3 L276.6,259.3 L277.1,259.3 L277.6,259.3 L278.1,259.3 L278.6,259.3 L279.1,259.3 L279.6,259.3 L280.1,259.3 L280.6,259.3 L281.1,259.3 L281.6,259.3 L282.1,259.4 L282.6,259.4 L283.1,259.4 L283.6,259.4 L284.1,259.4 L284.6,259.4 L285.1,259.4 L285.6,259.4" fill="none" stroke="#A2142F" stroke-width="1.4" stroke-linejoin="round"/>
<path d="M167.6,256.1 L167.9,255.9 L168.2,254.1 L168.5,255.5 L168.8,255.2 L169.1,254.1 L169.4,255.6 L169.7,255.8 L170.0,254.3 L170.3,253.7 L170.6,251.3 L170.9,253.1 L171.2,255.4 L171.5,254.5 L171.8,251.9 L172.1,252.7 L172.4,251.1 L172.7,250.6 L173.0,251.0 L173.3,254.5 L173.6,250.3 L173.9,252.2 L174.2,253.5 L174.5,253.7 L174.8,250.2 L175.1,253.2 L175.4,253.7 L175.7,252.7 L176.0,249.4 L176.3,251.5 L176.6,250.0 L176.9,253.0 L177.2,251.0 L177.5,251.5 L177.8,251.8 L178.1,249.5 L178.4,250.8 L178.7,251.7 L179.0,247.5 L179.3,249.6 L179.6,250.8 L179.9,251.4 L180.2,248.2 L180.5,248.6 L180.8,250.6 L181.1,248.4 L181.4,247.0 L181.7,247.6 L182.0,248.8 L182.3,247.3 L182.6,246.6 L182.9,246.2 L183.2,248.1 L183.5,245.0 L183.8,244.1 L184.1,244.7 L184.4,244.0 L184.7,245.8 L185.0,243.2 L185.3,246.0 L185.6,245.6 L185.9,243.7 L186.2,242.1 L186.5,245.3 L186.8,244.4 L187.1,244.8 L187.4,242.9 L187.7,243.8 L188.0,243.3 L188.3,240.7 L188.6,241.0 L188.9,239.3 L189.2,241.1 L189.5,239.7 L189.8,242.0 L190.1,238.0 L190.4,240.5 L190.7,239.2 L191.0,238.7 L191.3,236.7 L191.6,238.1 L191.9,235.9 L192.2,237.0 L192.5,238.1 L192.8,235.5 L193.1,237.5 L193.4,234.2 L193.7,235.8 L194.0,236.3 L194.3,233.3 L194.6,235.2 L194.9,234.5 L195.2,234.4 L195.5,232.9 L195.8,234.7 L196.1,233.1 L196.4,233.4 L196.7,230.8 L197.0,233.1 L197.3,230.7 L197.6,231.4 L197.9,230.4 L198.2,229.6 L198.5,228.7 L198.8,230.1 L199.1,229.3 L199.4,229.2 L199.7,226.2 L200.0,228.2 L200.3,227.7 L200.6,226.1 L200.9,225.5 L201.2,224.1 L201.5,226.0 L201.8,225.0 L202.1,224.7 L202.4,223.0 L202.7,222.9 L203.0,222.5 L203.3,220.7 L203.6,220.8 L203.9,219.8 L204.2,219.0 L204.5,220.3 L204.8,218.1 L205.1,218.9 L205.4,219.3 L205.7,216.7 L206.0,218.2 L206.3,217.9 L206.6,216.8 L206.9,216.3 L207.2,214.4 L207.5,214.2 L207.8,214.7 L208.1,214.1 L208.4,213.0 L208.7,212.7 L209.0,212.7 L209.3,212.6 L209.6,213.1 L209.9,212.5 L210.2,211.3 L210.5,211.2 L210.8,210.5 L211.1,210.0 L211.4,209.7 L211.7,210.9 L212.0,210.8 L212.3,209.1 L212.6,209.5 L212.9,210.0 L213.2,208.8 L213.5,209.4 L213.8,209.3 L214.1,208.8 L214.4,208.4 L214.7,207.9 L215.0,208.7 L215.3,207.4 L215.6,207.4 L215.9,207.4 L216.2,206.9 L216.5,206.4 L216.8,207.4 L217.1,206.4 L217.4,205.8 L217.7,205.5 L218.0,205.3 L218.3,205.6 L218.6,204.1 L218.9,204.0 L219.2,204.4 L219.5,203.7 L219.8,202.5 L220.1,203.0 L220.4,202.2 L220.7,201.0 L221.0,200.6 L221.3,200.8 L221.6,199.6 L221.9,199.4 L222.2,198.5 L222.5,197.8 L222.8,197.7 L223.1,196.9 L223.4,196.3 L223.7,195.5 L224.0,195.0 L224.3,194.2 L224.6,193.3 L224.9,192.6 L225.2,192.1 L225.5,191.1 L225.8,190.3 L226.1,189.8 L226.4,189.2 L226.7,188.5 L227.0,188.0 L227.3,187.5 L227.6,186.9 L227.9,186.4 L228.2,185.9 L228.5,185.5 L228.8,185.1 L229.1,184.7 L229.4,184.4 L229.7,184.2 L230.0,184.0 L230.3,183.9 L230.6,183.8 L230.9,183.8 L231.2,183.8 L231.5,183.9 L231.8,184.1 L232.1,184.3 L232.4,184.6 L232.7,184.9 L233.0,185.2 L233.3,185.6 L233.6,186.0 L233.9,186.6 L234.2,187.1 L234.5,187.6 L234.8,188.1 L235.1,188.9 L235.4,189.7 L235.7,190.4 L236.0,191.1 L236.3,191.6 L236.6,192.9 L236.9,193.6 L237.2,194.5 L237.5,195.0 L237.8,195.7 L238.1,197.5 L238.4,198.5 L238.7,198.6 L239.0,199.6 L239.3,201.6 L239.6,202.5 L239.9,203.3 L240.2,204.7 L240.5,205.7 L240.8,206.7 L241.1,208.2 L241.4,209.7 L241.7,210.8 L242.0,211.9 L242.3,213.2 L242.6,213.2 L242.9,214.2 L243.2,216.3 L243.5,216.2 L243.8,217.5 L244.1,219.5 L244.4,220.3 L244.7,222.2 L245.0,221.3 L245.3,223.3 L245.6,225.8 L245.9,226.6 L246.2,226.1 L246.5,228.0 L246.8,228.0 L247.1,230.5 L247.4,229.6 L247.7,230.5 L248.0,233.8 L248.3,233.0 L248.6,235.3 L248.9,234.3 L249.2,234.8 L249.5,235.6 L249.8,238.5 L250.1,239.8 L250.4,238.3 L250.7,239.4 L251.0,241.8 L251.3,242.3 L251.6,241.4 L251.9,243.9 L252.2,242.4 L252.5,244.6 L252.8,245.1 L253.1,245.0 L253.4,245.0 L253.7,244.7 L254.0,248.2 L254.3,245.6 L254.6,248.3 L254.9,248.4 L255.2,247.2 L255.5,247.4 L255.8,248.1 L256.1,247.1 L256.4,250.7 L256.7,250.5 L257.0,249.2 L257.3,251.3 L257.6,252.1 L257.9,252.0 L258.2,249.7 L258.5,249.7 L258.8,250.4 L259.1,249.5 L259.4,250.4 L259.7,252.9 L260.0,253.1 L260.3,251.3 L260.6,254.7 L260.9,252.2 L261.2,254.8 L261.5,255.1 L261.8,253.0 L262.1,254.9 L262.4,251.2 L262.7,251.6 L263.0,253.7 L263.3,255.1 L263.6,255.5 L263.9,253.7 L264.2,253.7 L264.5,254.6 L264.8,252.9 L265.1,253.9 L265.4,252.7 L265.7,256.1 L266.0,256.3 L266.3,254.8 L266.6,254.3 L266.9,255.5 L267.2,253.5 L267.5,255.8 L267.8,255.3 L268.1,254.6 L268.4,253.4 L268.7,253.2 L269.0,255.2 L269.3,254.8 L269.6,252.4 L269.9,252.4 L270.2,254.0 L270.5,256.6 L270.8,254.9 L271.1,254.0 L271.4,255.8 L271.7,257.0 L272.0,252.3 L272.3,252.7 L272.6,256.6 L272.9,254.9 L273.2,254.1 L273.5,255.7 L273.8,256.9 L274.1,253.5 L274.4,253.4 L274.7,255.1 L275.0,256.8 L275.3,255.3 L275.6,256.8 L275.9,252.5 L276.2,257.0 L276.5,255.9 L276.8,253.5 L277.1,256.6 L277.4,256.8 L277.7,257.0 L278.0,256.5 L278.3,254.7 L278.6,253.2 L278.9,256.5 L279.2,256.5 L279.5,253.5 L279.8,255.2 L280.1,255.7 L280.4,256.7 L280.7,256.1 L281.0,252.5 L281.3,256.8 L281.6,256.1 L281.9,253.7 L282.2,252.9 L282.5,252.9 L282.8,255.0 L283.1,252.6 L283.4,254.4 L283.7,255.9 L284.0,255.1 L284.3,253.8 L284.6,253.7 L284.9,256.7 L285.2,256.4 L285.5,252.6" fill="none" stroke="#0072BD" stroke-width="1.2" stroke-linejoin="round"/>
</svg>
<rect x="168.10" y="174.60" width="117.00" height="86.50" fill="none" stroke="#6b6b6b" stroke-width="1"/>
<line x1="174.80" y1="261.10" x2="174.80" y2="259.60" stroke="#6b6b6b" stroke-width="0.8"/>
<text x="174.80" y="272.40" font-size="8.4" text-anchor="middle" fill="#1f1f1f">1100</text>
<line x1="209.30" y1="261.10" x2="209.30" y2="259.60" stroke="#6b6b6b" stroke-width="0.8"/>
<text x="209.30" y="272.40" font-size="8.4" text-anchor="middle" fill="#1f1f1f">1200</text>
<line x1="243.80" y1="261.10" x2="243.80" y2="259.60" stroke="#6b6b6b" stroke-width="0.8"/>
<text x="243.80" y="272.40" font-size="8.4" text-anchor="middle" fill="#1f1f1f">1300</text>
<line x1="278.30" y1="261.10" x2="278.30" y2="259.60" stroke="#6b6b6b" stroke-width="0.8"/>
<text x="278.30" y="272.40" font-size="8.4" text-anchor="middle" fill="#1f1f1f">1400</text>
<line x1="184.16" y1="174.60" x2="184.16" y2="176.10" stroke="#6b6b6b" stroke-width="0.8"/>
<text x="184.16" y="171.30" font-size="8.4" text-anchor="middle" fill="#1f1f1f">1.10</text>
<line x1="202.68" y1="174.60" x2="202.68" y2="176.10" stroke="#6b6b6b" stroke-width="0.8"/>
<text x="202.68" y="171.30" font-size="8.4" text-anchor="middle" fill="#1f1f1f">1.05</text>
<line x1="223.04" y1="174.60" x2="223.04" y2="176.10" stroke="#6b6b6b" stroke-width="0.8"/>
<text x="223.04" y="171.30" font-size="8.4" text-anchor="middle" fill="#1f1f1f">1.00</text>
<line x1="245.56" y1="174.60" x2="245.56" y2="176.10" stroke="#6b6b6b" stroke-width="0.8"/>
<text x="245.56" y="171.30" font-size="8.4" text-anchor="middle" fill="#1f1f1f">0.95</text>
<line x1="270.57" y1="174.60" x2="270.57" y2="176.10" stroke="#6b6b6b" stroke-width="0.8"/>
<text x="270.57" y="171.30" font-size="8.4" text-anchor="middle" fill="#1f1f1f">0.90</text>
<text x="202.50" y="160.60" font-size="9.5" text-anchor="start" fill="#1f1f1f">Energy(eV)</text>
<text x="190.00" y="283.80" font-size="9.6" text-anchor="start" fill="#1f1f1f">Wavelength (nm)</text>
<text x="164.00" y="218.20" font-size="9.5" text-anchor="middle" fill="#1f1f1f" transform="rotate(-90 164.0 218.2)">Intensity (a.u.)</text>
<text x="259.50" y="189.20" font-size="9.5" text-anchor="start" fill="#222">0.50°</text>
<text x="175.30" y="190.60" font-size="8.5" text-anchor="start" fill="#222">Increasing</text>
<text x="175.30" y="201.80" font-size="8.5" text-anchor="start" fill="#222">pump</text>
<path d="M230.7,225.4 C228,216 220,207 210.5,204.3" fill="none" stroke="#111" stroke-width="1.1"/>
<path d="M207.6,202.1 L211.6,201.6 L210.2,206.6 Z" fill="#111"/>
<svg x="306.1" y="29.3" width="127.79999999999995" height="231.8" viewBox="306.1 29.3 127.79999999999995 231.8" overflow="hidden">
<path d="M305.0,83.6 L305.7,83.8 L306.4,82.9 L307.1,82.3 L307.8,81.8 L308.5,81.6 L309.2,81.6 L309.9,80.3 L310.6,80.5 L311.3,79.5 L312.0,78.8 L312.7,78.8 L313.4,77.9 L314.1,77.1 L314.8,76.6 L315.5,76.2 L316.2,75.3 L316.9,73.8 L317.6,71.8 L318.3,70.8 L319.0,68.8 L319.7,67.0 L320.4,64.6 L321.1,61.2 L321.8,58.7 L322.5,55.1 L323.2,50.7 L323.9,46.8 L324.6,43.1 L325.3,39.8 L326.0,36.9 L326.7,33.7 L327.4,31.4 L328.1,30.6 L328.8,29.7 L329.5,30.5 L330.2,32.2 L330.9,34.0 L331.6,35.8 L332.3,39.0 L333.0,41.5 L333.7,44.4 L334.4,47.0 L335.1,50.4 L335.8,54.0 L336.5,57.0 L337.2,60.7 L337.9,63.4 L338.6,66.3 L339.3,67.7 L340.0,69.9 L340.7,71.4 L341.4,73.3 L342.1,74.2 L342.8,75.8 L343.5,76.9 L344.2,77.8 L344.9,78.0 L345.6,79.5 L346.3,80.0 L347.0,80.5 L347.7,80.9 L348.4,80.8 L349.1,82.0 L349.8,82.0 L350.5,82.3 L351.2,82.5 L351.9,83.3 L352.6,83.6 L353.3,84.0 L354.0,83.6 L354.7,84.0 L355.4,84.2 L356.1,84.3 L356.8,84.7 L357.5,84.6 L358.2,85.6 L358.9,85.2 L359.6,85.2 L360.3,85.3 L361.0,86.2 L361.7,85.7 L362.4,86.1 L363.1,86.1 L363.8,86.6 L364.5,86.9 L365.2,86.3 L365.9,86.7 L366.6,87.0 L367.3,86.6 L368.0,87.0 L368.7,86.8 L369.4,86.3 L370.1,86.8 L370.8,86.4 L371.5,85.7 L372.2,86.0 L372.9,86.1 L373.6,85.5 L374.3,85.1 L375.0,84.7 L375.7,84.9 L376.4,84.3 L377.1,83.3 L377.8,83.1 L378.5,82.7 L379.2,83.2 L379.9,82.5 L380.6,81.3 L381.3,82.2 L382.0,80.5 L382.7,81.1 L383.4,80.6 L384.1,80.8 L384.8,80.1 L385.5,79.3 L386.2,79.8 L386.9,80.2 L387.6,79.9 L388.3,78.9 L389.0,78.5 L389.7,79.2 L390.4,79.2 L391.1,77.9 L391.8,79.0 L392.5,79.0 L393.2,77.7 L393.9,77.4 L394.6,77.9 L395.3,78.2 L396.0,76.5 L396.7,76.5 L397.4,76.4 L398.1,77.2 L398.8,75.8 L399.5,76.4 L400.2,76.1 L400.9,76.4 L401.6,75.0 L402.3,76.8 L403.0,76.7 L403.7,75.5 L404.4,76.0 L405.1,74.3 L405.8,76.0 L406.5,75.0 L407.2,75.4 L407.9,75.6 L408.6,74.2 L409.3,75.6 L410.0,73.6 L410.7,73.0 L411.4,74.2 L412.1,75.3 L412.8,75.2 L413.5,75.3 L414.2,73.9 L414.9,75.1 L415.6,73.9 L416.3,72.5 L417.0,73.9 L417.7,74.3 L418.4,73.0 L419.1,73.4 L419.8,72.1 L420.5,71.9 L421.2,72.1 L421.9,72.2 L422.6,71.8 L423.3,70.3 L424.0,69.7 L424.7,70.5 L425.4,71.5 L426.1,71.3 L426.8,69.2 L427.5,68.9 L428.2,69.5 L428.9,67.9 L429.6,69.1 L430.3,64.2 L431.0,62.4 L431.7,68.0 L432.4,68.1 L433.1,67.9 L433.8,67.4" fill="none" stroke="#0072BD" stroke-width="1.35" stroke-linejoin="round"/>
<path d="M305.0,144.2 L305.7,143.7 L306.4,144.2 L307.1,144.3 L307.8,143.4 L308.5,144.2 L309.2,143.7 L309.9,143.3 L310.6,143.2 L311.3,143.9 L312.0,143.7 L312.7,143.1 L313.4,143.4 L314.1,143.5 L314.8,143.8 L315.5,143.1 L316.2,143.5 L316.9,143.0 L317.6,142.9 L318.3,142.8 L319.0,143.0 L319.7,143.1 L320.4,142.8 L321.1,142.6 L321.8,142.6 L322.5,142.4 L323.2,142.5 L323.9,142.6 L324.6,142.7 L325.3,142.3 L326.0,142.6 L326.7,142.5 L327.4,143.0 L328.1,142.4 L328.8,142.8 L329.5,142.3 L330.2,142.0 L330.9,142.3 L331.6,141.8 L332.3,141.8 L333.0,141.6 L333.7,142.2 L334.4,142.4 L335.1,141.8 L335.8,141.7 L336.5,141.7 L337.2,141.6 L337.9,141.9 L338.6,141.5 L339.3,141.2 L340.0,141.9 L340.7,141.5 L341.4,140.9 L342.1,141.7 L342.8,141.5 L343.5,141.1 L344.2,141.3 L344.9,141.5 L345.6,140.9 L346.3,140.9 L347.0,140.7 L347.7,140.9 L348.4,140.9 L349.1,140.9 L349.8,141.1 L350.5,140.2 L351.2,140.3 L351.9,140.7 L352.6,140.6 L353.3,140.3 L354.0,140.3 L354.7,139.9 L355.4,140.4 L356.1,139.9 L356.8,139.7 L357.5,139.4 L358.2,139.2 L358.9,139.9 L359.6,139.7 L360.3,138.8 L361.0,139.0 L361.7,139.1 L362.4,139.0 L363.1,138.7 L363.8,139.1 L364.5,138.5 L365.2,138.6 L365.9,138.8 L366.6,138.4 L367.3,138.2 L368.0,137.9 L368.7,137.8 L369.4,137.9 L370.1,138.0 L370.8,137.3 L371.5,137.3 L372.2,137.1 L372.9,137.0 L373.6,137.4 L374.3,136.8 L375.0,136.3 L375.7,136.2 L376.4,136.5 L377.1,135.6 L377.8,136.0 L378.5,135.1 L379.2,135.1 L379.9,134.7 L380.6,135.3 L381.3,134.3 L382.0,134.1 L382.7,133.5 L383.4,133.3 L384.1,133.3 L384.8,132.7 L385.5,132.2 L386.2,131.4 L386.9,130.0 L387.6,129.5 L388.3,127.3 L389.0,127.1 L389.7,125.1 L390.4,123.1 L391.1,121.8 L391.8,119.6 L392.5,116.2 L393.2,112.9 L393.9,111.5 L394.6,109.0 L395.3,106.4 L396.0,104.7 L396.7,101.0 L397.4,98.9 L398.1,97.0 L398.8,94.9 L399.5,94.3 L400.2,92.7 L400.9,90.6 L401.6,89.5 L402.3,88.6 L403.0,88.7 L403.7,88.7 L404.4,89.5 L405.1,89.1 L405.8,91.0 L406.5,91.1 L407.2,92.4 L407.9,93.9 L408.6,95.9 L409.3,99.4 L410.0,101.6 L410.7,103.3 L411.4,104.3 L412.1,106.0 L412.8,107.4 L413.5,109.0 L414.2,110.8 L414.9,110.5 L415.6,112.3 L416.3,113.5 L417.0,113.2 L417.7,114.8 L418.4,116.3 L419.1,116.5 L419.8,116.8 L420.5,118.0 L421.2,117.7 L421.9,117.4 L422.6,117.7 L423.3,118.9 L424.0,118.8 L424.7,118.9 L425.4,118.2 L426.1,117.3 L426.8,117.3 L427.5,117.6 L428.2,118.1 L428.9,116.4 L429.6,117.8 L430.3,117.5 L431.0,116.5 L431.7,114.9 L432.4,116.1 L433.1,114.8 L433.8,114.8 L434.5,114.0" fill="none" stroke="#D95319" stroke-width="1.35" stroke-linejoin="round"/>
<path d="M305.0,203.4 L305.7,202.0 L306.4,202.1 L307.1,201.2 L307.8,200.3 L308.5,198.9 L309.2,197.5 L309.9,196.7 L310.6,195.6 L311.3,195.9 L312.0,194.8 L312.7,193.9 L313.4,193.1 L314.1,192.5 L314.8,191.1 L315.5,189.5 L316.2,189.4 L316.9,187.6 L317.6,187.3 L318.3,185.3 L319.0,185.5 L319.7,184.0 L320.4,183.2 L321.1,184.3 L321.8,182.9 L322.5,184.6 L323.2,184.5 L323.9,183.7 L324.6,185.1 L325.3,185.2 L326.0,186.4 L326.7,186.8 L327.4,187.9 L328.1,189.9 L328.8,189.1 L329.5,190.8 L330.2,189.9 L330.9,190.5 L331.6,190.5 L332.3,192.0 L333.0,191.5 L333.7,192.2 L334.4,191.5 L335.1,192.5 L335.8,192.6 L336.5,191.7 L337.2,192.5 L337.9,193.0 L338.6,192.2 L339.3,193.2 L340.0,192.8 L340.7,193.4 L341.4,194.8 L342.1,195.4 L342.8,196.0 L343.5,195.5 L344.2,196.3 L344.9,197.3 L345.6,197.7 L346.3,197.6 L347.0,198.8 L347.7,198.5 L348.4,199.9 L349.1,199.3 L349.8,198.9 L350.5,200.1 L351.2,199.1 L351.9,200.1 L352.6,198.9 L353.3,200.4 L354.0,199.5 L354.7,199.6 L355.4,198.2 L356.1,198.7 L356.8,197.9 L357.5,197.3 L358.2,197.9 L358.9,196.0 L359.6,196.3 L360.3,195.1 L361.0,195.9 L361.7,195.3 L362.4,193.0 L363.1,193.0 L363.8,192.2 L364.5,191.7 L365.2,190.8 L365.9,189.0 L366.6,189.0 L367.3,186.4 L368.0,185.0 L368.7,184.8 L369.4,181.8 L370.1,180.0 L370.8,178.5 L371.5,176.1 L372.2,173.8 L372.9,173.5 L373.6,170.7 L374.3,169.6 L375.0,166.6 L375.7,166.1 L376.4,162.6 L377.1,162.0 L377.8,159.2 L378.5,157.9 L379.2,155.7 L379.9,154.1 L380.6,154.4 L381.3,156.5 L382.0,157.1 L382.7,158.2 L383.4,162.5 L384.1,165.0 L384.8,167.5 L385.5,170.1 L386.2,170.5 L386.9,172.6 L387.6,174.7 L388.3,176.1 L389.0,176.9 L389.7,175.6 L390.4,178.1 L391.1,178.8 L391.8,179.4 L392.5,179.7 L393.2,180.7 L393.9,182.7 L394.6,183.6 L395.3,183.5 L396.0,184.3 L396.7,185.2 L397.4,185.9 L398.1,185.0 L398.8,183.1 L399.5,185.1 L400.2,182.5 L400.9,183.9 L401.6,183.1 L402.3,179.1 L403.0,179.9 L403.7,180.4 L404.4,177.4 L405.1,177.1 L405.8,175.2 L406.5,173.0 L407.2,172.7 L407.9,171.3 L408.6,170.8 L409.3,171.2 L410.0,169.8 L410.7,170.3 L411.4,168.2 L412.1,165.8 L412.8,167.3 L413.5,164.9 L414.2,163.4 L414.9,163.8 L415.6,161.9 L416.3,159.5 L417.0,159.6 L417.7,157.2 L418.4,159.3 L419.1,154.9 L419.8,157.3 L420.5,152.0 L421.2,150.7 L421.9,152.3 L422.6,149.5 L423.3,150.0 L424.0,147.3 L424.7,150.4 L425.4,149.2 L426.1,149.0 L426.8,150.2 L427.5,150.6 L428.2,149.2 L428.9,149.9 L429.6,146.8 L430.3,148.1 L431.0,151.5 L431.7,156.1 L432.4,154.4 L433.1,157.8 L433.8,156.7 L434.5,161.1" fill="none" stroke="#EDB120" stroke-width="1.35" stroke-linejoin="round"/>
<path d="M305.0,258.7 L305.7,257.6 L306.4,257.6 L307.1,255.6 L307.8,255.5 L308.5,254.9 L309.2,255.5 L309.9,253.7 L310.6,254.6 L311.3,252.7 L312.0,253.1 L312.7,251.5 L313.4,250.2 L314.1,250.1 L314.8,247.6 L315.5,246.5 L316.2,243.6 L316.9,243.0 L317.6,241.2 L318.3,237.4 L319.0,236.2 L319.7,232.8 L320.4,229.7 L321.1,226.6 L321.8,223.4 L322.5,220.2 L323.2,217.2 L323.9,214.3 L324.6,211.1 L325.3,208.7 L326.0,205.8 L326.7,205.2 L327.4,204.1 L328.1,203.8 L328.8,205.6 L329.5,206.3 L330.2,208.7 L330.9,212.0 L331.6,215.6 L332.3,220.1 L333.0,224.0 L333.7,226.4 L334.4,230.5 L335.1,234.0 L335.8,236.8 L336.5,238.9 L337.2,241.3 L337.9,242.3 L338.6,244.2 L339.3,246.5 L340.0,247.6 L340.7,249.9 L341.4,250.2 L342.1,252.4 L342.8,252.3 L343.5,253.0 L344.2,254.6 L344.9,255.3 L345.6,256.0 L346.3,257.4 L347.0,257.1 L347.7,258.4 L348.4,259.2 L349.1,258.9 L349.8,259.3 L350.5,260.3 L351.2,259.9 L351.9,259.3 L352.6,259.2 L353.3,259.2 L354.0,259.7 L354.7,259.2 L355.4,260.1 L356.1,259.6 L356.8,259.3 L357.5,259.6 L358.2,260.2 L358.9,258.9 L359.6,258.5 L360.3,258.6 L361.0,258.5 L361.7,259.3 L362.4,258.7 L363.1,258.0 L363.8,257.2 L364.5,256.6 L365.2,256.4 L365.9,257.3 L366.6,256.5 L367.3,255.2 L368.0,255.6 L368.7,254.0 L369.4,254.3 L370.1,253.5 L370.8,252.6 L371.5,253.2 L372.2,252.7 L372.9,251.8 L373.6,250.6 L374.3,251.0 L375.0,250.0 L375.7,250.0 L376.4,248.2 L377.1,249.4 L377.8,246.8 L378.5,246.7 L379.2,246.4 L379.9,245.3 L380.6,244.3 L381.3,245.0 L382.0,245.1 L382.7,242.7 L383.4,241.7 L384.1,241.8 L384.8,239.7 L385.5,239.1 L386.2,238.6 L386.9,236.4 L387.6,233.7 L388.3,231.3 L389.0,230.5 L389.7,229.9 L390.4,228.1 L391.1,224.3 L391.8,224.0 L392.5,222.6 L393.2,220.4 L393.9,220.5 L394.6,218.6 L395.3,218.3 L396.0,215.3 L396.7,216.0 L397.4,214.3 L398.1,211.8 L398.8,209.3 L399.5,209.3 L400.2,206.9 L400.9,207.6 L401.6,206.5 L402.3,205.1 L403.0,206.1 L403.7,203.0 L404.4,206.1 L405.1,207.5 L405.8,206.2 L406.5,208.3 L407.2,208.6 L407.9,211.9 L408.6,213.8 L409.3,213.8 L410.0,216.6 L410.7,216.7 L411.4,219.3 L412.1,218.4 L412.8,221.9 L413.5,220.3 L414.2,219.0 L414.9,219.8 L415.6,222.9 L416.3,224.0 L417.0,223.4 L417.7,221.8 L418.4,225.5 L419.1,225.8 L419.8,223.8 L420.5,224.9 L421.2,226.0 L421.9,222.6 L422.6,222.4 L423.3,223.3 L424.0,225.2 L424.7,225.3 L425.4,221.7 L426.1,224.0 L426.8,222.9 L427.5,222.7 L428.2,220.7 L428.9,221.9 L429.6,219.5 L430.3,220.0 L431.0,216.8 L431.7,213.6 L432.4,213.7 L433.1,211.9 L433.8,209.5 L434.5,208.0" fill="none" stroke="#7E2F8E" stroke-width="1.35" stroke-linejoin="round"/>
<line x1="329.4" y1="29.3" x2="329.4" y2="261.1" stroke="#3f95d6" stroke-width="1.1" stroke-dasharray="4,1.8"/>
<line x1="403.9" y1="29.3" x2="403.9" y2="261.1" stroke="#f3b09a" stroke-width="1.2" stroke-dasharray="4,1.8"/>
</svg>
<rect x="306.10" y="29.30" width="127.80" height="231.80" fill="none" stroke="#9a9a9a" stroke-width="1.1"/>
<line x1="306.10" y1="87.00" x2="433.90" y2="87.00" stroke="#555" stroke-width="1"/>
<line x1="306.10" y1="145.20" x2="433.90" y2="145.20" stroke="#555" stroke-width="1"/>
<line x1="306.10" y1="203.30" x2="433.90" y2="203.30" stroke="#555" stroke-width="1"/>
<line x1="306.00" y1="261.10" x2="306.00" y2="259.60" stroke="#6b6b6b" stroke-width="0.8"/>
<text x="306.00" y="272.20" font-size="8.4" text-anchor="middle" fill="#1f1f1f">1.6</text>
<line x1="338.00" y1="261.10" x2="338.00" y2="259.60" stroke="#6b6b6b" stroke-width="0.8"/>
<text x="338.00" y="272.20" font-size="8.4" text-anchor="middle" fill="#1f1f1f">1.7</text>
<line x1="370.00" y1="261.10" x2="370.00" y2="259.60" stroke="#6b6b6b" stroke-width="0.8"/>
<text x="370.00" y="272.20" font-size="8.4" text-anchor="middle" fill="#1f1f1f">1.8</text>
<line x1="402.00" y1="261.10" x2="402.00" y2="259.60" stroke="#6b6b6b" stroke-width="0.8"/>
<text x="402.00" y="272.20" font-size="8.4" text-anchor="middle" fill="#1f1f1f">1.9</text>
<line x1="434.00" y1="261.10" x2="434.00" y2="259.60" stroke="#6b6b6b" stroke-width="0.8"/>
<text x="434.00" y="272.20" font-size="8.4" text-anchor="middle" fill="#1f1f1f">2</text>
<line x1="323.00" y1="29.30" x2="323.00" y2="30.80" stroke="#6b6b6b" stroke-width="0.8"/>
<text x="323.00" y="25.20" font-size="8.4" text-anchor="middle" fill="#1f1f1f">750</text>
<line x1="360.78" y1="29.30" x2="360.78" y2="30.80" stroke="#6b6b6b" stroke-width="0.8"/>
<text x="360.78" y="25.20" font-size="8.4" text-anchor="middle" fill="#1f1f1f">700</text>
<line x1="404.38" y1="29.30" x2="404.38" y2="30.80" stroke="#6b6b6b" stroke-width="0.8"/>
<text x="404.38" y="25.20" font-size="8.4" text-anchor="middle" fill="#1f1f1f">650</text>
<text x="333.00" y="14.30" font-size="9.6" text-anchor="start" fill="#1f1f1f">Wavelength (nm)</text>
<text x="344.20" y="283.40" font-size="9.6" text-anchor="start" fill="#1f1f1f">Energy (eV)</text>
<text x="302.60" y="147.60" font-size="10.3" text-anchor="middle" fill="#1f1f1f" transform="rotate(-90 302.6 147.6)">Reflection contrast (a.u.)</text>
<text x="408.60" y="45.90" font-size="9.2" text-anchor="start" fill="#222">WSe<tspan font-size="6.3" dy="2">2</tspan></text>
<text x="408.60" y="138.30" font-size="9.2" text-anchor="start" fill="#222">MoS<tspan font-size="6.3" dy="2">2</tspan></text>
<text x="408.80" y="200.20" font-size="10.0" text-anchor="start" fill="#222">0.36°</text>
<text x="404.50" y="255.90" font-size="10.0" text-anchor="start" fill="#222">11.80°</text>
<line x1="319.90" y1="166.90" x2="319.90" y2="175.30" stroke="#111" stroke-width="0.9"/>
<path d="M318.0,173.5 L321.79999999999995,173.5 L319.9,178.3 Z" fill="#111"/>
<line x1="337.60" y1="170.80" x2="337.60" y2="180.20" stroke="#111" stroke-width="0.9"/>
<path d="M335.70000000000005,178.39999999999998 L339.5,178.39999999999998 L337.6,183.2 Z" fill="#111"/>
<rect x="144.3" y="287.3" width="1.2" height="1.2" fill="#555"/></svg></body></html>
